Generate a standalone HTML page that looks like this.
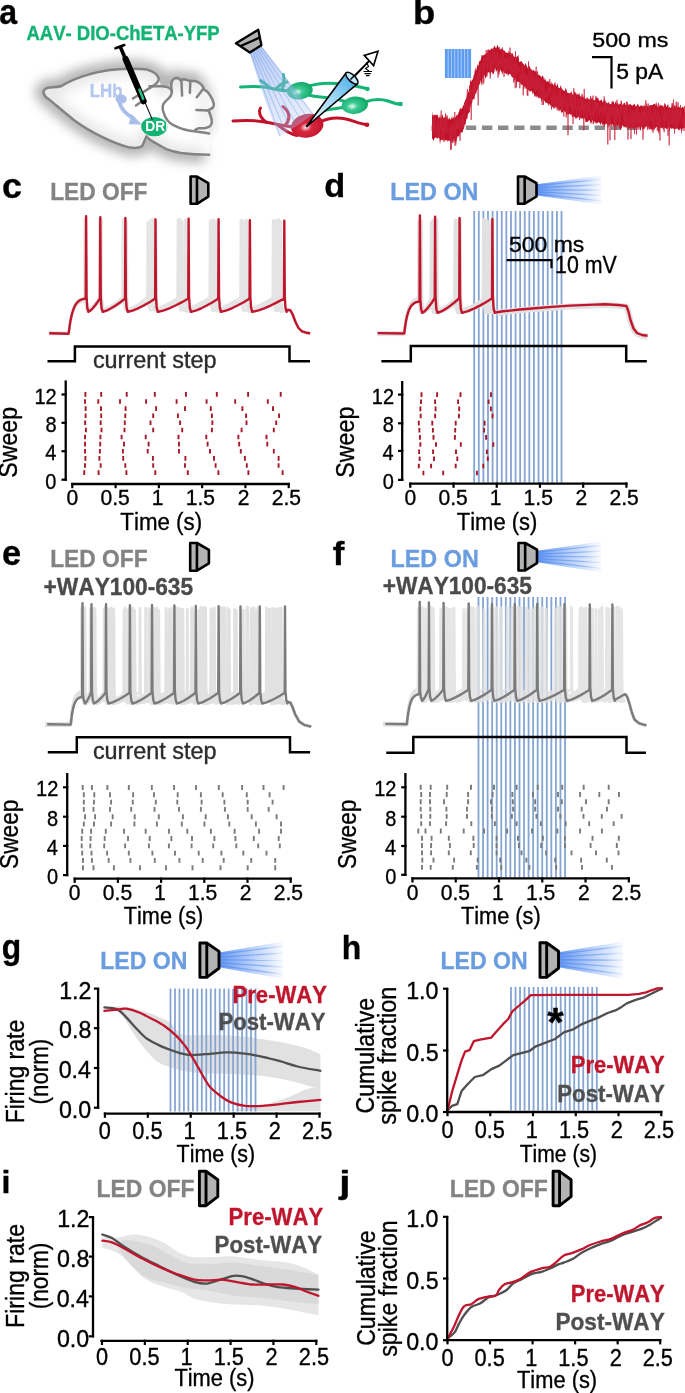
<!DOCTYPE html>
<html><head><meta charset="utf-8"><title>Figure</title><style>html,body{margin:0;padding:0;background:#fff;}svg{display:block;}</style></head><body>
<svg width="685" height="1393" viewBox="0 0 685 1393" font-family="'Liberation Sans', Arial, Helvetica, sans-serif" style="font-kerning:none"><defs><filter id="blur4" x="-25%" y="-40%" width="150%" height="180%"><feGaussianBlur stdDeviation="5.5"/></filter><filter id="blur1" x="-50%" y="-50%" width="200%" height="200%"><feGaussianBlur stdDeviation="0.6"/></filter><linearGradient id="fadeG" gradientUnits="userSpaceOnUse" x1="195" y1="0" x2="222" y2="0"><stop offset="0" stop-color="#fff"/><stop offset="1" stop-color="#000"/></linearGradient><mask id="fadeR" maskUnits="userSpaceOnUse" x="0" y="0" width="240" height="175"><rect x="0" y="0" width="240" height="175" fill="url(#fadeG)"/></mask><clipPath id="drnclip"><ellipse cx="154.3" cy="126.6" rx="13.1" ry="9.6"/></clipPath><radialGradient id="gsoma" cx="0.4" cy="0.55" r="0.6"><stop offset="0" stop-color="#e8fff4"/><stop offset="0.35" stop-color="#3cc893"/><stop offset="1" stop-color="#0ea866"/></radialGradient><radialGradient id="rsoma" cx="0.45" cy="0.55" r="0.6"><stop offset="0" stop-color="#ffe9ee"/><stop offset="0.3" stop-color="#d8283f"/><stop offset="1" stop-color="#c0102a"/></radialGradient><linearGradient id="cone" x1="0" y1="0" x2="0.35" y2="1"><stop offset="0" stop-color="#7fa2ee" stop-opacity="0.95"/><stop offset="1" stop-color="#b9cdf6" stop-opacity="0.55"/></linearGradient><linearGradient id="pip" x1="1" y1="0" x2="0" y2="1"><stop offset="0" stop-color="#3aa6e6"/><stop offset="0.45" stop-color="#9dd6f5"/><stop offset="1" stop-color="#f4fbff"/></linearGradient><linearGradient id="bm9" gradientUnits="userSpaceOnUse" x1="536.5" y1="0" x2="601.5" y2="0"><stop offset="0" stop-color="#5a90f0" stop-opacity="0.95"/><stop offset="0.4" stop-color="#86aff4" stop-opacity="0.75"/><stop offset="0.8" stop-color="#b4cdf8" stop-opacity="0.45"/><stop offset="1" stop-color="#d2e2fb" stop-opacity="0.15"/></linearGradient><linearGradient id="br10" gradientUnits="userSpaceOnUse" x1="536.5" y1="0" x2="601.5" y2="0"><stop offset="0" stop-color="#4a82ec" stop-opacity="0.55"/><stop offset="0.7" stop-color="#5a8ff0" stop-opacity="0.55"/><stop offset="1" stop-color="#7aa6f3" stop-opacity="0.1"/></linearGradient><linearGradient id="bm11" gradientUnits="userSpaceOnUse" x1="537" y1="0" x2="601" y2="0"><stop offset="0" stop-color="#5a90f0" stop-opacity="0.95"/><stop offset="0.4" stop-color="#86aff4" stop-opacity="0.75"/><stop offset="0.8" stop-color="#b4cdf8" stop-opacity="0.45"/><stop offset="1" stop-color="#d2e2fb" stop-opacity="0.15"/></linearGradient><linearGradient id="br12" gradientUnits="userSpaceOnUse" x1="537" y1="0" x2="601" y2="0"><stop offset="0" stop-color="#4a82ec" stop-opacity="0.55"/><stop offset="0.7" stop-color="#5a8ff0" stop-opacity="0.55"/><stop offset="1" stop-color="#7aa6f3" stop-opacity="0.1"/></linearGradient><linearGradient id="bm13" gradientUnits="userSpaceOnUse" x1="219" y1="0" x2="283" y2="0"><stop offset="0" stop-color="#5a90f0" stop-opacity="0.95"/><stop offset="0.4" stop-color="#86aff4" stop-opacity="0.75"/><stop offset="0.8" stop-color="#b4cdf8" stop-opacity="0.45"/><stop offset="1" stop-color="#d2e2fb" stop-opacity="0.15"/></linearGradient><linearGradient id="br14" gradientUnits="userSpaceOnUse" x1="219" y1="0" x2="283" y2="0"><stop offset="0" stop-color="#4a82ec" stop-opacity="0.55"/><stop offset="0.7" stop-color="#5a8ff0" stop-opacity="0.55"/><stop offset="1" stop-color="#7aa6f3" stop-opacity="0.1"/></linearGradient><linearGradient id="bm15" gradientUnits="userSpaceOnUse" x1="558.5" y1="0" x2="623" y2="0"><stop offset="0" stop-color="#5a90f0" stop-opacity="0.95"/><stop offset="0.4" stop-color="#86aff4" stop-opacity="0.75"/><stop offset="0.8" stop-color="#b4cdf8" stop-opacity="0.45"/><stop offset="1" stop-color="#d2e2fb" stop-opacity="0.15"/></linearGradient><linearGradient id="br16" gradientUnits="userSpaceOnUse" x1="558.5" y1="0" x2="623" y2="0"><stop offset="0" stop-color="#4a82ec" stop-opacity="0.55"/><stop offset="0.7" stop-color="#5a8ff0" stop-opacity="0.55"/><stop offset="1" stop-color="#7aa6f3" stop-opacity="0.1"/></linearGradient></defs><rect width="685" height="1393" fill="#fff"/><text x="-0.74" y="24.2" font-size="35.7" font-weight="bold" fill="#000" stroke="#000" stroke-width="0.35" textLength="17.84" lengthAdjust="spacingAndGlyphs">a</text>
<text x="26.44" y="39.7" font-size="19.76" font-weight="bold" fill="#12b373" stroke="#12b373" stroke-width="0.35" textLength="193.29" lengthAdjust="spacingAndGlyphs">AAV- DIO-ChETA-YFP</text>
<g mask="url(#fadeR)">
<path d="M209.2,133.4 C208,131 210,128 209.2,126.7 C211,126 212,120 211.2,118 C210,113 209,111.5 208.1,110.4 C211,109 214,106 213.8,103.7 C213,99 211,96 210.2,95.5 C208,92 206,90.5 204,89.4 C203,87 200,83 195.9,81.2 C193,80.6 190,80.6 188.7,80.7 C186,79.4 184,79.2 180.5,80.2 C179,78.3 176,77.8 173.4,79.2 C172,80.5 171.3,83 171.3,84.3 C170,86.5 165,86.3 161,86 C159.5,80 158.5,76.5 155.7,74 C150,70 140,68.4 130,68.6 C116,69 102,71.5 88.4,74.6 C80,76.5 72,80 60.7,86.3 C58.5,87.2 56,87.2 52,87.3 C47,87.7 44.5,88.5 43.5,91.5 C43,94 45,96 49,99.4 C56,106 63,112 73.8,119.9 C82,126 92,132 103,137.4 C110,141 118,144 130,147.6 C134,147.8 139,148 141.9,146.4 C143.5,144 144.5,140 146,137 C150,140 153,142 155,142.6 C160,145.5 163,147.5 165.2,148.7 C170,150.8 175,152 180.5,152.8 C190,153.8 200,154.6 209.2,154.8" fill="none" stroke="#9c9c9c" stroke-width="17" stroke-linecap="butt" filter="url(#blur4)" opacity="0.75"/>
<path d="M209.2,133.4 C208,131 210,128 209.2,126.7 C211,126 212,120 211.2,118 C210,113 209,111.5 208.1,110.4 C211,109 214,106 213.8,103.7 C213,99 211,96 210.2,95.5 C208,92 206,90.5 204,89.4 C203,87 200,83 195.9,81.2 C193,80.6 190,80.6 188.7,80.7 C186,79.4 184,79.2 180.5,80.2 C179,78.3 176,77.8 173.4,79.2 C172,80.5 171.3,83 171.3,84.3 C170,86.5 165,86.3 161,86 C159.5,80 158.5,76.5 155.7,74 C150,70 140,68.4 130,68.6 C116,69 102,71.5 88.4,74.6 C80,76.5 72,80 60.7,86.3 C58.5,87.2 56,87.2 52,87.3 C47,87.7 44.5,88.5 43.5,91.5 C43,94 45,96 49,99.4 C56,106 63,112 73.8,119.9 C82,126 92,132 103,137.4 C110,141 118,144 130,147.6 C134,147.8 139,148 141.9,146.4 C143.5,144 144.5,140 146,137 C150,140 153,142 155,142.6 C160,145.5 163,147.5 165.2,148.7 C170,150.8 175,152 180.5,152.8 C190,153.8 200,154.6 209.2,154.8 Z" fill="#fff" opacity="0.7"/>
</g>
<g fill="none" stroke="#838383" stroke-width="2.5" stroke-linecap="round" stroke-linejoin="round">
<path d="M133,98.5 L153.9,85.4 C157,83 159.3,80.5 158.7,78.4 C157.5,74 152,71 146.9,69.6 C138,68 120,68.6 110,70 C100,71.5 92,73.5 88.4,74.6 C78,77.5 68,82 60.7,86.3 C57,87.4 52,87.2 48,87.7 C44,88.6 43,91.5 43.6,93.6 C45,97 47,98.5 49,99.4 C57,106 65,113 73.8,119.9 C84,127.5 93,132.5 103,137.4 C112,141.8 121,145.5 130,147.6 C135,148.3 139,148 141.9,146.4 C143.6,144 144.5,140 146.5,136.5"/>
<path d="M136,105.5 L141,102"/>
<path d="M149.5,86.3 L161.1,86.3 C165,86.6 168,87 169.3,87.9 C171.5,89.5 172,90.5 171.9,91.5 C171.5,94 171,95.5 170.3,96.6 C168.5,99 166.5,100 165.2,101.7 C163.5,103.5 162.8,105 162.7,106.8 C162.5,109 163,111 163.7,112.9 C164.5,116 166,118.5 167.3,120.1 C169,122.5 171,124 173.4,125.2 C177,127 180,128.4 183.6,129.3 C187,130.2 190,130.8 193.8,131.3 C199,132 204,132.8 209.2,133.4"/>
<path d="M171.9,91.5 C171.3,88 171,86 171.3,84.3 C171.6,81.5 172.3,80 173.4,79.2 C174.6,78.3 176,78 177,78 C178.5,78.2 179.5,78.8 180.5,80.2 C181.5,79.5 182.5,79.2 183.5,79.2 C185.5,79.3 187,79.6 188.7,80.7 C191,80.6 193.5,80.6 195.9,81.2 C198.5,82.2 200.5,83.5 202,85.3 C203,86.8 203.7,88 204,89.4 C206,90.5 208.5,92 210.2,95.5 C211.5,97.5 212.8,99.5 213.8,103.7 C214,105.5 213.5,107 212.7,107.8 C211.5,108.8 210,109.3 208.1,110.4 C209,111.5 210,113.5 211.2,118 C212,120.5 211.8,122 211.7,123.1 C211,125 210.5,126 209.2,126.7 C207,127.8 205.5,128.1 204,128.2 C201,128.4 199,128 198.9,128.2 C197,128.5 195.5,129.5 194.9,130.3"/>
<path d="M182.1,95.6 L181.4,80.6 M189.9,92.8 L190.3,82 M196.8,97.3 L203.5,88.6 M196.4,110 L208.5,110.4"/>
<path d="M146.5,136.5 C149,139.5 152,141.5 156,143.4 C160,145.5 163,147.5 167,149.3 C172,151.2 176,152.2 181,152.9 C190,153.9 200,154.5 209.2,154.8"/>
</g>
<text x="89.67" y="97.2" font-size="19.2" font-weight="bold" fill="#b4c8ee" stroke="#b4c8ee" stroke-width="0.35" textLength="32.82" lengthAdjust="spacingAndGlyphs">LHb</text>
<ellipse cx="121.2" cy="99" rx="5.6" ry="4.6" fill="#a9bfea"/>
<path d="M119.5,102 C120.5,108 125,113.5 133.5,118.5" fill="none" stroke="#a9bfea" stroke-width="4" stroke-linecap="round"/>
<path d="M131.5,114 L142,124.5 L128.8,124.2 Z" fill="#a9bfea"/>
<ellipse cx="154.3" cy="126.6" rx="13.1" ry="9.6" fill="#12b373"/>
<g clip-path="url(#drnclip)">
<text x="145.3" y="131.4" font-size="13.8" font-weight="bold" fill="#fff">DRN</text>
</g>
<line x1="144.8" y1="101.9" x2="152.3" y2="119.6" stroke="#000" stroke-width="1.1"/>
<line x1="125.6" y1="59" x2="143.6" y2="101.2" stroke="#000" stroke-width="6.2" stroke-linecap="round"/>
<line x1="139.4" y1="89.6" x2="143.2" y2="98.9" stroke="#27c285" stroke-width="2.6" stroke-linecap="round"/>
<line x1="120.3" y1="46.8" x2="125.4" y2="59" stroke="#000" stroke-width="3.6"/>
<line x1="115.5" y1="48.2" x2="124.3" y2="45" stroke="#000" stroke-width="2.6" stroke-linecap="round"/>
<g fill="none" stroke="#13b476" stroke-width="3" stroke-linecap="round">
<path d="M240.5,87 C250,86.3 262,86 272,88.5 C280,90.5 286,91 292,91"/>
<path d="M270,88 C266,84 263,82 260.7,80.5 M282,90 C284,85 284.5,79 283.3,74.6 M276,89.5 C279,85 282,83 287,82"/>
<path d="M309,86 C318,83 330,82.5 342,84 C352,85.5 360,86.5 367,88.8"/>
<path d="M308,95 C318,97.5 328,97 338,99.5 C342,100.5 344,101 346,102"/>
<path d="M343,107.5 C335,109 326,109.5 318,112"/>
<path d="M365,102 C373,99 380,98.5 388,101 C393,103 397,104.2 400,104"/>
</g>
<circle cx="367.5" cy="89" r="2.2" fill="#13b476"/><circle cx="400.5" cy="104" r="2.3" fill="#13b476"/>
<ellipse cx="299.8" cy="90.8" rx="13" ry="8.7" fill="url(#gsoma)" transform="rotate(-8 299.8 90.8)"/>
<ellipse cx="354.8" cy="105.2" rx="13.2" ry="8.7" fill="url(#gsoma)" transform="rotate(-6 354.8 105.2)"/>
<g fill="none" stroke="#c0132b" stroke-width="3" stroke-linecap="round">
<path d="M233,121 C245,120 258,120.5 268,122.5 C278,124.5 286,126.5 294,127"/>
<path d="M266,122 C262,119 259.5,115 259.5,111.5 C259.7,109.5 260,108.5 260.5,108"/>
<path d="M285,125.5 C289,121 290,116 287.5,111.5 C286,109 284,107.5 283,106.5"/>
<path d="M278,125 C284,130 290,134 297,135.5"/>
<path d="M320,122 C328,118 337,117 346,119 C354,121 360,124 366.5,124.7"/>
</g>
<circle cx="367" cy="124.7" r="2.3" fill="#c0132b"/>
<ellipse cx="307.2" cy="125.8" rx="16.4" ry="11.8" fill="url(#rsoma)" transform="rotate(-12 307.2 125.8)"/>
<path d="M249.7,52.7 L261.2,45.6 C280,70 300,95 314,114 C300,124 290,130 279,137 C268,110 258,80 249.7,52.7 Z" fill="url(#cone)" opacity="0.62"/>
<g stroke="#5f86e0" stroke-width="0.7" opacity="0.55">
<line x1="250.5" y1="52.2" x2="280" y2="136"/>
<line x1="252.17" y1="51.17" x2="285.5" y2="132.42"/>
<line x1="253.83" y1="50.13" x2="291" y2="128.83"/>
<line x1="255.5" y1="49.1" x2="296.5" y2="125.25"/>
<line x1="257.17" y1="48.07" x2="302" y2="121.67"/>
<line x1="258.83" y1="47.03" x2="307.5" y2="118.08"/>
<line x1="260.5" y1="46" x2="313" y2="114.5"/>
</g>
<path d="M236,43.2 L258.3,29.8 L261.4,45.3 L249.8,52.5 Z" stroke="#000" stroke-width="2.3" fill="#b2b2b2" stroke-linejoin="round"/>
<line x1="240.2" y1="46.3" x2="259.6" y2="37.6" stroke="#000" stroke-width="2.3"/>
<line x1="306.6" y1="126.5" x2="376" y2="54" stroke="#000" stroke-width="1.6"/>
<path d="M306.6,126.5 L346.2,72.8 L357.6,83.6 Z" stroke="#000" stroke-width="1.6" fill="url(#pip)" stroke-linejoin="round"/>
<ellipse cx="351.9" cy="78.2" rx="7.9" ry="3.3" transform="rotate(43.5 351.9 78.2)" fill="#bfe6fb" stroke="#000" stroke-width="1.5"/>
<line x1="350.5" y1="79.5" x2="376" y2="54" stroke="#000" stroke-width="1.6"/>
<path d="M378,51.2 L364.2,55.4 L373.6,65.6 Z" stroke="#000" stroke-width="1.6" fill="#fff" stroke-linejoin="miter"/>
<path d="M366.5,62 L368.5,66.5 L365.5,68.5 L369,71 M363.5,71.5 L372,71.5 M364.5,73.6 L370.8,73.6 M366,75.6 L369.5,75.6" stroke="#000" stroke-width="1.1" fill="none"/>
<text x="413.01" y="24.3" font-size="33.66" font-weight="bold" fill="#000" stroke="#000" stroke-width="0.35" textLength="22.18" lengthAdjust="spacingAndGlyphs">b</text>
<rect x="444.9" y="49" width="26.2" height="29" fill="#5b9cf0"/>
<line x1="448.17" y1="49" x2="448.17" y2="78" stroke="#cfe0fb" stroke-width="0.7"/>
<line x1="451.45" y1="49" x2="451.45" y2="78" stroke="#cfe0fb" stroke-width="0.7"/>
<line x1="454.72" y1="49" x2="454.72" y2="78" stroke="#cfe0fb" stroke-width="0.7"/>
<line x1="458" y1="49" x2="458" y2="78" stroke="#cfe0fb" stroke-width="0.7"/>
<line x1="461.27" y1="49" x2="461.27" y2="78" stroke="#cfe0fb" stroke-width="0.7"/>
<line x1="464.55" y1="49" x2="464.55" y2="78" stroke="#cfe0fb" stroke-width="0.7"/>
<line x1="467.82" y1="49" x2="467.82" y2="78" stroke="#cfe0fb" stroke-width="0.7"/>
<line x1="465.8" y1="127.7" x2="642" y2="127.7" stroke="#8b8b8b" stroke-width="4.6" stroke-dasharray="10.4 5.7"/>
<path d="M432.0,111.5 432.8,116.1 433.6,115.0 434.4,114.8 435.2,115.4 436.0,114.0 436.8,115.4 437.6,114.4 438.4,117.7 439.2,118.3 440.0,115.1 440.8,118.6 441.6,117.6 442.4,113.8 443.2,117.6 444.0,118.5 444.8,117.3 445.6,117.5 446.4,118.3 447.2,115.0 448.0,120.1 448.8,118.2 449.6,117.7 450.4,119.8 451.2,119.0 452.0,115.7 452.8,119.1 453.6,116.8 454.4,119.0 455.2,117.6 456.0,116.3 456.8,115.1 457.6,115.9 458.4,112.7 459.2,111.2 460.0,107.7 460.8,108.8 461.6,109.0 462.4,107.4 463.2,105.5 464.0,104.8 464.8,101.8 465.6,100.6 466.4,97.4 467.2,93.9 468.0,92.8 468.8,91.0 469.6,86.3 470.4,79.2 471.2,82.1 472.0,79.7 472.8,79.4 473.6,76.1 474.4,73.2 475.2,67.2 476.0,71.3 476.8,67.6 477.6,64.3 478.4,66.1 479.2,61.3 480.0,60.8 480.8,60.3 481.6,54.7 482.4,55.5 483.2,55.5 484.0,55.1 484.8,54.3 485.6,54.1 486.4,53.8 487.2,50.8 488.0,53.2 488.8,50.5 489.6,49.9 490.4,49.9 491.2,47.8 492.0,49.4 492.8,49.2 493.6,47.6 494.4,45.6 495.2,47.2 496.0,48.1 496.8,47.1 497.6,44.4 498.4,47.8 499.2,46.2 500.0,50.3 500.8,48.2 501.6,49.3 502.4,46.5 503.2,51.3 504.0,50.5 504.8,51.1 505.6,52.4 506.4,52.6 507.2,52.8 508.0,53.2 508.8,50.6 509.6,52.8 510.4,52.8 511.2,54.8 512.0,54.0 512.8,53.3 513.6,56.2 514.4,56.8 515.2,56.9 516.0,57.8 516.8,56.5 517.6,55.9 518.4,55.0 519.2,61.7 520.0,62.0 520.8,61.1 521.6,61.6 522.4,62.8 523.2,63.8 524.0,64.6 524.8,65.9 525.6,62.4 526.4,64.9 527.2,67.2 528.0,68.0 528.8,64.8 529.6,66.5 530.4,68.4 531.2,68.8 532.0,70.8 532.8,70.6 533.6,69.9 534.4,70.9 535.2,71.6 536.0,71.2 536.8,73.7 537.6,75.1 538.4,74.4 539.2,75.0 540.0,75.7 540.8,76.2 541.6,77.6 542.4,75.6 543.2,75.9 544.0,80.4 544.8,79.7 545.6,79.3 546.4,81.8 547.2,81.7 548.0,80.6 548.8,82.0 549.6,82.7 550.4,84.6 551.2,81.2 552.0,84.7 552.8,83.1 553.6,85.7 554.4,83.7 555.2,81.5 556.0,86.4 556.8,85.5 557.6,83.4 558.4,87.6 559.2,88.2 560.0,87.8 560.8,85.0 561.6,88.2 562.4,89.4 563.2,89.7 564.0,90.9 564.8,91.1 565.6,87.8 566.4,89.4 567.2,92.4 568.0,93.0 568.8,93.0 569.6,93.4 570.4,93.3 571.2,91.1 572.0,93.2 572.8,95.1 573.6,94.6 574.4,90.7 575.2,93.5 576.0,92.2 576.8,95.2 577.6,93.4 578.4,95.3 579.2,92.4 580.0,96.1 580.8,96.4 581.6,97.2 582.4,94.4 583.2,98.1 584.0,96.1 584.8,97.7 585.6,99.0 586.4,99.2 587.2,97.6 588.0,99.5 588.8,98.2 589.6,99.7 590.4,100.5 591.2,98.9 592.0,96.5 592.8,99.4 593.6,99.8 594.4,100.6 595.2,99.7 596.0,98.3 596.8,97.0 597.6,98.0 598.4,98.4 599.2,100.9 600.0,100.5 600.8,100.2 601.6,99.2 602.4,102.2 603.2,101.6 604.0,99.6 604.8,99.9 605.6,103.5 606.4,101.9 607.2,103.4 608.0,102.7 608.8,101.9 609.6,104.0 610.4,103.9 611.2,104.4 612.0,100.4 612.8,102.1 613.6,101.1 614.4,104.7 615.2,102.6 616.0,100.9 616.8,104.3 617.6,102.6 618.4,104.4 619.2,104.4 620.0,102.9 620.8,104.6 621.6,100.4 622.4,104.9 623.2,105.0 624.0,102.7 624.8,102.7 625.6,105.2 626.4,104.4 627.2,101.7 628.0,106.0 628.8,103.8 629.6,104.5 630.4,104.1 631.2,105.0 632.0,105.6 632.8,105.6 633.6,104.6 634.4,103.4 635.2,105.6 636.0,106.4 636.8,106.6 637.6,103.5 638.4,104.9 639.2,106.4 640.0,106.4 640.8,105.1 641.6,105.8 642.4,105.8 643.2,106.9 644.0,104.3 644.8,106.2 645.6,106.4 646.4,105.9 647.2,106.5 648.0,104.9 648.8,107.1 649.6,105.3 650.4,104.9 651.2,105.2 652.0,105.1 652.8,105.0 653.6,103.9 654.4,103.9 655.2,103.2 656.0,105.9 656.8,101.4 657.6,106.9 658.4,107.0 659.2,106.3 660.0,103.9 660.8,106.0 661.6,105.2 662.4,104.9 663.2,107.5 664.0,104.9 664.8,104.9 665.6,104.1 666.4,107.0 667.2,105.7 668.0,103.6 668.8,107.9 669.6,106.8 670.4,108.0 671.2,107.4 672.0,103.7 672.8,105.8 673.6,107.9 674.4,106.0 675.2,105.7 676.0,107.2 676.8,102.9 677.6,107.9 678.4,106.2 679.2,107.6 680.0,106.8 680.8,108.2 681.6,107.9 682.4,106.5 683.2,108.0 684.0,106.6 684.8,105.5 684.8,127.7 684.0,127.9 683.2,128.4 682.4,128.8 681.6,134.8 680.8,127.6 680.0,130.8 679.2,129.2 678.4,130.6 677.6,128.5 676.8,127.9 676.0,128.4 675.2,129.3 674.4,129.7 673.6,128.6 672.8,128.6 672.0,128.2 671.2,129.1 670.4,127.3 669.6,132.3 668.8,127.8 668.0,127.4 667.2,128.7 666.4,129.2 665.6,128.0 664.8,127.9 664.0,128.2 663.2,130.5 662.4,127.2 661.6,128.6 660.8,127.8 660.0,127.7 659.2,131.2 658.4,131.2 657.6,127.7 656.8,126.8 656.0,127.2 655.2,128.4 654.4,128.7 653.6,129.0 652.8,128.7 652.0,131.1 651.2,128.9 650.4,129.3 649.6,127.2 648.8,126.9 648.0,129.9 647.2,126.6 646.4,126.5 645.6,126.5 644.8,129.5 644.0,127.4 643.2,130.1 642.4,130.3 641.6,126.1 640.8,130.0 640.0,130.8 639.2,126.8 638.4,126.8 637.6,128.2 636.8,126.3 636.0,129.1 635.2,127.7 634.4,125.7 633.6,129.6 632.8,128.2 632.0,126.8 631.2,128.0 630.4,128.3 629.6,127.8 628.8,128.7 628.0,126.5 627.2,126.9 626.4,128.1 625.6,126.4 624.8,127.8 624.0,125.9 623.2,126.4 622.4,125.1 621.6,128.2 620.8,129.2 620.0,130.1 619.2,125.7 618.4,124.7 617.6,126.5 616.8,125.0 616.0,125.4 615.2,126.5 614.4,125.4 613.6,126.6 612.8,124.6 612.0,124.3 611.2,126.4 610.4,123.6 609.6,125.0 608.8,123.9 608.0,129.5 607.2,123.5 606.4,123.7 605.6,123.8 604.8,125.5 604.0,127.5 603.2,123.9 602.4,125.3 601.6,121.9 600.8,125.0 600.0,123.7 599.2,122.4 598.4,121.9 597.6,123.1 596.8,123.1 596.0,124.1 595.2,122.0 594.4,121.5 593.6,124.6 592.8,120.1 592.0,121.0 591.2,124.0 590.4,122.9 589.6,119.7 588.8,120.7 588.0,121.2 587.2,122.0 586.4,122.0 585.6,122.5 584.8,118.3 584.0,118.7 583.2,118.8 582.4,118.4 581.6,118.3 580.8,118.7 580.0,117.6 579.2,117.9 578.4,116.5 577.6,118.1 576.8,117.4 576.0,119.5 575.2,117.5 574.4,116.9 573.6,116.2 572.8,116.6 572.0,116.9 571.2,114.0 570.4,114.7 569.6,113.8 568.8,114.4 568.0,114.8 567.2,114.0 566.4,115.3 565.6,111.5 564.8,112.3 564.0,110.6 563.2,111.3 562.4,112.5 561.6,113.1 560.8,110.9 560.0,108.8 559.2,111.7 558.4,110.3 557.6,107.5 556.8,107.0 556.0,107.4 555.2,106.1 554.4,107.1 553.6,108.8 552.8,106.8 552.0,106.7 551.2,104.3 550.4,106.0 549.6,103.4 548.8,106.5 548.0,102.9 547.2,103.7 546.4,102.4 545.6,102.9 544.8,101.0 544.0,100.5 543.2,99.7 542.4,98.8 541.6,102.1 540.8,98.3 540.0,98.0 539.2,96.6 538.4,98.7 537.6,96.1 536.8,98.1 536.0,95.1 535.2,96.9 534.4,96.3 533.6,92.4 532.8,94.2 532.0,91.4 531.2,90.4 530.4,91.5 529.6,91.5 528.8,90.0 528.0,90.0 527.2,87.9 526.4,88.5 525.6,88.7 524.8,85.8 524.0,87.8 523.2,84.8 522.4,84.7 521.6,84.0 520.8,84.8 520.0,81.9 519.2,82.1 518.4,82.0 517.6,81.2 516.8,83.6 516.0,80.7 515.2,78.1 514.4,81.6 513.6,77.0 512.8,77.4 512.0,77.3 511.2,75.7 510.4,73.9 509.6,74.1 508.8,74.2 508.0,76.2 507.2,73.2 506.4,74.6 505.6,72.9 504.8,73.5 504.0,72.2 503.2,70.8 502.4,75.1 501.6,72.1 500.8,70.2 500.0,69.6 499.2,75.5 498.4,74.1 497.6,69.4 496.8,70.4 496.0,72.5 495.2,67.6 494.4,71.3 493.6,74.2 492.8,74.2 492.0,72.0 491.2,72.2 490.4,75.2 489.6,72.2 488.8,72.3 488.0,72.6 487.2,73.3 486.4,77.0 485.6,78.8 484.8,75.8 484.0,75.2 483.2,76.8 482.4,78.6 481.6,86.2 480.8,79.8 480.0,84.6 479.2,84.1 478.4,87.0 477.6,89.3 476.8,90.4 476.0,94.8 475.2,93.3 474.4,99.7 473.6,99.1 472.8,99.2 472.0,103.6 471.2,104.1 470.4,107.4 469.6,111.1 468.8,113.2 468.0,113.8 467.2,119.7 466.4,118.4 465.6,124.4 464.8,124.5 464.0,127.9 463.2,129.8 462.4,133.1 461.6,132.2 460.8,132.7 460.0,133.2 459.2,136.7 458.4,136.3 457.6,136.2 456.8,139.5 456.0,146.5 455.2,141.7 454.4,140.8 453.6,139.1 452.8,143.7 452.0,140.5 451.2,141.8 450.4,141.4 449.6,140.4 448.8,141.3 448.0,140.0 447.2,141.8 446.4,139.9 445.6,140.3 444.8,141.0 444.0,138.7 443.2,140.9 442.4,140.0 441.6,138.9 440.8,140.1 440.0,144.2 439.2,137.8 438.4,137.6 437.6,138.5 436.8,138.2 436.0,137.4 435.2,137.5 434.4,138.5 433.6,140.9 432.8,139.4 432.0,138.3Z" fill="#c11229"/>
<path d="M432.0,125.7 432.2,131.1 432.5,121.0 432.8,126.1 433.0,134.8 433.2,129.3 433.5,115.9 433.8,133.6 434.0,115.8 434.2,115.4 434.5,129.8 434.8,127.4 435.0,129.8 435.2,130.5 435.5,131.6 435.8,136.1 436.0,125.3 436.2,127.0 436.5,124.6 436.8,121.1 437.0,122.2 437.2,129.5 437.5,128.2 437.8,137.0 438.0,127.1 438.2,122.2 438.5,117.7 438.8,133.7 439.0,138.0 439.2,130.5 439.5,132.3 439.8,123.7 440.0,121.2 440.2,124.3 440.5,117.9 440.8,129.8 441.0,114.9 441.2,110.6 441.5,139.8 441.8,135.2 442.0,130.2 442.2,130.1 442.5,128.6 442.8,135.5 443.0,120.2 443.2,131.4 443.5,132.4 443.8,124.5 444.0,141.9 444.2,117.1 444.5,129.5 444.8,134.0 445.0,128.9 445.2,129.7 445.5,113.3 445.8,122.1 446.0,121.4 446.2,122.2 446.5,132.0 446.8,115.3 447.0,126.8 447.2,131.4 447.5,133.9 447.8,131.5 448.0,129.7 448.2,129.7 448.5,128.7 448.8,131.0 449.0,133.0 449.2,134.1 449.5,139.7 449.8,139.4 450.0,127.0 450.2,130.2 450.5,128.6 450.8,150.0 451.0,125.8 451.2,149.3 451.5,143.3 451.8,127.5 452.0,126.5 452.2,132.4 452.5,130.3 452.8,122.9 453.0,142.6 453.2,127.6 453.5,128.5 453.8,123.7 454.0,130.3 454.2,128.9 454.5,122.3 454.8,112.0 455.0,145.7 455.2,126.9 455.5,128.8 455.8,132.7 456.0,138.9 456.2,119.8 456.5,128.2 456.8,124.1 457.0,128.9 457.2,114.8 457.5,127.4 457.8,119.4 458.0,119.5 458.2,129.1 458.5,126.2 458.8,127.3 459.0,125.1 459.2,119.7 459.5,119.4 459.8,117.2 460.0,140.8 460.2,123.6 460.5,128.4 460.8,118.2 461.0,122.1 461.2,125.7 461.5,115.5 461.8,117.0 462.0,125.0 462.2,115.6 462.5,124.7 462.8,114.2 463.0,128.7 463.2,115.6 463.5,129.0 463.8,116.1 464.0,113.6 464.2,105.4 464.5,102.0 464.8,108.6 465.0,112.1 465.2,116.9 465.5,99.6 465.8,105.3 466.0,102.7 466.2,102.9 466.5,99.2 466.8,109.3 467.0,101.5 467.2,91.7 467.5,88.9 467.8,97.6 468.0,108.5 468.2,107.5 468.5,110.8 468.8,105.4 469.0,106.3 469.2,108.4 469.5,112.1 469.8,85.4 470.0,90.5 470.2,101.1 470.5,99.4 470.8,101.1 471.0,96.0 471.2,119.9 471.5,91.3 471.8,92.2 472.0,88.5 472.2,90.2 472.5,93.0 472.8,88.6 473.0,89.6 473.2,82.5 473.5,98.4 473.8,80.0 474.0,94.2 474.2,81.2 474.5,95.0 474.8,88.2 475.0,93.0 475.2,79.4 475.5,84.2 475.8,80.0 476.0,76.7 476.2,88.3 476.5,86.1 476.8,85.8 477.0,80.2 477.2,80.3 477.5,73.8 477.8,88.3 478.0,95.4 478.2,105.5 478.5,71.1 478.8,73.4 479.0,84.4 479.2,81.6 479.5,76.5 479.8,66.4 480.0,78.2 480.2,70.5 480.5,65.9 480.8,64.6 481.0,71.2 481.2,70.8 481.5,69.7 481.8,70.1 482.0,64.3 482.2,61.8 482.5,62.7 482.8,67.5 483.0,84.5 483.2,61.7 483.5,71.8 483.8,82.6 484.0,57.4 484.2,66.8 484.5,70.7 484.8,65.3 485.0,66.4 485.2,65.1 485.5,57.2 485.8,60.0 486.0,61.2 486.2,50.0 486.5,67.8 486.8,63.3 487.0,76.3 487.2,67.0 487.5,61.9 487.8,50.3 488.0,49.6 488.2,62.3 488.5,49.7 488.8,54.9 489.0,62.4 489.2,63.7 489.5,72.3 489.8,69.8 490.0,54.0 490.2,78.5 490.5,61.0 490.8,52.7 491.0,71.2 491.2,65.2 491.5,59.3 491.8,71.5 492.0,68.2 492.2,58.7 492.5,54.9 492.8,48.6 493.0,62.9 493.2,61.1 493.5,69.0 493.8,67.4 494.0,53.6 494.2,49.0 494.5,50.6 494.8,57.4 495.0,61.7 495.2,55.2 495.5,65.9 495.8,59.2 496.0,53.1 496.2,60.2 496.5,60.9 496.8,67.7 497.0,62.4 497.2,57.8 497.5,67.3 497.8,52.0 498.0,77.5 498.2,59.4 498.5,58.2 498.8,63.2 499.0,59.8 499.2,59.4 499.5,71.5 499.8,70.8 500.0,58.3 500.2,66.6 500.5,54.6 500.8,56.8 501.0,63.5 501.2,61.5 501.5,65.5 501.8,58.6 502.0,63.3 502.2,67.2 502.5,64.8 502.8,52.0 503.0,50.6 503.2,57.9 503.5,50.3 503.8,65.1 504.0,76.9 504.2,66.5 504.5,58.5 504.8,66.8 505.0,61.3 505.2,72.3 505.5,58.9 505.8,64.9 506.0,69.2 506.2,57.9 506.5,70.3 506.8,62.5 507.0,68.2 507.2,66.4 507.5,62.5 507.8,72.2 508.0,57.0 508.2,67.1 508.5,62.1 508.8,65.6 509.0,69.4 509.2,69.6 509.5,65.0 509.8,69.3 510.0,47.6 510.2,70.0 510.5,66.2 510.8,64.8 511.0,73.9 511.2,66.5 511.5,71.5 511.8,53.1 512.0,68.7 512.2,68.3 512.5,76.4 512.8,62.1 513.0,57.8 513.2,68.9 513.5,68.5 513.8,82.6 514.0,70.9 514.2,71.2 514.5,69.6 514.8,69.5 515.0,64.1 515.2,88.2 515.5,51.2 515.8,72.9 516.0,63.7 516.2,69.7 516.5,87.4 516.8,63.6 517.0,64.8 517.2,72.3 517.5,70.2 517.8,71.9 518.0,68.4 518.2,66.3 518.5,66.0 518.8,70.8 519.0,73.3 519.2,66.7 519.5,66.7 519.8,88.3 520.0,73.1 520.2,79.3 520.5,76.5 520.8,78.1 521.0,74.1 521.2,74.7 521.5,84.7 521.8,64.6 522.0,79.2 522.2,71.1 522.5,73.8 522.8,72.3 523.0,69.9 523.2,95.4 523.5,64.3 523.8,88.9 524.0,76.8 524.2,81.6 524.5,73.4 524.8,76.6 525.0,79.9 525.2,73.8 525.5,83.3 525.8,77.8 526.0,78.4 526.2,77.3 526.5,76.5 526.8,88.8 527.0,75.0 527.2,95.1 527.5,76.5 527.8,96.1 528.0,86.8 528.2,89.2 528.5,61.3 528.8,81.5 529.0,79.0 529.2,86.6 529.5,84.5 529.8,91.1 530.0,81.1 530.2,70.4 530.5,72.2 530.8,89.6 531.0,80.6 531.2,75.4 531.5,75.0 531.8,79.0 532.0,86.7 532.2,81.0 532.5,70.6 532.8,81.9 533.0,73.5 533.2,87.0 533.5,88.2 533.8,74.0 534.0,80.2 534.2,91.6 534.5,84.7 534.8,88.2 535.0,90.3 535.2,77.5 535.5,92.1 535.8,83.6 536.0,71.9 536.2,66.7 536.5,90.2 536.8,72.5 537.0,83.9 537.2,88.5 537.5,71.3 537.8,77.4 538.0,80.5 538.2,87.5 538.5,93.4 538.8,92.0 539.0,83.7 539.2,89.4 539.5,78.5 539.8,98.2 540.0,85.2 540.2,83.3 540.5,89.9 540.8,79.2 541.0,80.8 541.2,93.4 541.5,93.8 541.8,97.6 542.0,82.4 542.2,105.0 542.5,84.4 542.8,94.8 543.0,86.3 543.2,93.0 543.5,104.7 543.8,90.4 544.0,78.0 544.2,98.3 544.5,99.2 544.8,91.4 545.0,99.1 545.2,96.2 545.5,94.6 545.8,95.9 546.0,97.8 546.2,96.8 546.5,93.1 546.8,95.5 547.0,90.0 547.2,92.7 547.5,100.7 547.8,87.3 548.0,94.1 548.2,88.3 548.5,95.4 548.8,89.5 549.0,86.7 549.2,92.9 549.5,91.4 549.8,79.1 550.0,94.1 550.2,92.2 550.5,87.1 550.8,89.2 551.0,86.4 551.2,99.1 551.5,109.5 551.8,97.3 552.0,96.1 552.2,107.0 552.5,98.6 552.8,102.5 553.0,92.7 553.2,96.9 553.5,105.4 553.8,98.4 554.0,97.4 554.2,87.9 554.5,83.9 554.8,108.3 555.0,107.9 555.2,96.3 555.5,104.8 555.8,95.9 556.0,103.3 556.2,107.7 556.5,90.3 556.8,106.9 557.0,95.5 557.2,110.3 557.5,101.9 557.8,95.6 558.0,97.2 558.2,99.9 558.5,108.0 558.8,94.3 559.0,99.3 559.2,95.2 559.5,89.7 559.8,109.8 560.0,101.4 560.2,96.9 560.5,89.4 560.8,107.1 561.0,93.7 561.2,96.5 561.5,104.9 561.8,110.2 562.0,99.8 562.2,110.1 562.5,109.7 562.8,95.2 563.0,94.9 563.2,95.7 563.5,104.1 563.8,116.6 564.0,99.0 564.2,103.7 564.5,93.2 564.8,96.7 565.0,97.8 565.2,102.2 565.5,103.6 565.8,104.4 566.0,103.4 566.2,117.5 566.5,96.2 566.8,99.9 567.0,113.0 567.2,98.2 567.5,111.0 567.8,105.2 568.0,135.2 568.2,107.5 568.5,106.2 568.8,107.0 569.0,95.4 569.2,93.7 569.5,103.1 569.8,106.0 570.0,103.8 570.2,103.3 570.5,92.9 570.8,106.7 571.0,108.3 571.2,107.5 571.5,104.4 571.8,93.7 572.0,103.7 572.2,113.5 572.5,99.3 572.8,104.0 573.0,124.0 573.2,119.1 573.5,104.4 573.8,88.3 574.0,109.8 574.2,101.0 574.5,98.0 574.8,97.6 575.0,92.4 575.2,108.1 575.5,95.3 575.8,110.0 576.0,108.1 576.2,115.4 576.5,107.0 576.8,107.3 577.0,116.6 577.2,109.4 577.5,99.0 577.8,98.3 578.0,100.8 578.2,102.9 578.5,108.6 578.8,105.0 579.0,109.8 579.2,105.6 579.5,120.1 579.8,109.8 580.0,111.5 580.2,98.3 580.5,116.8 580.8,114.0 581.0,106.0 581.2,108.0 581.5,106.0 581.8,101.0 582.0,93.9 582.2,107.4 582.5,101.3 582.8,111.7 583.0,105.5 583.2,99.6 583.5,119.0 583.8,130.4 584.0,129.5 584.2,89.0 584.5,109.6 584.8,104.1 585.0,111.2 585.2,103.8 585.5,111.0 585.8,119.3 586.0,106.9 586.2,106.7 586.5,111.2 586.8,99.4 587.0,97.5 587.2,118.2 587.5,113.9 587.8,110.1 588.0,102.6 588.2,109.4 588.5,101.2 588.8,111.7 589.0,105.8 589.2,104.6 589.5,115.5 589.8,101.3 590.0,98.8 590.2,114.6 590.5,96.0 590.8,113.6 591.0,106.7 591.2,120.6 591.5,113.2 591.8,114.7 592.0,113.7 592.2,115.7 592.5,110.1 592.8,107.3 593.0,95.6 593.2,124.0 593.5,106.5 593.8,112.6 594.0,112.7 594.2,117.5 594.5,113.6 594.8,100.5 595.0,107.2 595.2,111.9 595.5,110.2 595.8,95.9 596.0,111.2 596.2,103.9 596.5,120.1 596.8,103.1 597.0,107.1 597.2,102.4 597.5,109.3 597.8,109.3 598.0,109.3 598.2,102.0 598.5,102.3 598.8,114.5 599.0,115.8 599.2,110.0 599.5,105.7 599.8,117.2 600.0,108.0 600.2,110.9 600.5,108.9 600.8,111.8 601.0,110.5 601.2,104.0 601.5,105.2 601.8,111.4 602.0,109.6 602.2,106.0 602.5,119.0 602.8,111.9 603.0,111.7 603.2,113.3 603.5,110.6 603.8,106.6 604.0,111.9 604.2,96.3 604.5,115.1 604.8,106.3 605.0,115.1 605.2,100.5 605.5,108.5 605.8,111.2 606.0,104.9 606.2,103.3 606.5,110.9 606.8,121.8 607.0,105.1 607.2,124.2 607.5,113.3 607.8,144.5 608.0,112.6 608.2,118.8 608.5,104.7 608.8,118.1 609.0,126.2 609.2,107.9 609.5,124.1 609.8,107.1 610.0,140.4 610.2,113.1 610.5,114.0 610.8,117.3 611.0,115.2 611.2,107.8 611.5,115.2 611.8,110.1 612.0,116.2 612.2,104.0 612.5,116.7 612.8,110.3 613.0,113.9 613.2,106.8 613.5,113.9 613.8,119.5 614.0,121.7 614.2,117.2 614.5,105.7 614.8,140.0 615.0,105.7 615.2,116.3 615.5,109.4 615.8,119.7 616.0,129.9 616.2,107.1 616.5,120.3 616.8,112.1 617.0,99.8 617.2,116.2 617.5,110.3 617.8,110.3 618.0,106.4 618.2,116.2 618.5,108.1 618.8,117.8 619.0,111.4 619.2,127.6 619.5,113.8 619.8,123.2 620.0,116.6 620.2,109.0 620.5,106.5 620.8,109.9 621.0,112.6 621.2,100.8 621.5,114.9 621.8,115.9 622.0,107.2 622.2,108.8 622.5,107.8 622.8,109.0 623.0,106.6 623.2,109.3 623.5,103.9 623.8,118.5 624.0,127.2 624.2,118.2 624.5,106.6 624.8,125.0 625.0,115.2 625.2,121.5 625.5,106.5 625.8,119.8 626.0,113.8 626.2,114.8 626.5,101.7 626.8,126.7 627.0,101.9 627.2,106.7 627.5,113.0 627.8,117.5 628.0,139.5 628.2,116.8 628.5,118.8 628.8,115.2 629.0,127.0 629.2,117.2 629.5,116.8 629.8,118.0 630.0,123.0 630.2,107.1 630.5,114.1 630.8,108.5 631.0,139.1 631.2,113.6 631.5,117.2 631.8,113.5 632.0,123.1 632.2,128.1 632.5,110.0 632.8,122.9 633.0,123.8 633.2,126.0 633.5,111.2 633.8,110.9 634.0,127.7 634.2,112.1 634.5,133.8 634.8,123.3 635.0,111.5 635.2,124.6 635.5,111.4 635.8,112.7 636.0,108.7 636.2,123.8 636.5,134.6 636.8,111.0 637.0,105.3 637.2,109.7 637.5,122.8 637.8,105.3 638.0,114.4 638.2,129.9 638.5,122.0 638.8,113.1 639.0,117.8 639.2,112.0 639.5,117.4 639.8,126.0 640.0,117.9 640.2,121.7 640.5,113.6 640.8,117.3 641.0,117.5 641.2,125.7 641.5,108.7 641.8,115.5 642.0,118.2 642.2,120.7 642.5,110.1 642.8,113.8 643.0,139.7 643.2,123.3 643.5,108.4 643.8,107.6 644.0,124.5 644.2,123.7 644.5,122.1 644.8,110.7 645.0,118.1 645.2,109.5 645.5,124.3 645.8,100.4 646.0,118.1 646.2,121.0 646.5,103.6 646.8,111.8 647.0,119.0 647.2,115.5 647.5,129.8 647.8,129.0 648.0,105.8 648.2,103.4 648.5,113.0 648.8,118.3 649.0,117.3 649.2,118.9 649.5,129.4 649.8,108.3 650.0,119.5 650.2,106.3 650.5,120.7 650.8,118.4 651.0,114.4 651.2,111.7 651.5,121.9 651.8,120.9 652.0,112.8 652.2,117.6 652.5,116.6 652.8,116.1 653.0,132.7 653.2,120.7 653.5,126.9 653.8,106.2 654.0,130.3 654.2,126.3 654.5,111.0 654.8,119.0 655.0,114.4 655.2,114.3 655.5,115.1 655.8,108.5 656.0,116.4 656.2,124.3 656.5,120.6 656.8,111.8 657.0,110.9 657.2,131.0 657.5,131.1 657.8,122.4 658.0,111.5 658.2,118.0 658.5,103.1 658.8,133.4 659.0,122.0 659.2,120.6 659.5,116.4 659.8,136.4 660.0,140.5 660.2,120.5 660.5,120.2 660.8,124.2 661.0,113.9 661.2,115.7 661.5,116.2 661.8,112.8 662.0,111.0 662.2,112.2 662.5,109.0 662.8,110.2 663.0,118.1 663.2,119.8 663.5,117.0 663.8,115.1 664.0,125.0 664.2,132.2 664.5,103.4 664.8,119.5 665.0,120.7 665.2,111.6 665.5,116.9 665.8,117.1 666.0,113.9 666.2,117.1 666.5,121.5 666.8,112.9 667.0,117.5 667.2,115.0 667.5,109.1 667.8,117.8 668.0,135.7 668.2,119.9 668.5,121.8 668.8,120.7 669.0,126.4 669.2,145.3 669.5,110.0 669.8,113.6 670.0,125.1 670.2,109.4 670.5,109.3 670.8,117.9 671.0,114.4 671.2,119.7 671.5,123.1 671.8,124.9 672.0,125.2 672.2,103.0 672.5,122.2 672.8,110.4 673.0,118.7 673.2,111.4 673.5,99.5 673.8,125.4 674.0,123.1 674.2,105.2 674.5,133.5 674.8,113.4 675.0,113.2 675.2,112.8 675.5,124.4 675.8,121.1 676.0,120.5 676.2,101.5 676.5,128.6 676.8,108.1 677.0,116.7 677.2,128.3 677.5,126.5 677.8,113.3 678.0,102.1 678.2,124.8 678.5,115.7 678.8,115.0 679.0,112.3 679.2,117.4 679.5,120.0 679.8,120.7 680.0,113.0 680.2,121.1 680.5,105.0 680.8,114.0 681.0,115.1 681.2,114.1 681.5,108.7 681.8,115.0 682.0,118.2 682.2,122.9 682.5,117.0 682.8,117.4 683.0,118.6 683.2,126.9 683.5,123.8 683.8,117.5 684.0,130.9 684.2,123.8 684.5,112.2 684.8,122.9 685.0,120.8" fill="none" stroke="#c8203a" stroke-width="0.8" stroke-opacity="0.85"/>
<text x="592.27" y="47" font-size="21.09" fill="#000" stroke="#000" stroke-width="0.35" textLength="76.07" lengthAdjust="spacingAndGlyphs">500 ms</text>
<polyline points="592,57.2 611.5,57.2 611.5,88.6" stroke="#000" stroke-width="2.2" fill="none"/>
<text x="616.18" y="78.5" font-size="21.31" fill="#000" stroke="#000" stroke-width="0.35" textLength="47.06" lengthAdjust="spacingAndGlyphs">5 pA</text>
<text x="1.9" y="197.5" font-size="35.7" font-weight="bold" fill="#000" stroke="#000" stroke-width="0.35" textLength="19.95" lengthAdjust="spacingAndGlyphs">c</text>
<text x="50.18" y="200.1" font-size="24.75" font-weight="bold" fill="#838383" stroke="#838383" stroke-width="0.35" textLength="97.25" lengthAdjust="spacingAndGlyphs">LED OFF</text>
<path d="M190.6,176.5 L196.97,176.5 L208.3,183.19 L208.3,196.57 L196.97,203.8 L190.6,203.8 Z" stroke="#000" stroke-width="2.6" fill="#b3b3b3" stroke-linejoin="round"/>
<line x1="196.97" y1="176.5" x2="196.97" y2="203.8" stroke="#000" stroke-width="2.6"/>
<polyline points="49.2,333.3 68.6,333.7 70.22,322.13 71.84,314.64 73.46,309.62 75.08,306.25 76.7,304 78.32,302.49 79.94,301.47 81.56,300.79 83.18,300.34 84.8,300.03 85.05,298.53 85.4,220.58 85.85,298.03 86.6,307.04 87.8,311.04 90.36,309.79 92.92,307.84 95.48,305.52 98.04,302.9 100.6,300.03 100.85,298.53 101.2,221.87 101.65,298.03 102.4,307.04 103.6,311.04 108.1,309.79 112.6,307.84 117.1,305.52 121.6,302.9 126.1,300.03 126.35,298.53 126.7,221.98 127.15,298.03 127.9,307.04 129.1,311.04 134.12,309.79 139.14,307.84 144.16,305.52 149.18,302.9 154.2,300.03 154.45,298.53 154.8,219.1 155.25,298.03 156,307.04 157.2,311.04 162.82,309.79 168.44,307.84 174.06,305.52 179.68,302.9 185.3,300.03 185.55,298.53 185.9,220.68 186.35,298.03 187.1,307.04 188.3,311.04 193.88,309.79 199.46,307.84 205.04,305.52 210.62,302.9 216.2,300.03 216.45,298.53 216.8,221.31 217.25,298.03 218,307.04 219.2,311.04 224.86,309.79 230.52,307.84 236.18,305.52 241.84,302.9 247.5,300.03 247.75,298.53 248.1,221.62 248.55,298.03 249.3,307.04 250.5,311.04 256.42,309.79 262.34,307.84 268.26,305.52 274.18,302.9 280.1,300.03 280.35,298.53 280.7,221.32 281.15,298.03 281.9,307.04 283.1,311.04 286.5,309.8 290.2,310.2 292.5,314 295.5,322 298.5,328 302,331.3 306,332.7 310.1,333.2" stroke="#e4e4e4" stroke-width="2.4" fill="none" stroke-linejoin="round"/>
<polyline points="49.2,333.3 68.6,333.7 70.24,322.27 71.88,314.88 73.52,309.92 75.16,306.6 76.8,304.37 78.44,302.88 80.08,301.88 81.72,301.21 83.36,300.76 85,300.46 85.25,298.96 85.6,220.09 86.05,298.46 86.8,306.54 88,310.54 90.48,309.39 92.96,307.61 95.44,305.48 97.92,303.08 100.4,300.46 100.65,298.96 101,219.84 101.45,298.46 102.2,306.54 103.4,310.54 107.72,309.39 112.04,307.61 116.36,305.48 120.68,303.08 125,300.46 125.25,298.96 125.6,221.39 126.05,298.46 126.8,306.54 128,310.54 133.5,309.39 139,307.61 144.5,305.48 150,303.08 155.5,300.46 155.75,298.96 156.1,221.62 156.55,298.46 157.3,306.54 158.5,310.54 163.68,309.39 168.86,307.61 174.04,305.48 179.22,303.08 184.4,300.46 184.65,298.96 185,221.82 185.45,298.46 186.2,306.54 187.4,310.54 191.96,309.39 196.52,307.61 201.08,305.48 205.64,303.08 210.2,300.46 210.45,298.96 210.8,221.04 211.25,298.46 212,306.54 213.2,310.54 218.92,309.39 224.64,307.61 230.36,305.48 236.08,303.08 241.8,300.46 242.05,298.96 242.4,219.91 242.85,298.46 243.6,306.54 244.8,310.54 250.32,309.39 255.84,307.61 261.36,305.48 266.88,303.08 272.4,300.46 272.65,298.96 273,221.29 273.45,298.46 274.2,306.54 275.4,310.54 286.5,309.8 290.2,310.2 292.5,314 295.5,322 298.5,328 302,331.3 306,332.7 310.1,333.2" stroke="#e4e4e4" stroke-width="2.4" fill="none" stroke-linejoin="round"/>
<polyline points="49.2,333.3 68.6,333.7 70.24,321.92 71.88,314.3 73.52,309.19 75.16,305.76 76.8,303.46 78.44,301.92 80.08,300.89 81.72,300.2 83.36,299.74 85,299.43 85.25,297.93 85.6,220.91 86.05,297.43 86.8,305.97 88,309.97 90.52,308.77 93.04,306.91 95.56,304.68 98.08,302.17 100.6,299.43 100.85,297.93 101.2,220.05 101.65,297.43 102.4,305.97 103.6,309.97 107.82,308.77 112.04,306.91 116.26,304.68 120.48,302.17 124.7,299.43 124.95,297.93 125.3,220.65 125.75,297.43 126.5,305.97 127.7,309.97 132.68,308.77 137.66,306.91 142.64,304.68 147.62,302.17 152.6,299.43 152.85,297.93 153.2,220.22 153.65,297.43 154.4,305.97 155.6,309.97 159.94,308.77 164.28,306.91 168.62,304.68 172.96,302.17 177.3,299.43 177.55,297.93 177.9,219.18 178.35,297.43 179.1,305.97 180.3,309.97 186.5,308.77 192.7,306.91 198.9,304.68 205.1,302.17 211.3,299.43 211.55,297.93 211.9,220.01 212.35,297.43 213.1,305.97 214.3,309.97 220.54,308.77 226.78,306.91 233.02,304.68 239.26,302.17 245.5,299.43 245.75,297.93 246.1,219.97 246.55,297.43 247.3,305.97 248.5,309.97 254.5,308.77 260.5,306.91 266.5,304.68 272.5,302.17 278.5,299.43 278.75,297.93 279.1,221.97 279.55,297.43 280.3,305.97 281.5,309.97 286.5,309.8 290.2,310.2 292.5,314 295.5,322 298.5,328 302,331.3 306,332.7 310.1,333.2" stroke="#e4e4e4" stroke-width="2.4" fill="none" stroke-linejoin="round"/>
<polyline points="49.2,333.3 68.6,333.7 70.19,322.04 71.78,314.49 73.37,309.44 74.96,306.04 76.55,303.77 78.14,302.25 79.73,301.23 81.32,300.54 82.91,300.08 84.5,299.77 84.75,298.27 85.1,219.73 85.55,297.77 86.3,305.71 87.5,309.71 90.02,308.58 92.54,306.83 95.06,304.72 97.58,302.36 100.1,299.77 100.35,298.27 100.7,219.7 101.15,297.77 101.9,305.71 103.1,309.71 107.32,308.58 111.54,306.83 115.76,304.72 119.98,302.36 124.2,299.77 124.45,298.27 124.8,220.05 125.25,297.77 126,305.71 127.2,309.71 131.74,308.58 136.28,306.83 140.82,304.72 145.36,302.36 149.9,299.77 150.15,298.27 150.5,219.41 150.95,297.77 151.7,305.71 152.9,309.71 158.22,308.58 163.54,306.83 168.86,304.72 174.18,302.36 179.5,299.77 179.75,298.27 180.1,219.02 180.55,297.77 181.3,305.71 182.5,309.71 188.36,308.58 194.22,306.83 200.08,304.72 205.94,302.36 211.8,299.77 212.05,298.27 212.4,221.61 212.85,297.77 213.6,305.71 214.8,309.71 221.02,308.58 227.24,306.83 233.46,304.72 239.68,302.36 245.9,299.77 246.15,298.27 246.5,220.36 246.95,297.77 247.7,305.71 248.9,309.71 254.24,308.58 259.58,306.83 264.92,304.72 270.26,302.36 275.6,299.77 275.85,298.27 276.2,220.34 276.65,297.77 277.4,305.71 278.6,309.71 286.5,309.8 290.2,310.2 292.5,314 295.5,322 298.5,328 302,331.3 306,332.7 310.1,333.2" stroke="#e4e4e4" stroke-width="2.4" fill="none" stroke-linejoin="round"/>
<polyline points="49.2,333.3 68.6,333.7 70.27,322.51 71.94,315.29 73.61,310.44 75.28,307.19 76.95,305.01 78.62,303.55 80.29,302.58 81.96,301.92 83.63,301.48 85.3,301.18 85.55,299.68 85.9,219.51 86.35,299.18 87.1,306.83 88.3,310.83 90.82,309.73 93.34,308.03 95.86,305.99 98.38,303.69 100.9,301.18 101.15,299.68 101.5,219.2 101.95,299.18 102.7,306.83 103.9,310.83 107.9,309.73 111.9,308.03 115.9,305.99 119.9,303.69 123.9,301.18 124.15,299.68 124.5,219.9 124.95,299.18 125.7,306.83 126.9,310.83 132.04,309.73 137.18,308.03 142.32,305.99 147.46,303.69 152.6,301.18 152.85,299.68 153.2,219.93 153.65,299.18 154.4,306.83 155.6,310.83 160.8,309.73 166,308.03 171.2,305.99 176.4,303.69 181.6,301.18 181.85,299.68 182.2,221.18 182.65,299.18 183.4,306.83 184.6,310.83 189.94,309.73 195.28,308.03 200.62,305.99 205.96,303.69 211.3,301.18 211.55,299.68 211.9,220.65 212.35,299.18 213.1,306.83 214.3,310.83 219.64,309.73 224.98,308.03 230.32,305.99 235.66,303.69 241,301.18 241.25,299.68 241.6,221.81 242.05,299.18 242.8,306.83 244,310.83 249.84,309.73 255.68,308.03 261.52,305.99 267.36,303.69 273.2,301.18 273.45,299.68 273.8,220.02 274.25,299.18 275,306.83 276.2,310.83 286.5,309.8 290.2,310.2 292.5,314 295.5,322 298.5,328 302,331.3 306,332.7 310.1,333.2" stroke="#e4e4e4" stroke-width="2.4" fill="none" stroke-linejoin="round"/>
<polyline points="49.2,333.3 68.6,333.7 70.18,321.37 71.76,313.37 73.34,308.01 74.92,304.42 76.5,302.01 78.08,300.39 79.66,299.31 81.24,298.58 82.82,298.1 84.4,297.77 84.65,296.27 85,219.24 85.45,295.77 86.2,306.44 87.4,310.44 89.78,309 92.16,306.76 94.54,304.08 96.92,301.07 99.3,297.77 99.55,296.27 99.9,219.54 100.35,295.77 101.1,306.44 102.3,310.44 106.3,309 110.3,306.76 114.3,304.08 118.3,301.07 122.3,297.77 122.55,296.27 122.9,220.74 123.35,295.77 124.1,306.44 125.3,310.44 129.66,309 134.02,306.76 138.38,304.08 142.74,301.07 147.1,297.77 147.35,296.27 147.7,221.96 148.15,295.77 148.9,306.44 150.1,310.44 155.76,309 161.42,306.76 167.08,304.08 172.74,301.07 178.4,297.77 178.65,296.27 179,220.07 179.45,295.77 180.2,306.44 181.4,310.44 187,309 192.6,306.76 198.2,304.08 203.8,301.07 209.4,297.77 209.65,296.27 210,221.32 210.45,295.77 211.2,306.44 212.4,310.44 217.96,309 223.52,306.76 229.08,304.08 234.64,301.07 240.2,297.77 240.45,296.27 240.8,220.28 241.25,295.77 242,306.44 243.2,310.44 249.2,309 255.2,306.76 261.2,304.08 267.2,301.07 273.2,297.77 273.45,296.27 273.8,221.6 274.25,295.77 275,306.44 276.2,310.44 286.5,309.8 290.2,310.2 292.5,314 295.5,322 298.5,328 302,331.3 306,332.7 310.1,333.2" stroke="#e4e4e4" stroke-width="2.4" fill="none" stroke-linejoin="round"/>
<polyline points="49.2,333.3 68.6,333.7 70.22,321.81 71.84,314.11 73.46,308.95 75.08,305.49 76.7,303.18 78.32,301.62 79.94,300.58 81.56,299.88 83.18,299.41 84.8,299.1 85.05,297.6 85.4,221.7 85.85,297.1 86.6,305.3 87.8,309.3 90,308.14 92.2,306.34 94.4,304.18 96.6,301.75 98.8,299.1 99.05,297.6 99.4,219.83 99.85,297.1 100.6,305.3 101.8,309.3 105.96,308.14 110.12,306.34 114.28,304.18 118.44,301.75 122.6,299.1 122.85,297.6 123.2,219.77 123.65,297.1 124.4,305.3 125.6,309.3 130.94,308.14 136.28,306.34 141.62,304.18 146.96,301.75 152.3,299.1 152.55,297.6 152.9,219.07 153.35,297.1 154.1,305.3 155.3,309.3 161.2,308.14 167.1,306.34 173,304.18 178.9,301.75 184.8,299.1 185.05,297.6 185.4,219.49 185.85,297.1 186.6,305.3 187.8,309.3 192.92,308.14 198.04,306.34 203.16,304.18 208.28,301.75 213.4,299.1 213.65,297.6 214,219.8 214.45,297.1 215.2,305.3 216.4,309.3 221.98,308.14 227.56,306.34 233.14,304.18 238.72,301.75 244.3,299.1 244.55,297.6 244.9,221.11 245.35,297.1 246.1,305.3 247.3,309.3 253.44,308.14 259.58,306.34 265.72,304.18 271.86,301.75 278,299.1 278.25,297.6 278.6,219.65 279.05,297.1 279.8,305.3 281,309.3 286.5,309.8 290.2,310.2 292.5,314 295.5,322 298.5,328 302,331.3 306,332.7 310.1,333.2" stroke="#e4e4e4" stroke-width="2.4" fill="none" stroke-linejoin="round"/>
<polyline points="49.2,333.3 68.6,333.7 70.18,322.36 71.76,315.03 73.34,310.12 74.92,306.83 76.5,304.62 78.08,303.14 79.66,302.15 81.24,301.48 82.82,301.04 84.4,300.74 84.65,299.24 85,220.81 85.45,298.74 86.2,308 87.4,312 89.94,310.72 92.48,308.73 95.02,306.35 97.56,303.67 100.1,300.74 100.35,299.24 100.7,221.59 101.15,298.74 101.9,308 103.1,312 107.42,310.72 111.74,308.73 116.06,306.35 120.38,303.67 124.7,300.74 124.95,299.24 125.3,220.94 125.75,298.74 126.5,308 127.7,312 132.68,310.72 137.66,308.73 142.64,306.35 147.62,303.67 152.6,300.74 152.85,299.24 153.2,219.59 153.65,298.74 154.4,308 155.6,312 161.36,310.72 167.12,308.73 172.88,306.35 178.64,303.67 184.4,300.74 184.65,299.24 185,221.2 185.45,298.74 186.2,308 187.4,312 192.92,310.72 198.44,308.73 203.96,306.35 209.48,303.67 215,300.74 215.25,299.24 215.6,221.89 216.05,298.74 216.8,308 218,312 223.64,310.72 229.28,308.73 234.92,306.35 240.56,303.67 246.2,300.74 246.45,299.24 246.8,220.8 247.25,298.74 248,308 249.2,312 254.96,310.72 260.72,308.73 266.48,306.35 272.24,303.67 278,300.74 278.25,299.24 278.6,219.24 279.05,298.74 279.8,308 281,312 286.5,309.8 290.2,310.2 292.5,314 295.5,322 298.5,328 302,331.3 306,332.7 310.1,333.2" stroke="#e4e4e4" stroke-width="2.4" fill="none" stroke-linejoin="round"/>
<polyline points="49.2,333.3 68.6,333.3" stroke="#e1e1e1" stroke-width="4" fill="none"/>
<polyline points="49.2,333.3 68.6,333.7 70.29,321.61 71.98,313.78 73.67,308.53 75.36,305.01 77.05,302.65 78.74,301.07 80.43,300.01 82.12,299.3 83.81,298.82 85.5,298.5 85.75,297 86.1,216.2 86.55,296.5 87.3,307.8 88.5,311.8 90.74,310.32 92.98,308.03 95.22,305.28 97.46,302.18 99.7,298.8 99.95,297.3 100.3,217.3 100.75,296.8 101.5,307.8 102.7,311.8 107.12,310.32 111.54,308.03 115.96,305.28 120.38,302.18 124.8,298.8 125.05,297.3 125.4,218 125.85,296.8 126.6,307.8 127.8,311.8 133.22,310.32 138.64,308.03 144.06,305.28 149.48,302.18 154.9,298.8 155.15,297.3 155.5,219.5 155.95,296.8 156.7,307.8 157.9,311.8 163.92,310.32 169.94,308.03 175.96,305.28 181.98,302.18 188,298.8 188.25,297.3 188.6,218.6 189.05,296.8 189.8,307.8 191,311.8 196.4,310.32 201.8,308.03 207.2,305.28 212.6,302.18 218,298.8 218.25,297.3 218.6,219.2 219.05,296.8 219.8,307.8 221,311.8 226.66,310.32 232.32,308.03 237.98,305.28 243.64,302.18 249.3,298.8 249.55,297.3 249.9,220.3 250.35,296.8 251.1,307.8 252.3,311.8 258.58,310.32 264.86,308.03 271.14,305.28 277.42,302.18 283.7,298.8 283.95,297.3 284.3,220.8 284.75,296.8 285.5,307.8 286.7,311.8 286.5,309.8 290.2,310.2 292.5,314 295.5,322 298.5,328 302,331.3 306,332.7 310.1,333.2" stroke="#c0162d" stroke-width="2.4" fill="none" stroke-linejoin="round"/>
<polyline points="47.5,361.3 74.9,361.3 74.9,346.6 289.5,346.6 289.5,361.3 310,361.3" stroke="#000" stroke-width="2.5" fill="none" stroke-linejoin="miter"/>
<text x="92.91" y="367.8" font-size="23.31" fill="#2b2b2b" stroke="#2b2b2b" stroke-width="0.35" textLength="123.58" lengthAdjust="spacingAndGlyphs">current step</text>
<line x1="65.7" y1="380.4" x2="65.7" y2="480.8" stroke="#000" stroke-width="2.3"/>
<line x1="61.5" y1="479.7" x2="66.8" y2="479.7" stroke="#000" stroke-width="2.2"/>
<text x="45.36" y="488.8" font-size="22.2" fill="#000" stroke="#000" stroke-width="0.35" textLength="11.12" lengthAdjust="spacingAndGlyphs">0</text>
<line x1="61.5" y1="451.2" x2="66.8" y2="451.2" stroke="#000" stroke-width="2.2"/>
<text x="45.16" y="460.3" font-size="22.2" fill="#000" stroke="#000" stroke-width="0.35" textLength="11.12" lengthAdjust="spacingAndGlyphs">4</text>
<line x1="61.5" y1="422.8" x2="66.8" y2="422.8" stroke="#000" stroke-width="2.2"/>
<text x="45.45" y="431.9" font-size="22.2" fill="#000" stroke="#000" stroke-width="0.35" textLength="11.12" lengthAdjust="spacingAndGlyphs">8</text>
<line x1="61.5" y1="394.5" x2="66.8" y2="394.5" stroke="#000" stroke-width="2.2"/>
<text x="34.46" y="403.6" font-size="22.2" fill="#000" stroke="#000" stroke-width="0.35" textLength="22.25" lengthAdjust="spacingAndGlyphs">12</text>
<line x1="71.2" y1="484" x2="289.8" y2="484" stroke="#000" stroke-width="2.3"/>
<line x1="72.3" y1="482.9" x2="72.3" y2="488.2" stroke="#000" stroke-width="2.2"/>
<text x="66.44" y="505.4" font-size="21.65" fill="#000" stroke="#000" stroke-width="0.35" textLength="11.72" lengthAdjust="spacingAndGlyphs">0</text>
<line x1="115.58" y1="482.9" x2="115.58" y2="488.2" stroke="#000" stroke-width="2.2"/>
<text x="100.51" y="505.4" font-size="21.65" fill="#000" stroke="#000" stroke-width="0.35" textLength="29.31" lengthAdjust="spacingAndGlyphs">0.5</text>
<line x1="158.86" y1="482.9" x2="158.86" y2="488.2" stroke="#000" stroke-width="2.2"/>
<text x="151.81" y="505.4" font-size="21.65" fill="#000" stroke="#000" stroke-width="0.35" textLength="11.72" lengthAdjust="spacingAndGlyphs">1</text>
<line x1="202.14" y1="482.9" x2="202.14" y2="488.2" stroke="#000" stroke-width="2.2"/>
<text x="185.78" y="505.4" font-size="21.65" fill="#000" stroke="#000" stroke-width="0.35" textLength="29.31" lengthAdjust="spacingAndGlyphs">1.5</text>
<line x1="245.42" y1="482.9" x2="245.42" y2="488.2" stroke="#000" stroke-width="2.2"/>
<text x="237.76" y="505.4" font-size="21.65" fill="#000" stroke="#000" stroke-width="0.35" textLength="11.72" lengthAdjust="spacingAndGlyphs">2</text>
<line x1="288.7" y1="482.9" x2="288.7" y2="488.2" stroke="#000" stroke-width="2.2"/>
<text x="271.71" y="505.4" font-size="21.65" fill="#000" stroke="#000" stroke-width="0.35" textLength="29.31" lengthAdjust="spacingAndGlyphs">2.5</text>
<text x="120.3" y="529.6" font-size="24.2" fill="#000" stroke="#000" stroke-width="0.35" textLength="81.78" lengthAdjust="spacingAndGlyphs">Time (s)</text>
<text transform="translate(16.6,477.65) rotate(-90)" x="0" y="0" font-size="25.65" fill="#000" stroke="#000" stroke-width="0.35" textLength="70.72" lengthAdjust="spacingAndGlyphs">Sweep</text>
<path d="M84.45,392.08h1.9v4.6h-1.9zM100.25,392.08h1.9v4.6h-1.9zM125.75,392.08h1.9v4.6h-1.9zM153.85,392.08h1.9v4.6h-1.9zM184.95,392.08h1.9v4.6h-1.9zM215.85,392.08h1.9v4.6h-1.9zM247.15,392.08h1.9v4.6h-1.9zM279.75,392.08h1.9v4.6h-1.9zM84.05,399.19h1.9v4.6h-1.9zM97.35,399.19h1.9v4.6h-1.9zM119.05,399.19h1.9v4.6h-1.9zM145.15,399.19h1.9v4.6h-1.9zM175.65,399.19h1.9v4.6h-1.9zM205.65,399.19h1.9v4.6h-1.9zM234.25,399.19h1.9v4.6h-1.9zM266.85,399.19h1.9v4.6h-1.9zM84.65,406.3h1.9v4.6h-1.9zM100.05,406.3h1.9v4.6h-1.9zM124.65,406.3h1.9v4.6h-1.9zM155.15,406.3h1.9v4.6h-1.9zM184.05,406.3h1.9v4.6h-1.9zM209.85,406.3h1.9v4.6h-1.9zM241.45,406.3h1.9v4.6h-1.9zM272.05,406.3h1.9v4.6h-1.9zM84.65,413.41h1.9v4.6h-1.9zM100.25,413.41h1.9v4.6h-1.9zM124.35,413.41h1.9v4.6h-1.9zM152.25,413.41h1.9v4.6h-1.9zM176.95,413.41h1.9v4.6h-1.9zM210.95,413.41h1.9v4.6h-1.9zM245.15,413.41h1.9v4.6h-1.9zM278.15,413.41h1.9v4.6h-1.9zM84.15,420.52h1.9v4.6h-1.9zM99.75,420.52h1.9v4.6h-1.9zM123.85,420.52h1.9v4.6h-1.9zM149.55,420.52h1.9v4.6h-1.9zM179.15,420.52h1.9v4.6h-1.9zM211.45,420.52h1.9v4.6h-1.9zM245.55,420.52h1.9v4.6h-1.9zM275.25,420.52h1.9v4.6h-1.9zM84.95,427.63h1.9v4.6h-1.9zM100.55,427.63h1.9v4.6h-1.9zM123.55,427.63h1.9v4.6h-1.9zM152.25,427.63h1.9v4.6h-1.9zM181.25,427.63h1.9v4.6h-1.9zM210.95,427.63h1.9v4.6h-1.9zM240.65,427.63h1.9v4.6h-1.9zM272.85,427.63h1.9v4.6h-1.9zM84.05,434.74h1.9v4.6h-1.9zM99.45,434.74h1.9v4.6h-1.9zM120.65,434.74h1.9v4.6h-1.9zM144.75,434.74h1.9v4.6h-1.9zM177.55,434.74h1.9v4.6h-1.9zM205.35,434.74h1.9v4.6h-1.9zM237.45,434.74h1.9v4.6h-1.9zM265.55,434.74h1.9v4.6h-1.9zM84.05,441.85h1.9v4.6h-1.9zM99.25,441.85h1.9v4.6h-1.9zM123.05,441.85h1.9v4.6h-1.9zM147.65,441.85h1.9v4.6h-1.9zM178.05,441.85h1.9v4.6h-1.9zM206.65,441.85h1.9v4.6h-1.9zM238.25,441.85h1.9v4.6h-1.9zM266.35,441.85h1.9v4.6h-1.9zM84.05,448.96h1.9v4.6h-1.9zM98.95,448.96h1.9v4.6h-1.9zM121.95,448.96h1.9v4.6h-1.9zM146.75,448.96h1.9v4.6h-1.9zM178.05,448.96h1.9v4.6h-1.9zM209.05,448.96h1.9v4.6h-1.9zM239.85,448.96h1.9v4.6h-1.9zM272.85,448.96h1.9v4.6h-1.9zM84.45,456.07h1.9v4.6h-1.9zM98.45,456.07h1.9v4.6h-1.9zM122.25,456.07h1.9v4.6h-1.9zM151.95,456.07h1.9v4.6h-1.9zM184.45,456.07h1.9v4.6h-1.9zM213.05,456.07h1.9v4.6h-1.9zM243.95,456.07h1.9v4.6h-1.9zM277.65,456.07h1.9v4.6h-1.9zM84.05,463.18h1.9v4.6h-1.9zM99.75,463.18h1.9v4.6h-1.9zM124.35,463.18h1.9v4.6h-1.9zM152.25,463.18h1.9v4.6h-1.9zM184.05,463.18h1.9v4.6h-1.9zM214.65,463.18h1.9v4.6h-1.9zM245.85,463.18h1.9v4.6h-1.9zM277.65,463.18h1.9v4.6h-1.9zM83.25,470.29h1.9v4.6h-1.9zM97.65,470.29h1.9v4.6h-1.9zM125.45,470.29h1.9v4.6h-1.9zM154.35,470.29h1.9v4.6h-1.9zM186.85,470.29h1.9v4.6h-1.9zM217.45,470.29h1.9v4.6h-1.9zM247.45,470.29h1.9v4.6h-1.9zM281.65,470.29h1.9v4.6h-1.9z" fill="#a51828"/>
<text x="324.19" y="196.9" font-size="33.66" font-weight="bold" fill="#000" stroke="#000" stroke-width="0.35" textLength="20.97" lengthAdjust="spacingAndGlyphs">d</text>
<text x="390.14" y="200.1" font-size="24.75" font-weight="bold" fill="#6a9ddf" stroke="#6a9ddf" stroke-width="0.35" textLength="88.34" lengthAdjust="spacingAndGlyphs">LED ON</text>
<path d="M536.5,184.16 L601.5,175.6 L601.5,204.5 L536.5,195.49 Z" fill="url(#bm9)"/>
<line x1="536.5" y1="185.7" x2="601.5" y2="179.29" stroke="url(#br10)" stroke-width="1.3"/>
<line x1="536.5" y1="187.76" x2="601.5" y2="184.67" stroke="url(#br10)" stroke-width="1.3"/>
<line x1="536.5" y1="189.83" x2="601.5" y2="190.05" stroke="url(#br10)" stroke-width="1.3"/>
<line x1="536.5" y1="191.89" x2="601.5" y2="195.43" stroke="url(#br10)" stroke-width="1.3"/>
<line x1="536.5" y1="193.96" x2="601.5" y2="200.81" stroke="url(#br10)" stroke-width="1.3"/>
<path d="M518,176.5 L524.66,176.5 L536.5,183.16 L536.5,196.49 L524.66,203.7 L518,203.7 Z" stroke="#000" stroke-width="2.6" fill="#b3b3b3" stroke-linejoin="round"/>
<line x1="524.66" y1="176.5" x2="524.66" y2="203.7" stroke="#000" stroke-width="2.6"/>
<line x1="474.2" y1="211.1" x2="474.2" y2="482.5" stroke="#84a4d2" stroke-width="1.8" stroke-opacity="1"/>
<line x1="478.79" y1="211.1" x2="478.79" y2="482.5" stroke="#84a4d2" stroke-width="1.8" stroke-opacity="1"/>
<line x1="483.39" y1="211.1" x2="483.39" y2="482.5" stroke="#84a4d2" stroke-width="1.8" stroke-opacity="1"/>
<line x1="487.98" y1="211.1" x2="487.98" y2="482.5" stroke="#84a4d2" stroke-width="1.8" stroke-opacity="1"/>
<line x1="492.58" y1="211.1" x2="492.58" y2="482.5" stroke="#84a4d2" stroke-width="1.8" stroke-opacity="1"/>
<line x1="497.17" y1="211.1" x2="497.17" y2="482.5" stroke="#84a4d2" stroke-width="1.8" stroke-opacity="1"/>
<line x1="501.77" y1="211.1" x2="501.77" y2="482.5" stroke="#84a4d2" stroke-width="1.8" stroke-opacity="1"/>
<line x1="506.36" y1="211.1" x2="506.36" y2="482.5" stroke="#84a4d2" stroke-width="1.8" stroke-opacity="1"/>
<line x1="510.96" y1="211.1" x2="510.96" y2="482.5" stroke="#84a4d2" stroke-width="1.8" stroke-opacity="1"/>
<line x1="515.55" y1="211.1" x2="515.55" y2="482.5" stroke="#84a4d2" stroke-width="1.8" stroke-opacity="1"/>
<line x1="520.15" y1="211.1" x2="520.15" y2="482.5" stroke="#84a4d2" stroke-width="1.8" stroke-opacity="1"/>
<line x1="524.74" y1="211.1" x2="524.74" y2="482.5" stroke="#84a4d2" stroke-width="1.8" stroke-opacity="1"/>
<line x1="529.34" y1="211.1" x2="529.34" y2="482.5" stroke="#84a4d2" stroke-width="1.8" stroke-opacity="1"/>
<line x1="533.93" y1="211.1" x2="533.93" y2="482.5" stroke="#84a4d2" stroke-width="1.8" stroke-opacity="1"/>
<line x1="538.53" y1="211.1" x2="538.53" y2="482.5" stroke="#84a4d2" stroke-width="1.8" stroke-opacity="1"/>
<line x1="543.12" y1="211.1" x2="543.12" y2="482.5" stroke="#84a4d2" stroke-width="1.8" stroke-opacity="1"/>
<line x1="547.72" y1="211.1" x2="547.72" y2="482.5" stroke="#84a4d2" stroke-width="1.8" stroke-opacity="1"/>
<line x1="552.31" y1="211.1" x2="552.31" y2="482.5" stroke="#84a4d2" stroke-width="1.8" stroke-opacity="1"/>
<line x1="556.91" y1="211.1" x2="556.91" y2="482.5" stroke="#84a4d2" stroke-width="1.8" stroke-opacity="1"/>
<line x1="561.5" y1="211.1" x2="561.5" y2="482.5" stroke="#84a4d2" stroke-width="1.8" stroke-opacity="1"/>
<polyline points="377.6,333.1 404.2,333.5 405.87,322.32 407.54,315.09 409.21,310.25 410.88,307 412.55,304.83 414.22,303.37 415.89,302.39 417.56,301.74 419.23,301.3 420.9,301 421.15,299.5 421.5,220.52 421.95,299 422.7,308.56 423.9,312.56 426.42,311.24 428.94,309.2 431.46,306.76 433.98,304.01 436.5,301 436.75,299.5 437.1,219.91 437.55,299 438.3,308.56 439.5,312.56 443.58,311.24 447.66,309.2 451.74,306.76 455.82,304.01 459.9,301 460.15,299.5 460.5,220.06 460.95,299 461.7,308.56 462.9,312.56 468.38,311.24 473.86,309.2 479.34,306.76 484.82,304.01 490.3,301 490.55,299.5 490.9,221.11 491.35,299 492.1,308.56 493.3,312.56 498,312 520,309.5 552,306.7 594.2,304.3 610,304.5 626.4,306 628.5,312 631,322 633.9,330 640,334.5 647.5,335.8" stroke="#e1e1e1" stroke-width="2.6" fill="none" stroke-linejoin="round"/>
<polyline points="377.6,333.1 404.2,333.5 405.82,322.02 407.44,314.59 409.06,309.61 410.68,306.27 412.3,304.03 413.92,302.53 415.54,301.52 417.16,300.85 418.78,300.4 420.4,300.1 420.65,298.6 421,222.27 421.45,298.1 422.2,307.62 423.4,311.62 425.62,310.31 427.84,308.28 430.06,305.84 432.28,303.09 434.5,300.1 434.75,298.6 435.1,220.14 435.55,298.1 436.3,307.62 437.5,311.62 441.5,310.31 445.5,308.28 449.5,305.84 453.5,303.09 457.5,300.1 457.75,298.6 458.1,220.48 458.55,298.1 459.3,307.62 460.5,311.62 466,310.31 471.5,308.28 477,305.84 482.5,303.09 488,300.1 488.25,298.6 488.6,221.75 489.05,298.1 489.8,307.62 491,311.62 498,312 520,309.5 552,306.7 594.2,304.3 610,304.5 626.4,306 628.5,312 631,322 633.9,330 640,334.5 647.5,335.8" stroke="#e1e1e1" stroke-width="2.6" fill="none" stroke-linejoin="round"/>
<polyline points="377.6,333.1 404.2,333.5 405.76,321.21 407.32,313.23 408.88,307.89 410.44,304.31 412,301.9 413.56,300.29 415.12,299.22 416.68,298.49 418.24,298.01 419.8,297.68 420.05,296.18 420.4,221.54 420.85,295.68 421.6,308.51 422.8,312.51 425.24,310.82 427.68,308.2 430.12,305.07 432.56,301.54 435,297.68 435.25,296.18 435.6,220.51 436.05,295.68 436.8,308.51 438,312.51 442.12,310.82 446.24,308.2 450.36,305.07 454.48,301.54 458.6,297.68 458.85,296.18 459.2,219.67 459.65,295.68 460.4,308.51 461.6,312.51 467.34,310.82 473.08,308.2 478.82,305.07 484.56,301.54 490.3,297.68 490.55,296.18 490.9,220.74 491.35,295.68 492.1,308.51 493.3,312.51 498,312 520,309.5 552,306.7 594.2,304.3 610,304.5 626.4,306 628.5,312 631,322 633.9,330 640,334.5 647.5,335.8" stroke="#e1e1e1" stroke-width="2.6" fill="none" stroke-linejoin="round"/>
<polyline points="377.6,333.1 404.2,333.5 405.79,321.77 407.38,314.17 408.97,309.08 410.56,305.66 412.15,303.38 413.74,301.84 415.33,300.81 416.92,300.13 418.51,299.66 420.1,299.35 420.35,297.85 420.7,220.5 421.15,297.35 421.9,306.05 423.1,310.05 425.38,308.84 427.66,306.95 429.94,304.69 432.22,302.14 434.5,299.35 434.75,297.85 435.1,220.98 435.55,297.35 436.3,306.05 437.5,310.05 441.66,308.84 445.82,306.95 449.98,304.69 454.14,302.14 458.3,299.35 458.55,297.85 458.9,221.29 459.35,297.35 460.1,306.05 461.3,310.05 467.42,308.84 473.54,306.95 479.66,304.69 485.78,302.14 491.9,299.35 492.15,297.85 492.5,220.27 492.95,297.35 493.7,306.05 494.9,310.05 498,312 520,309.5 552,306.7 594.2,304.3 610,304.5 626.4,306 628.5,312 631,322 633.9,330 640,334.5 647.5,335.8" stroke="#e1e1e1" stroke-width="2.6" fill="none" stroke-linejoin="round"/>
<polyline points="377.6,333.1 404.2,333.5 405.6,321.97 407,314.51 408.4,309.51 409.8,306.15 411.2,303.91 412.6,302.4 414,301.39 415.4,300.71 416.8,300.26 418.2,299.96 418.45,298.46 418.8,222.28 419.25,297.96 420,308.9 421.2,312.9 423.3,311.42 425.4,309.14 427.5,306.4 429.6,303.32 431.7,299.96 431.95,298.46 432.3,221.19 432.75,297.96 433.5,308.9 434.7,312.9 438.78,311.42 442.86,309.14 446.94,306.4 451.02,303.32 455.1,299.96 455.35,298.46 455.7,222.46 456.15,297.96 456.9,308.9 458.1,312.9 463.28,311.42 468.46,309.14 473.64,306.4 478.82,303.32 484,299.96 484.25,298.46 484.6,219.67 485.05,297.96 485.8,308.9 487,312.9 498,312 520,309.5 552,306.7 594.2,304.3 610,304.5 626.4,306 628.5,312 631,322 633.9,330 640,334.5 647.5,335.8" stroke="#e1e1e1" stroke-width="2.6" fill="none" stroke-linejoin="round"/>
<polyline points="377.6,333.1 404.2,333.5 405.66,322.18 407.12,314.85 408.58,309.94 410.04,306.65 411.5,304.45 412.96,302.97 414.42,301.98 415.88,301.31 417.34,300.87 418.8,300.57 419.05,299.07 419.4,220.49 419.85,298.57 420.6,306.36 421.8,310.36 423.9,309.24 426,307.52 428.1,305.45 430.2,303.12 432.3,300.57 432.55,299.07 432.9,219.78 433.35,298.57 434.1,306.36 435.3,310.36 439.16,309.24 443.02,307.52 446.88,305.45 450.74,303.12 454.6,300.57 454.85,299.07 455.2,219.97 455.65,298.57 456.4,306.36 457.6,310.36 462.78,309.24 467.96,307.52 473.14,305.45 478.32,303.12 483.5,300.57 483.75,299.07 484.1,219.93 484.55,298.57 485.3,306.36 486.5,310.36 498,312 520,309.5 552,306.7 594.2,304.3 610,304.5 626.4,306 628.5,312 631,322 633.9,330 640,334.5 647.5,335.8" stroke="#e1e1e1" stroke-width="2.6" fill="none" stroke-linejoin="round"/>
<polyline points="377.6,333.1 404.2,333.5 405.71,321.89 407.22,314.38 408.73,309.34 410.24,305.96 411.75,303.7 413.26,302.18 414.77,301.16 416.28,300.48 417.79,300.03 419.3,299.72 419.55,298.22 419.9,221.94 420.35,297.72 421.1,308.63 422.3,312.63 424.42,311.16 426.54,308.88 428.66,306.15 430.78,303.08 432.9,299.72 433.15,298.22 433.5,220.77 433.95,297.72 434.7,308.63 435.9,312.63 439.58,311.16 443.26,308.88 446.94,306.15 450.62,303.08 454.3,299.72 454.55,298.22 454.9,221.12 455.35,297.72 456.1,308.63 457.3,312.63 462.94,311.16 468.58,308.88 474.22,306.15 479.86,303.08 485.5,299.72 485.75,298.22 486.1,221.27 486.55,297.72 487.3,308.63 488.5,312.63 498,312 520,309.5 552,306.7 594.2,304.3 610,304.5 626.4,306 628.5,312 631,322 633.9,330 640,334.5 647.5,335.8" stroke="#e1e1e1" stroke-width="2.6" fill="none" stroke-linejoin="round"/>
<polyline points="377.6,333.1 404.2,333.5 405.63,322.1 407.06,314.73 408.49,309.78 409.92,306.47 411.35,304.25 412.78,302.76 414.21,301.76 415.64,301.09 417.07,300.65 418.5,300.35 418.75,298.85 419.1,221.3 419.55,298.35 420.3,309.05 421.5,313.05 423.7,311.61 425.9,309.36 428.1,306.68 430.3,303.65 432.5,300.35 432.75,298.85 433.1,220.49 433.55,298.35 434.3,309.05 435.5,313.05 439.48,311.61 443.46,309.36 447.44,306.68 451.42,303.65 455.4,300.35 455.65,298.85 456,221.72 456.45,298.35 457.2,309.05 458.4,313.05 463.98,311.61 469.56,309.36 475.14,306.68 480.72,303.65 486.3,300.35 486.55,298.85 486.9,220.27 487.35,298.35 488.1,309.05 489.3,313.05 498,312 520,309.5 552,306.7 594.2,304.3 610,304.5 626.4,306 628.5,312 631,322 633.9,330 640,334.5 647.5,335.8" stroke="#e1e1e1" stroke-width="2.6" fill="none" stroke-linejoin="round"/>
<polyline points="377.6,333.1 404.2,333.5 405.68,321.75 407.16,314.15 408.64,309.05 410.12,305.63 411.6,303.34 413.08,301.8 414.56,300.78 416.04,300.09 417.52,299.62 419,299.31 419.25,297.81 419.6,221.83 420.05,297.31 420.8,307.11 422,311.11 424.28,309.77 426.56,307.69 428.84,305.19 431.12,302.38 433.4,299.31 433.65,297.81 434,220.43 434.45,297.31 435.2,307.11 436.4,311.11 440.46,309.77 444.52,307.69 448.58,305.19 452.64,302.38 456.7,299.31 456.95,297.81 457.3,221.82 457.75,297.31 458.5,307.11 459.7,311.11 465.2,309.77 470.7,307.69 476.2,305.19 481.7,302.38 487.2,299.31 487.45,297.81 487.8,222.43 488.25,297.31 489,307.11 490.2,311.11 498,312 520,309.5 552,306.7 594.2,304.3 610,304.5 626.4,306 628.5,312 631,322 633.9,330 640,334.5 647.5,335.8" stroke="#e1e1e1" stroke-width="2.6" fill="none" stroke-linejoin="round"/>
<polyline points="377.6,333.1 404.2,333.5 405.6,321.78 407,314.2 408.4,309.11 409.8,305.7 411.2,303.42 412.6,301.89 414,300.86 415.4,300.17 416.8,299.71 418.2,299.4 418.45,297.9 418.8,221.07 419.25,297.4 420,308.62 421.2,312.62 423.06,311.12 424.92,308.78 426.78,305.99 428.64,302.84 430.5,299.4 430.75,297.9 431.1,222.32 431.55,297.4 432.3,308.62 433.5,312.62 437.82,311.12 442.14,308.78 446.46,305.99 450.78,302.84 455.1,299.4 455.35,297.9 455.7,219.9 456.15,297.4 456.9,308.62 458.1,312.62 463.02,311.12 467.94,308.78 472.86,305.99 477.78,302.84 482.7,299.4 482.95,297.9 483.3,219.53 483.75,297.4 484.5,308.62 485.7,312.62 498,312 520,309.5 552,306.7 594.2,304.3 610,304.5 626.4,306 628.5,312 631,322 633.9,330 640,334.5 647.5,335.8" stroke="#e1e1e1" stroke-width="2.6" fill="none" stroke-linejoin="round"/>
<polyline points="497,313 503,312 510,311.4 520,310.3 535,309.1 552,307.7 570,306.4 594.2,305.4 605,305 618,305.8 626.4,306.8 628.3,311.8 630.5,320.8 633.5,329.3 637,333.8 642,335.8 647.5,336.6" stroke="#e1e1e1" stroke-width="6" fill="none" stroke-linejoin="round"/>
<polyline points="377,333.6 404.2,333.6" stroke="#e1e1e1" stroke-width="5" fill="none"/>
<polyline points="377.6,333.1 404.2,333.5 405.71,322.49 407.22,315.37 408.73,310.61 410.24,307.41 411.75,305.27 413.26,303.83 414.77,302.87 416.28,302.22 417.79,301.79 419.3,301.5 419.55,300 419.9,215.4 420.35,299.5 421.1,308.8 422.3,312.8 424.74,311.17 427.18,308.65 429.62,305.62 432.06,302.22 434.5,298.5 434.75,297 435.1,216.8 435.55,296.5 436.3,308.8 437.5,312.8 441.8,311.17 446.1,308.65 450.4,305.62 454.7,302.22 459,298.5 459.25,297 459.6,218 460.05,296.5 460.8,308.8 462,312.8 467.96,311.17 473.92,308.65 479.88,305.62 485.84,302.22 491.8,298.5 492.05,297 492.4,219.2 492.85,296.5 493.6,308.8 494.8,312.8 497,312.2 503,311.2 510,310.6 520,309.5 535,308.3 552,306.9 570,305.6 594.2,304.6 605,304.2 618,305 626.4,306 628.3,311 630.5,320 633.5,328.5 637,333 642,335 647.5,335.8" stroke="#c0162d" stroke-width="2.4" fill="none" stroke-linejoin="round"/>
<polyline points="381.4,361.3 410.8,361.3 410.8,346.1 626.2,346.1 626.2,361.3 646.8,361.3" stroke="#000" stroke-width="2.5" fill="none" stroke-linejoin="miter"/>
<text x="508.98" y="251.6" font-size="21.65" fill="#000" stroke="#000" stroke-width="0.35" textLength="75.25" lengthAdjust="spacingAndGlyphs">500 ms</text>
<polyline points="506.5,260.2 551.5,260.2 551.5,268.2" stroke="#000" stroke-width="2.2" fill="none"/>
<text x="555.07" y="272.6" font-size="23.31" fill="#000" stroke="#000" stroke-width="0.35" textLength="61.72" lengthAdjust="spacingAndGlyphs">10 mV</text>
<line x1="402.2" y1="381" x2="402.2" y2="481" stroke="#000" stroke-width="2.3"/>
<line x1="398" y1="479.9" x2="403.3" y2="479.9" stroke="#000" stroke-width="2.2"/>
<text x="382.76" y="489" font-size="22.2" fill="#000" stroke="#000" stroke-width="0.35" textLength="11.12" lengthAdjust="spacingAndGlyphs">0</text>
<line x1="398" y1="450.9" x2="403.3" y2="450.9" stroke="#000" stroke-width="2.2"/>
<text x="382.56" y="460" font-size="22.2" fill="#000" stroke="#000" stroke-width="0.35" textLength="11.12" lengthAdjust="spacingAndGlyphs">4</text>
<line x1="398" y1="423.3" x2="403.3" y2="423.3" stroke="#000" stroke-width="2.2"/>
<text x="382.85" y="432.4" font-size="22.2" fill="#000" stroke="#000" stroke-width="0.35" textLength="11.12" lengthAdjust="spacingAndGlyphs">8</text>
<line x1="398" y1="394.6" x2="403.3" y2="394.6" stroke="#000" stroke-width="2.2"/>
<text x="371.86" y="403.7" font-size="22.2" fill="#000" stroke="#000" stroke-width="0.35" textLength="22.25" lengthAdjust="spacingAndGlyphs">12</text>
<line x1="409.2" y1="483.6" x2="627.5" y2="483.6" stroke="#000" stroke-width="2.3"/>
<line x1="410.3" y1="482.5" x2="410.3" y2="487.8" stroke="#000" stroke-width="2.2"/>
<text x="404.44" y="505.4" font-size="21.65" fill="#000" stroke="#000" stroke-width="0.35" textLength="11.72" lengthAdjust="spacingAndGlyphs">0</text>
<line x1="453.52" y1="482.5" x2="453.52" y2="487.8" stroke="#000" stroke-width="2.2"/>
<text x="438.45" y="505.4" font-size="21.65" fill="#000" stroke="#000" stroke-width="0.35" textLength="29.31" lengthAdjust="spacingAndGlyphs">0.5</text>
<line x1="496.74" y1="482.5" x2="496.74" y2="487.8" stroke="#000" stroke-width="2.2"/>
<text x="489.69" y="505.4" font-size="21.65" fill="#000" stroke="#000" stroke-width="0.35" textLength="11.72" lengthAdjust="spacingAndGlyphs">1</text>
<line x1="539.96" y1="482.5" x2="539.96" y2="487.8" stroke="#000" stroke-width="2.2"/>
<text x="523.6" y="505.4" font-size="21.65" fill="#000" stroke="#000" stroke-width="0.35" textLength="29.31" lengthAdjust="spacingAndGlyphs">1.5</text>
<line x1="583.18" y1="482.5" x2="583.18" y2="487.8" stroke="#000" stroke-width="2.2"/>
<text x="575.52" y="505.4" font-size="21.65" fill="#000" stroke="#000" stroke-width="0.35" textLength="11.72" lengthAdjust="spacingAndGlyphs">2</text>
<line x1="626.4" y1="482.5" x2="626.4" y2="487.8" stroke="#000" stroke-width="2.2"/>
<text x="609.41" y="505.4" font-size="21.65" fill="#000" stroke="#000" stroke-width="0.35" textLength="29.31" lengthAdjust="spacingAndGlyphs">2.5</text>
<text x="456.81" y="529.6" font-size="24.2" fill="#000" stroke="#000" stroke-width="0.35" textLength="80.56" lengthAdjust="spacingAndGlyphs">Time (s)</text>
<text transform="translate(354,477.76) rotate(-90)" x="0" y="0" font-size="25.65" fill="#000" stroke="#000" stroke-width="0.35" textLength="71.13" lengthAdjust="spacingAndGlyphs">Sweep</text>
<path d="M420.55,392.34h1.9v4.6h-1.9zM436.15,392.34h1.9v4.6h-1.9zM459.55,392.34h1.9v4.6h-1.9zM489.95,392.34h1.9v4.6h-1.9zM420.05,399.47h1.9v4.6h-1.9zM434.15,399.47h1.9v4.6h-1.9zM457.15,399.47h1.9v4.6h-1.9zM487.65,399.47h1.9v4.6h-1.9zM419.45,406.6h1.9v4.6h-1.9zM434.65,406.6h1.9v4.6h-1.9zM458.25,406.6h1.9v4.6h-1.9zM489.95,406.6h1.9v4.6h-1.9zM419.75,413.73h1.9v4.6h-1.9zM434.15,413.73h1.9v4.6h-1.9zM457.95,413.73h1.9v4.6h-1.9zM491.55,413.73h1.9v4.6h-1.9zM417.85,420.86h1.9v4.6h-1.9zM431.35,420.86h1.9v4.6h-1.9zM454.75,420.86h1.9v4.6h-1.9zM483.65,420.86h1.9v4.6h-1.9zM418.45,427.99h1.9v4.6h-1.9zM431.95,427.99h1.9v4.6h-1.9zM454.25,427.99h1.9v4.6h-1.9zM483.15,427.99h1.9v4.6h-1.9zM418.95,435.12h1.9v4.6h-1.9zM432.55,435.12h1.9v4.6h-1.9zM453.95,435.12h1.9v4.6h-1.9zM485.15,435.12h1.9v4.6h-1.9zM419.45,442.25h1.9v4.6h-1.9zM435.05,442.25h1.9v4.6h-1.9zM459.85,442.25h1.9v4.6h-1.9zM492.35,442.25h1.9v4.6h-1.9zM418.15,449.38h1.9v4.6h-1.9zM432.15,449.38h1.9v4.6h-1.9zM455.05,449.38h1.9v4.6h-1.9zM485.95,449.38h1.9v4.6h-1.9zM418.65,456.51h1.9v4.6h-1.9zM433.05,456.51h1.9v4.6h-1.9zM456.35,456.51h1.9v4.6h-1.9zM486.85,456.51h1.9v4.6h-1.9zM417.85,463.64h1.9v4.6h-1.9zM430.15,463.64h1.9v4.6h-1.9zM454.75,463.64h1.9v4.6h-1.9zM482.35,463.64h1.9v4.6h-1.9zM422.45,470.77h1.9v4.6h-1.9zM442.25,470.77h1.9v4.6h-1.9zM475.95,470.77h1.9v4.6h-1.9z" fill="#a51828"/>
<text x="2.06" y="564.7" font-size="35.7" font-weight="bold" fill="#000" stroke="#000" stroke-width="0.35" textLength="19.12" lengthAdjust="spacingAndGlyphs">e</text>
<text x="50.18" y="566.9" font-size="24.75" font-weight="bold" fill="#838383" stroke="#838383" stroke-width="0.35" textLength="97.46" lengthAdjust="spacingAndGlyphs">LED OFF</text>
<text x="43.55" y="595.1" font-size="24.75" font-weight="bold" fill="#4a4a4a" stroke="#4a4a4a" stroke-width="0.35" textLength="149.59" lengthAdjust="spacingAndGlyphs">+WAY100-635</text>
<path d="M190.2,543 L196.93,543 L208.9,549.79 L208.9,563.36 L196.93,570.7 L190.2,570.7 Z" stroke="#000" stroke-width="2.6" fill="#b3b3b3" stroke-linejoin="round"/>
<line x1="196.93" y1="543" x2="196.93" y2="570.7" stroke="#000" stroke-width="2.6"/>
<polyline points="47.2,724.2 70.7,724.6 71.95,713.8 73.2,706.82 74.45,702.15 75.7,699.01 76.95,696.91 78.2,695.51 79.45,694.56 80.7,693.93 81.95,693.51 83.2,693.22 83.45,691.72 83.8,609.82 84.25,691.22 85,697.23 86.2,701.23 87.7,700.32 89.2,698.9 90.7,697.21 92.2,695.3 93.7,693.22 93.95,691.72 94.3,608.59 94.75,691.22 95.5,697.23 96.7,701.23 99.24,700.32 101.78,698.9 104.32,697.21 106.86,695.3 109.4,693.22 109.65,691.72 110,610.47 110.45,691.22 111.2,697.23 112.4,701.23 116.42,700.32 120.44,698.9 124.46,697.21 128.48,695.3 132.5,693.22 132.75,691.72 133.1,608.18 133.55,691.22 134.3,697.23 135.5,701.23 139.08,700.32 142.66,698.9 146.24,697.21 149.82,695.3 153.4,693.22 153.65,691.72 154,609.77 154.45,691.22 155.2,697.23 156.4,701.23 160.54,700.32 164.68,698.9 168.82,697.21 172.96,695.3 177.1,693.22 177.35,691.72 177.7,607.77 178.15,691.22 178.9,697.23 180.1,701.23 184.14,700.32 188.18,698.9 192.22,697.21 196.26,695.3 200.3,693.22 200.55,691.72 200.9,607.58 201.35,691.22 202.1,697.23 203.3,701.23 207.06,700.32 210.82,698.9 214.58,697.21 218.34,695.3 222.1,693.22 222.35,691.72 222.7,607.9 223.15,691.22 223.9,697.23 225.1,701.23 229.32,700.32 233.54,698.9 237.76,697.21 241.98,695.3 246.2,693.22 246.45,691.72 246.8,607.68 247.25,691.22 248,697.23 249.2,701.23 253.16,700.32 257.12,698.9 261.08,697.21 265.04,695.3 269,693.22 269.25,691.72 269.6,609.01 270.05,691.22 270.8,697.23 272,701.23 288,702 290.4,702.6 292.5,707 295,714 299.2,721.5 304,724.8 311.2,726.6" stroke="#e1e1e1" stroke-width="2.7" fill="none" stroke-linejoin="round"/>
<polyline points="47.2,724.2 70.7,724.6 71.95,714.37 73.2,707.78 74.45,703.36 75.7,700.4 76.95,698.42 78.2,697.09 79.45,696.2 80.7,695.6 81.95,695.2 83.2,694.93 83.45,693.43 83.8,610.32 84.25,692.93 85,698.5 86.2,702.5 87.64,701.63 89.08,700.3 90.52,698.7 91.96,696.9 93.4,694.93 93.65,693.43 94,608.6 94.45,692.93 95.2,698.5 96.4,702.5 99.22,701.63 102.04,700.3 104.86,698.7 107.68,696.9 110.5,694.93 110.75,693.43 111.1,607.95 111.55,692.93 112.3,698.5 113.5,702.5 117.24,701.63 120.98,700.3 124.72,698.7 128.46,696.9 132.2,694.93 132.45,693.43 132.8,608.03 133.25,692.93 134,698.5 135.2,702.5 139.2,701.63 143.2,700.3 147.2,698.7 151.2,696.9 155.2,694.93 155.45,693.43 155.8,609.71 156.25,692.93 157,698.5 158.2,702.5 161.9,701.63 165.6,700.3 169.3,698.7 173,696.9 176.7,694.93 176.95,693.43 177.3,610.26 177.75,692.93 178.5,698.5 179.7,702.5 183.96,701.63 188.22,700.3 192.48,698.7 196.74,696.9 201,694.93 201.25,693.43 201.6,607.99 202.05,692.93 202.8,698.5 204,702.5 207.96,701.63 211.92,700.3 215.88,698.7 219.84,696.9 223.8,694.93 224.05,693.43 224.4,607.59 224.85,692.93 225.6,698.5 226.8,702.5 230.86,701.63 234.92,700.3 238.98,698.7 243.04,696.9 247.1,694.93 247.35,693.43 247.7,609.83 248.15,692.93 248.9,698.5 250.1,702.5 254.48,701.63 258.86,700.3 263.24,698.7 267.62,696.9 272,694.93 272.25,693.43 272.6,608.23 273.05,692.93 273.8,698.5 275,702.5 288,702 290.4,702.6 292.5,707 295,714 299.2,721.5 304,724.8 311.2,726.6" stroke="#e1e1e1" stroke-width="2.7" fill="none" stroke-linejoin="round"/>
<polyline points="47.2,724.2 70.7,724.6 71.95,713.59 73.2,706.48 74.45,701.71 75.7,698.52 76.95,696.37 78.2,694.94 79.45,693.97 80.7,693.33 81.95,692.9 83.2,692.61 83.45,691.11 83.8,609.41 84.25,690.61 85,699.96 86.2,703.96 87.54,702.66 88.88,700.66 90.22,698.26 91.56,695.56 92.9,692.61 93.15,691.11 93.5,608.53 93.95,690.61 94.7,699.96 95.9,703.96 98.6,702.66 101.3,700.66 104,698.26 106.7,695.56 109.4,692.61 109.65,691.11 110,609.9 110.45,690.61 111.2,699.96 112.4,703.96 116.04,702.66 119.68,700.66 123.32,698.26 126.96,695.56 130.6,692.61 130.85,691.11 131.2,608.88 131.65,690.61 132.4,699.96 133.6,703.96 137.66,702.66 141.72,700.66 145.78,698.26 149.84,695.56 153.9,692.61 154.15,691.11 154.5,608.47 154.95,690.61 155.7,699.96 156.9,703.96 161.2,702.66 165.5,700.66 169.8,698.26 174.1,695.56 178.4,692.61 178.65,691.11 179,610.21 179.45,690.61 180.2,699.96 181.4,703.96 185.18,702.66 188.96,700.66 192.74,698.26 196.52,695.56 200.3,692.61 200.55,691.11 200.9,607.82 201.35,690.61 202.1,699.96 203.3,703.96 207.5,702.66 211.7,700.66 215.9,698.26 220.1,695.56 224.3,692.61 224.55,691.11 224.9,609.7 225.35,690.61 226.1,699.96 227.3,703.96 231.26,702.66 235.22,700.66 239.18,698.26 243.14,695.56 247.1,692.61 247.35,691.11 247.7,607.7 248.15,690.61 248.9,699.96 250.1,703.96 253.7,702.66 257.3,700.66 260.9,698.26 264.5,695.56 268.1,692.61 268.35,691.11 268.7,609.44 269.15,690.61 269.9,699.96 271.1,703.96 288,702 290.4,702.6 292.5,707 295,714 299.2,721.5 304,724.8 311.2,726.6" stroke="#e1e1e1" stroke-width="2.7" fill="none" stroke-linejoin="round"/>
<polyline points="47.2,724.2 70.7,724.6 72.07,713.36 73.44,706.1 74.81,701.23 76.18,697.96 77.55,695.77 78.92,694.31 80.29,693.32 81.66,692.66 83.03,692.22 84.4,691.93 84.65,690.43 85,607.68 85.45,689.93 86.2,697.31 87.4,701.31 88.82,700.24 90.24,698.59 91.66,696.6 93.08,694.37 94.5,691.93 94.75,690.43 95.1,609.19 95.55,689.93 96.3,697.31 97.5,701.31 100.42,700.24 103.34,698.59 106.26,696.6 109.18,694.37 112.1,691.93 112.35,690.43 112.7,608.73 113.15,689.93 113.9,697.31 115.1,701.31 118.9,700.24 122.7,698.59 126.5,696.6 130.3,694.37 134.1,691.93 134.35,690.43 134.7,610.26 135.15,689.93 135.9,697.31 137.1,701.31 141.32,700.24 145.54,698.59 149.76,696.6 153.98,694.37 158.2,691.93 158.45,690.43 158.8,610.33 159.25,689.93 160,697.31 161.2,701.31 165.42,700.24 169.64,698.59 173.86,696.6 178.08,694.37 182.3,691.93 182.55,690.43 182.9,609.38 183.35,689.93 184.1,697.31 185.3,701.31 189.26,700.24 193.22,698.59 197.18,696.6 201.14,694.37 205.1,691.93 205.35,690.43 205.7,608.17 206.15,689.93 206.9,697.31 208.1,701.31 211.94,700.24 215.78,698.59 219.62,696.6 223.46,694.37 227.3,691.93 227.55,690.43 227.9,608.26 228.35,689.93 229.1,697.31 230.3,701.31 234.46,700.24 238.62,698.59 242.78,696.6 246.94,694.37 251.1,691.93 251.35,690.43 251.7,608.29 252.15,689.93 252.9,697.31 254.1,701.31 258.48,700.24 262.86,698.59 267.24,696.6 271.62,694.37 276,691.93 276.25,690.43 276.6,608.8 277.05,689.93 277.8,697.31 279,701.31 288,702 290.4,702.6 292.5,707 295,714 299.2,721.5 304,724.8 311.2,726.6" stroke="#e1e1e1" stroke-width="2.7" fill="none" stroke-linejoin="round"/>
<polyline points="47.2,724.2 70.7,724.6 71.95,714.06 73.2,707.26 74.45,702.71 75.7,699.65 76.95,697.61 78.2,696.23 79.45,695.31 80.7,694.7 81.95,694.28 83.2,694.01 83.45,692.51 83.8,609.78 84.25,692.01 85,699.79 86.2,703.79 87.64,702.68 89.08,700.95 90.52,698.88 91.96,696.55 93.4,694.01 93.65,692.51 94,609.43 94.45,692.01 95.2,699.79 96.4,703.79 99.22,702.68 102.04,700.95 104.86,698.88 107.68,696.55 110.5,694.01 110.75,692.51 111.1,608.4 111.55,692.01 112.3,699.79 113.5,703.79 117.56,702.68 121.62,700.95 125.68,698.88 129.74,696.55 133.8,694.01 134.05,692.51 134.4,610.48 134.85,692.01 135.6,699.79 136.8,703.79 140.7,702.68 144.6,700.95 148.5,698.88 152.4,696.55 156.3,694.01 156.55,692.51 156.9,608.15 157.35,692.01 158.1,699.79 159.3,703.79 163.68,702.68 168.06,700.95 172.44,698.88 176.82,696.55 181.2,694.01 181.45,692.51 181.8,609.21 182.25,692.01 183,699.79 184.2,703.79 188.12,702.68 192.04,700.95 195.96,698.88 199.88,696.55 203.8,694.01 204.05,692.51 204.4,607.97 204.85,692.01 205.6,699.79 206.8,703.79 211.18,702.68 215.56,700.95 219.94,698.88 224.32,696.55 228.7,694.01 228.95,692.51 229.3,610.09 229.75,692.01 230.5,699.79 231.7,703.79 236.42,702.68 241.14,700.95 245.86,698.88 250.58,696.55 255.3,694.01 255.55,692.51 255.9,610.11 256.35,692.01 257.1,699.79 258.3,703.79 262.72,702.68 267.14,700.95 271.56,698.88 275.98,696.55 280.4,694.01 280.65,692.51 281,608.3 281.45,692.01 282.2,699.79 283.4,703.79 288,702 290.4,702.6 292.5,707 295,714 299.2,721.5 304,724.8 311.2,726.6" stroke="#e1e1e1" stroke-width="2.7" fill="none" stroke-linejoin="round"/>
<polyline points="47.2,724.2 70.7,724.6 71.79,714.24 72.88,707.56 73.97,703.08 75.06,700.08 76.15,698.07 77.24,696.72 78.33,695.82 79.42,695.21 80.51,694.81 81.6,694.53 81.85,693.03 82.2,608.35 82.65,692.53 83.4,697.94 84.6,701.94 85.78,701.1 86.96,699.79 88.14,698.22 89.32,696.46 90.5,694.53 90.75,693.03 91.1,608.49 91.55,692.53 92.3,697.94 93.5,701.94 95.84,701.1 98.18,699.79 100.52,698.22 102.86,696.46 105.2,694.53 105.45,693.03 105.8,608.96 106.25,692.53 107,697.94 108.2,701.94 111.24,701.1 114.28,699.79 117.32,698.22 120.36,696.46 123.4,694.53 123.65,693.03 124,610.17 124.45,692.53 125.2,697.94 126.4,701.94 130.14,701.1 133.88,699.79 137.62,698.22 141.36,696.46 145.1,694.53 145.35,693.03 145.7,607.98 146.15,692.53 146.9,697.94 148.1,701.94 152.14,701.1 156.18,699.79 160.22,698.22 164.26,696.46 168.3,694.53 168.55,693.03 168.9,609.55 169.35,692.53 170.1,697.94 171.3,701.94 174.38,701.1 177.46,699.79 180.54,698.22 183.62,696.46 186.7,694.53 186.95,693.03 187.3,609.29 187.75,692.53 188.5,697.94 189.7,701.94 193.82,701.1 197.94,699.79 202.06,698.22 206.18,696.46 210.3,694.53 210.55,693.03 210.9,608.86 211.35,692.53 212.1,697.94 213.3,701.94 217.44,701.1 221.58,699.79 225.72,698.22 229.86,696.46 234,694.53 234.25,693.03 234.6,609.24 235.05,692.53 235.8,697.94 237,701.94 241.3,701.1 245.6,699.79 249.9,698.22 254.2,696.46 258.5,694.53 258.75,693.03 259.1,610.15 259.55,692.53 260.3,697.94 261.5,701.94 265.28,701.1 269.06,699.79 272.84,698.22 276.62,696.46 280.4,694.53 280.65,693.03 281,608.13 281.45,692.53 282.2,697.94 283.4,701.94 288,702 290.4,702.6 292.5,707 295,714 299.2,721.5 304,724.8 311.2,726.6" stroke="#e1e1e1" stroke-width="2.7" fill="none" stroke-linejoin="round"/>
<polyline points="47.2,724.2 70.7,724.6 71.74,713.25 72.78,705.91 73.82,701 74.86,697.7 75.9,695.49 76.94,694.01 77.98,693.01 79.02,692.35 80.06,691.9 81.1,691.6 81.35,690.1 81.7,609.84 82.15,689.6 82.9,699.44 84.1,703.44 85.28,702.1 86.46,700.01 87.64,697.5 88.82,694.68 90,691.6 90.25,690.1 90.6,610.09 91.05,689.6 91.8,699.44 93,703.44 95.22,702.1 97.44,700.01 99.66,697.5 101.88,694.68 104.1,691.6 104.35,690.1 104.7,608.05 105.15,689.6 105.9,699.44 107.1,703.44 111.16,702.1 115.22,700.01 119.28,697.5 123.34,694.68 127.4,691.6 127.65,690.1 128,610.09 128.45,689.6 129.2,699.44 130.4,703.44 134.14,702.1 137.88,700.01 141.62,697.5 145.36,694.68 149.1,691.6 149.35,690.1 149.7,610.48 150.15,689.6 150.9,699.44 152.1,703.44 155.84,702.1 159.58,700.01 163.32,697.5 167.06,694.68 170.8,691.6 171.05,690.1 171.4,608.39 171.85,689.6 172.6,699.44 173.8,703.44 177.32,702.1 180.84,700.01 184.36,697.5 187.88,694.68 191.4,691.6 191.65,690.1 192,607.57 192.45,689.6 193.2,699.44 194.4,703.44 198.28,702.1 202.16,700.01 206.04,697.5 209.92,694.68 213.8,691.6 214.05,690.1 214.4,607.83 214.85,689.6 215.6,699.44 216.8,703.44 220.4,702.1 224,700.01 227.6,697.5 231.2,694.68 234.8,691.6 235.05,690.1 235.4,610.42 235.85,689.6 236.6,699.44 237.8,703.44 240.88,702.1 243.96,700.01 247.04,697.5 250.12,694.68 253.2,691.6 253.45,690.1 253.8,607.53 254.25,689.6 255,699.44 256.2,703.44 260.58,702.1 264.96,700.01 269.34,697.5 273.72,694.68 278.1,691.6 278.35,690.1 278.7,610.23 279.15,689.6 279.9,699.44 281.1,703.44 288,702 290.4,702.6 292.5,707 295,714 299.2,721.5 304,724.8 311.2,726.6" stroke="#e1e1e1" stroke-width="2.7" fill="none" stroke-linejoin="round"/>
<polyline points="47.2,724.2 70.7,724.6 71.74,714.11 72.78,707.35 73.82,702.82 74.86,699.78 75.9,697.75 76.94,696.38 77.98,695.47 79.02,694.86 80.06,694.44 81.1,694.17 81.35,692.67 81.7,607.79 82.15,692.17 82.9,699.26 84.1,703.26 85.22,702.22 86.34,700.62 87.46,698.7 88.58,696.53 89.7,694.17 89.95,692.67 90.3,608.01 90.75,692.17 91.5,699.26 92.7,703.26 94.88,702.22 97.06,700.62 99.24,698.7 101.42,696.53 103.6,694.17 103.85,692.67 104.2,609.55 104.65,692.17 105.4,699.26 106.6,703.26 110.18,702.22 113.76,700.62 117.34,698.7 120.92,696.53 124.5,694.17 124.75,692.67 125.1,607.77 125.55,692.17 126.3,699.26 127.5,703.26 131.66,702.22 135.82,700.62 139.98,698.7 144.14,696.53 148.3,694.17 148.55,692.67 148.9,608.52 149.35,692.17 150.1,699.26 151.3,703.26 154.7,702.22 158.1,700.62 161.5,698.7 164.9,696.53 168.3,694.17 168.55,692.67 168.9,610.26 169.35,692.17 170.1,699.26 171.3,703.26 175.24,702.22 179.18,700.62 183.12,698.7 187.06,696.53 191,694.17 191.25,692.67 191.6,609.65 192.05,692.17 192.8,699.26 194,703.26 197.72,702.22 201.44,700.62 205.16,698.7 208.88,696.53 212.6,694.17 212.85,692.67 213.2,610.15 213.65,692.17 214.4,699.26 215.6,703.26 219.62,702.22 223.64,700.62 227.66,698.7 231.68,696.53 235.7,694.17 235.95,692.67 236.3,610.44 236.75,692.17 237.5,699.26 238.7,703.26 242.48,702.22 246.26,700.62 250.04,698.7 253.82,696.53 257.6,694.17 257.85,692.67 258.2,607.6 258.65,692.17 259.4,699.26 260.6,703.26 264.32,702.22 268.04,700.62 271.76,698.7 275.48,696.53 279.2,694.17 279.45,692.67 279.8,608.2 280.25,692.17 281,699.26 282.2,703.26 288,702 290.4,702.6 292.5,707 295,714 299.2,721.5 304,724.8 311.2,726.6" stroke="#e1e1e1" stroke-width="2.7" fill="none" stroke-linejoin="round"/>
<polyline points="47.2,724.2 70.7,724.6 71.79,713.71 72.88,706.67 73.97,701.95 75.06,698.79 76.15,696.67 77.24,695.25 78.33,694.3 79.42,693.66 80.51,693.24 81.6,692.95 81.85,691.45 82.2,607.61 82.65,690.95 83.4,697.04 84.6,701.04 85.86,700.12 87.12,698.69 88.38,696.98 89.64,695.05 90.9,692.95 91.15,691.45 91.5,609.01 91.95,690.95 92.7,697.04 93.9,701.04 96.42,700.12 98.94,698.69 101.46,696.98 103.98,695.05 106.5,692.95 106.75,691.45 107.1,608.19 107.55,690.95 108.3,697.04 109.5,701.04 113.24,700.12 116.98,698.69 120.72,696.98 124.46,695.05 128.2,692.95 128.45,691.45 128.8,608.79 129.25,690.95 130,697.04 131.2,701.04 135.32,700.12 139.44,698.69 143.56,696.98 147.68,695.05 151.8,692.95 152.05,691.45 152.4,607.81 152.85,690.95 153.6,697.04 154.8,701.04 158.72,700.12 162.64,698.69 166.56,696.98 170.48,695.05 174.4,692.95 174.65,691.45 175,607.56 175.45,690.95 176.2,697.04 177.4,701.04 181.54,700.12 185.68,698.69 189.82,696.98 193.96,695.05 198.1,692.95 198.35,691.45 198.7,610.47 199.15,690.95 199.9,697.04 201.1,701.04 205.04,700.12 208.98,698.69 212.92,696.98 216.86,695.05 220.8,692.95 221.05,691.45 221.4,608.45 221.85,690.95 222.6,697.04 223.8,701.04 227.58,700.12 231.36,698.69 235.14,696.98 238.92,695.05 242.7,692.95 242.95,691.45 243.3,610.14 243.75,690.95 244.5,697.04 245.7,701.04 249.74,700.12 253.78,698.69 257.82,696.98 261.86,695.05 265.9,692.95 266.15,691.45 266.5,607.86 266.95,690.95 267.7,697.04 268.9,701.04 288,702 290.4,702.6 292.5,707 295,714 299.2,721.5 304,724.8 311.2,726.6" stroke="#e1e1e1" stroke-width="2.7" fill="none" stroke-linejoin="round"/>
<polyline points="47.2,724.2 70.7,724.6 71.87,713.52 73.04,706.36 74.21,701.56 75.38,698.34 76.55,696.19 77.72,694.74 78.89,693.77 80.06,693.12 81.23,692.69 82.4,692.4 82.65,690.9 83,608.79 83.45,690.4 84.2,697.36 85.4,701.36 86.58,700.34 87.76,698.76 88.94,696.86 90.12,694.73 91.3,692.4 91.55,690.9 91.9,608.04 92.35,690.4 93.1,697.36 94.3,701.36 97.06,700.34 99.82,698.76 102.58,696.86 105.34,694.73 108.1,692.4 108.35,690.9 108.7,609.56 109.15,690.4 109.9,697.36 111.1,701.36 114.84,700.34 118.58,698.76 122.32,696.86 126.06,694.73 129.8,692.4 130.05,690.9 130.4,607.94 130.85,690.4 131.6,697.36 132.8,701.36 137.08,700.34 141.36,698.76 145.64,696.86 149.92,694.73 154.2,692.4 154.45,690.9 154.8,609.71 155.25,690.4 156,697.36 157.2,701.36 161.52,700.34 165.84,698.76 170.16,696.86 174.48,694.73 178.8,692.4 179.05,690.9 179.4,609 179.85,690.4 180.6,697.36 181.8,701.36 185.86,700.34 189.92,698.76 193.98,696.86 198.04,694.73 202.1,692.4 202.35,690.9 202.7,607.84 203.15,690.4 203.9,697.36 205.1,701.36 208.7,700.34 212.3,698.76 215.9,696.86 219.5,694.73 223.1,692.4 223.35,690.9 223.7,608.56 224.15,690.4 224.9,697.36 226.1,701.36 231,700.34 235.9,698.76 240.8,696.86 245.7,694.73 250.6,692.4 250.85,690.9 251.2,608.99 251.65,690.4 252.4,697.36 253.6,701.36 257.8,700.34 262,698.76 266.2,696.86 270.4,694.73 274.6,692.4 274.85,690.9 275.2,610.26 275.65,690.4 276.4,697.36 277.6,701.36 288,702 290.4,702.6 292.5,707 295,714 299.2,721.5 304,724.8 311.2,726.6" stroke="#e1e1e1" stroke-width="2.7" fill="none" stroke-linejoin="round"/>
<polyline points="47.2,724.2 70.7,724.6 71.87,713.6 73.04,706.49 74.21,701.73 75.38,698.54 76.55,696.4 77.72,694.96 78.89,694 80.06,693.35 81.23,692.92 82.4,692.63 82.65,691.13 83,610.4 83.45,690.63 84.2,698.73 85.4,702.73 86.9,701.58 88.4,699.8 89.9,697.66 91.4,695.26 92.9,692.63 93.15,691.13 93.5,610.15 93.95,690.63 94.7,698.73 95.9,702.73 99.38,701.58 102.86,699.8 106.34,697.66 109.82,695.26 113.3,692.63 113.55,691.13 113.9,609.69 114.35,690.63 115.1,698.73 116.3,702.73 120.92,701.58 125.54,699.8 130.16,697.66 134.78,695.26 139.4,692.63 139.65,691.13 140,608.32 140.45,690.63 141.2,698.73 142.4,702.73 147,701.58 151.6,699.8 156.2,697.66 160.8,695.26 165.4,692.63 165.65,691.13 166,608.03 166.45,690.63 167.2,698.73 168.4,702.73 173.1,701.58 177.8,699.8 182.5,697.66 187.2,695.26 191.9,692.63 192.15,691.13 192.5,608.29 192.95,690.63 193.7,698.73 194.9,702.73 199.9,701.58 204.9,699.8 209.9,697.66 214.9,695.26 219.9,692.63 220.15,691.13 220.5,607.71 220.95,690.63 221.7,698.73 222.9,702.73 227.74,701.58 232.58,699.8 237.42,697.66 242.26,695.26 247.1,692.63 247.35,691.13 247.7,607.63 248.15,690.63 248.9,698.73 250.1,702.73 255,701.58 259.9,699.8 264.8,697.66 269.7,695.26 274.6,692.63 274.85,691.13 275.2,609.03 275.65,690.63 276.4,698.73 277.6,702.73 288,702 290.4,702.6 292.5,707 295,714 299.2,721.5 304,724.8 311.2,726.6" stroke="#e1e1e1" stroke-width="2.7" fill="none" stroke-linejoin="round"/>
<polyline points="45,724.5 70.7,724.5" stroke="#e1e1e1" stroke-width="5" fill="none"/>
<polyline points="47.2,724.2 70.7,724.6 71.82,715.07 72.94,708.94 74.06,704.84 75.18,702.09 76.3,700.24 77.42,699.01 78.54,698.18 79.66,697.62 80.78,697.25 81.9,697 82.15,695.5 82.5,603.2 82.95,695 83.7,699.5 84.9,703.5 86.1,702.3 87.3,700.45 88.5,698.23 89.7,695.73 90.9,693 91.15,691.5 91.5,604.2 91.95,691 92.7,699.5 93.9,703.5 96.2,702.3 98.5,700.45 100.8,698.23 103.1,695.73 105.4,693 105.65,691.5 106,604.2 106.45,691 107.2,699.5 108.4,703.5 112.58,702.3 116.76,700.45 120.94,698.23 125.12,695.73 129.3,693 129.55,691.5 129.9,605.2 130.35,691 131.1,699.5 132.3,703.5 136.12,702.3 139.94,700.45 143.76,698.23 147.58,695.73 151.4,693 151.65,691.5 152,605 152.45,691 153.2,699.5 154.4,703.5 158.28,702.3 162.16,700.45 166.04,698.23 169.92,695.73 173.8,693 174.05,691.5 174.4,605.5 174.85,691 175.6,699.5 176.8,703.5 180.48,702.3 184.16,700.45 187.84,698.23 191.52,695.73 195.2,693 195.45,691.5 195.8,606 196.25,691 197,699.5 198.2,703.5 202.16,702.3 206.12,700.45 210.08,698.23 214.04,695.73 218,693 218.25,691.5 218.6,606.2 219.05,691 219.8,699.5 221,703.5 224.78,702.3 228.56,700.45 232.34,698.23 236.12,695.73 239.9,693 240.15,691.5 240.5,606.4 240.95,691 241.7,699.5 242.9,703.5 246.16,702.3 249.42,700.45 252.68,698.23 255.94,695.73 259.2,693 259.45,691.5 259.8,606.4 260.25,691 261,699.5 262.2,703.5 266.64,702.3 271.08,700.45 275.52,698.23 279.96,695.73 284.4,693 284.65,691.5 285,606.4 285.45,691 286.2,699.5 287.4,703.5 288,702 290.4,702.6 292.5,707 295,714 299.2,721.5 304,724.8 311.2,726.6" stroke="#7b7b7b" stroke-width="2.4" fill="none" stroke-linejoin="round"/>
<polyline points="47.8,752.3 76.8,752.3 76.8,737.2 290,737.2 290,752.3 310.1,752.3" stroke="#000" stroke-width="2.5" fill="none" stroke-linejoin="miter"/>
<text x="92.91" y="758.9" font-size="23.31" fill="#2b2b2b" stroke="#2b2b2b" stroke-width="0.35" textLength="123.58" lengthAdjust="spacingAndGlyphs">current step</text>
<line x1="67.2" y1="773" x2="67.2" y2="876.2" stroke="#000" stroke-width="2.3"/>
<line x1="63" y1="875.1" x2="68.3" y2="875.1" stroke="#000" stroke-width="2.2"/>
<text x="46.96" y="884.2" font-size="22.2" fill="#000" stroke="#000" stroke-width="0.35" textLength="11.12" lengthAdjust="spacingAndGlyphs">0</text>
<line x1="63" y1="845.9" x2="68.3" y2="845.9" stroke="#000" stroke-width="2.2"/>
<text x="46.76" y="855" font-size="22.2" fill="#000" stroke="#000" stroke-width="0.35" textLength="11.12" lengthAdjust="spacingAndGlyphs">4</text>
<line x1="63" y1="816.7" x2="68.3" y2="816.7" stroke="#000" stroke-width="2.2"/>
<text x="47.05" y="825.8" font-size="22.2" fill="#000" stroke="#000" stroke-width="0.35" textLength="11.12" lengthAdjust="spacingAndGlyphs">8</text>
<line x1="63" y1="787.3" x2="68.3" y2="787.3" stroke="#000" stroke-width="2.2"/>
<text x="36.06" y="796.4" font-size="22.2" fill="#000" stroke="#000" stroke-width="0.35" textLength="22.25" lengthAdjust="spacingAndGlyphs">12</text>
<line x1="73.6" y1="878.7" x2="291.8" y2="878.7" stroke="#000" stroke-width="2.3"/>
<line x1="74.7" y1="877.6" x2="74.7" y2="882.9" stroke="#000" stroke-width="2.2"/>
<text x="68.84" y="899.9" font-size="21.65" fill="#000" stroke="#000" stroke-width="0.35" textLength="11.72" lengthAdjust="spacingAndGlyphs">0</text>
<line x1="117.9" y1="877.6" x2="117.9" y2="882.9" stroke="#000" stroke-width="2.2"/>
<text x="102.83" y="899.9" font-size="21.65" fill="#000" stroke="#000" stroke-width="0.35" textLength="29.31" lengthAdjust="spacingAndGlyphs">0.5</text>
<line x1="161.1" y1="877.6" x2="161.1" y2="882.9" stroke="#000" stroke-width="2.2"/>
<text x="154.05" y="899.9" font-size="21.65" fill="#000" stroke="#000" stroke-width="0.35" textLength="11.72" lengthAdjust="spacingAndGlyphs">1</text>
<line x1="204.3" y1="877.6" x2="204.3" y2="882.9" stroke="#000" stroke-width="2.2"/>
<text x="187.94" y="899.9" font-size="21.65" fill="#000" stroke="#000" stroke-width="0.35" textLength="29.31" lengthAdjust="spacingAndGlyphs">1.5</text>
<line x1="247.5" y1="877.6" x2="247.5" y2="882.9" stroke="#000" stroke-width="2.2"/>
<text x="239.84" y="899.9" font-size="21.65" fill="#000" stroke="#000" stroke-width="0.35" textLength="11.72" lengthAdjust="spacingAndGlyphs">2</text>
<line x1="290.7" y1="877.6" x2="290.7" y2="882.9" stroke="#000" stroke-width="2.2"/>
<text x="273.71" y="899.9" font-size="21.65" fill="#000" stroke="#000" stroke-width="0.35" textLength="29.31" lengthAdjust="spacingAndGlyphs">2.5</text>
<text x="123.81" y="923.9" font-size="24.2" fill="#000" stroke="#000" stroke-width="0.35" textLength="79.53" lengthAdjust="spacingAndGlyphs">Time (s)</text>
<text transform="translate(18.1,868.93) rotate(-90)" x="0" y="0" font-size="25.65" fill="#000" stroke="#000" stroke-width="0.35" textLength="69.28" lengthAdjust="spacingAndGlyphs">Sweep</text>
<path d="M81.75,785.07h1.9v4.9h-1.9zM90.95,785.07h1.9v4.9h-1.9zM106.45,785.07h1.9v4.9h-1.9zM127.85,785.07h1.9v4.9h-1.9zM150.85,785.07h1.9v4.9h-1.9zM173.15,785.07h1.9v4.9h-1.9zM195.05,785.07h1.9v4.9h-1.9zM217.85,785.07h1.9v4.9h-1.9zM241.15,785.07h1.9v4.9h-1.9zM262.55,785.07h1.9v4.9h-1.9zM282.65,785.07h1.9v4.9h-1.9zM82.85,792.36h1.9v4.9h-1.9zM93.35,792.36h1.9v4.9h-1.9zM109.05,792.36h1.9v4.9h-1.9zM132.15,792.36h1.9v4.9h-1.9zM153.05,792.36h1.9v4.9h-1.9zM176.75,792.36h1.9v4.9h-1.9zM199.95,792.36h1.9v4.9h-1.9zM221.75,792.36h1.9v4.9h-1.9zM245.85,792.36h1.9v4.9h-1.9zM268.65,792.36h1.9v4.9h-1.9zM82.85,799.65h1.9v4.9h-1.9zM93.05,799.65h1.9v4.9h-1.9zM110.15,799.65h1.9v4.9h-1.9zM131.85,799.65h1.9v4.9h-1.9zM154.85,799.65h1.9v4.9h-1.9zM176.35,799.65h1.9v4.9h-1.9zM200.65,799.65h1.9v4.9h-1.9zM223.45,799.65h1.9v4.9h-1.9zM246.75,799.65h1.9v4.9h-1.9zM271.65,799.65h1.9v4.9h-1.9zM82.85,806.94h1.9v4.9h-1.9zM92.55,806.94h1.9v4.9h-1.9zM109.05,806.94h1.9v4.9h-1.9zM130.25,806.94h1.9v4.9h-1.9zM153.55,806.94h1.9v4.9h-1.9zM178.05,806.94h1.9v4.9h-1.9zM199.95,806.94h1.9v4.9h-1.9zM223.95,806.94h1.9v4.9h-1.9zM246.75,806.94h1.9v4.9h-1.9zM267.75,806.94h1.9v4.9h-1.9zM84.05,814.23h1.9v4.9h-1.9zM94.15,814.23h1.9v4.9h-1.9zM111.75,814.23h1.9v4.9h-1.9zM133.75,814.23h1.9v4.9h-1.9zM157.85,814.23h1.9v4.9h-1.9zM181.95,814.23h1.9v4.9h-1.9zM204.75,814.23h1.9v4.9h-1.9zM226.95,814.23h1.9v4.9h-1.9zM250.75,814.23h1.9v4.9h-1.9zM275.65,814.23h1.9v4.9h-1.9zM82.85,821.52h1.9v4.9h-1.9zM93.05,821.52h1.9v4.9h-1.9zM110.15,821.52h1.9v4.9h-1.9zM133.45,821.52h1.9v4.9h-1.9zM155.95,821.52h1.9v4.9h-1.9zM180.85,821.52h1.9v4.9h-1.9zM203.45,821.52h1.9v4.9h-1.9zM228.35,821.52h1.9v4.9h-1.9zM254.95,821.52h1.9v4.9h-1.9zM280.05,821.52h1.9v4.9h-1.9zM81.25,828.81h1.9v4.9h-1.9zM90.15,828.81h1.9v4.9h-1.9zM104.85,828.81h1.9v4.9h-1.9zM123.05,828.81h1.9v4.9h-1.9zM144.75,828.81h1.9v4.9h-1.9zM167.95,828.81h1.9v4.9h-1.9zM186.35,828.81h1.9v4.9h-1.9zM209.95,828.81h1.9v4.9h-1.9zM233.65,828.81h1.9v4.9h-1.9zM258.15,828.81h1.9v4.9h-1.9zM280.05,828.81h1.9v4.9h-1.9zM80.75,836.1h1.9v4.9h-1.9zM89.65,836.1h1.9v4.9h-1.9zM103.75,836.1h1.9v4.9h-1.9zM127.05,836.1h1.9v4.9h-1.9zM148.75,836.1h1.9v4.9h-1.9zM170.45,836.1h1.9v4.9h-1.9zM191.05,836.1h1.9v4.9h-1.9zM213.45,836.1h1.9v4.9h-1.9zM234.45,836.1h1.9v4.9h-1.9zM252.85,836.1h1.9v4.9h-1.9zM277.75,836.1h1.9v4.9h-1.9zM80.75,843.39h1.9v4.9h-1.9zM89.35,843.39h1.9v4.9h-1.9zM103.25,843.39h1.9v4.9h-1.9zM124.15,843.39h1.9v4.9h-1.9zM147.95,843.39h1.9v4.9h-1.9zM167.95,843.39h1.9v4.9h-1.9zM190.65,843.39h1.9v4.9h-1.9zM212.25,843.39h1.9v4.9h-1.9zM235.35,843.39h1.9v4.9h-1.9zM257.25,843.39h1.9v4.9h-1.9zM278.85,843.39h1.9v4.9h-1.9zM81.25,850.68h1.9v4.9h-1.9zM90.55,850.68h1.9v4.9h-1.9zM106.15,850.68h1.9v4.9h-1.9zM127.85,850.68h1.9v4.9h-1.9zM151.45,850.68h1.9v4.9h-1.9zM174.05,850.68h1.9v4.9h-1.9zM197.75,850.68h1.9v4.9h-1.9zM220.45,850.68h1.9v4.9h-1.9zM242.35,850.68h1.9v4.9h-1.9zM265.55,850.68h1.9v4.9h-1.9zM82.05,857.97h1.9v4.9h-1.9zM90.95,857.97h1.9v4.9h-1.9zM107.75,857.97h1.9v4.9h-1.9zM129.45,857.97h1.9v4.9h-1.9zM153.85,857.97h1.9v4.9h-1.9zM178.45,857.97h1.9v4.9h-1.9zM201.75,857.97h1.9v4.9h-1.9zM222.75,857.97h1.9v4.9h-1.9zM250.25,857.97h1.9v4.9h-1.9zM274.25,857.97h1.9v4.9h-1.9zM82.05,865.26h1.9v4.9h-1.9zM92.55,865.26h1.9v4.9h-1.9zM112.95,865.26h1.9v4.9h-1.9zM139.05,865.26h1.9v4.9h-1.9zM165.05,865.26h1.9v4.9h-1.9zM191.55,865.26h1.9v4.9h-1.9zM219.55,865.26h1.9v4.9h-1.9zM246.75,865.26h1.9v4.9h-1.9zM274.25,865.26h1.9v4.9h-1.9z" fill="#7a7a7a"/>
<text x="332.7" y="565.4" font-size="33.66" font-weight="bold" fill="#000" stroke="#000" stroke-width="0.35" textLength="11.63" lengthAdjust="spacingAndGlyphs">f</text>
<text x="390.54" y="567.4" font-size="24.75" font-weight="bold" fill="#6a9ddf" stroke="#6a9ddf" stroke-width="0.35" textLength="88.24" lengthAdjust="spacingAndGlyphs">LED ON</text>
<text x="382.65" y="594.1" font-size="24.75" font-weight="bold" fill="#4a4a4a" stroke="#4a4a4a" stroke-width="0.35" textLength="149.28" lengthAdjust="spacingAndGlyphs">+WAY100-635</text>
<path d="M537,550.74 L601,541.6 L601,572.3 L537,562.21 Z" fill="url(#bm11)"/>
<line x1="537" y1="552.28" x2="601" y2="545.47" stroke="url(#br12)" stroke-width="1.3"/>
<line x1="537" y1="554.38" x2="601" y2="551.21" stroke="url(#br12)" stroke-width="1.3"/>
<line x1="537" y1="556.47" x2="601" y2="556.95" stroke="url(#br12)" stroke-width="1.3"/>
<line x1="537" y1="558.57" x2="601" y2="562.69" stroke="url(#br12)" stroke-width="1.3"/>
<line x1="537" y1="560.66" x2="601" y2="568.43" stroke="url(#br12)" stroke-width="1.3"/>
<path d="M518.5,543 L525.16,543 L537,549.74 L537,563.21 L525.16,570.5 L518.5,570.5 Z" stroke="#000" stroke-width="2.6" fill="#b3b3b3" stroke-linejoin="round"/>
<line x1="525.16" y1="543" x2="525.16" y2="570.5" stroke="#000" stroke-width="2.6"/>
<line x1="478.5" y1="597" x2="478.5" y2="877.5" stroke="#84a4d2" stroke-width="1.8" stroke-opacity="1"/>
<line x1="483.05" y1="597" x2="483.05" y2="877.5" stroke="#84a4d2" stroke-width="1.8" stroke-opacity="1"/>
<line x1="487.61" y1="597" x2="487.61" y2="877.5" stroke="#84a4d2" stroke-width="1.8" stroke-opacity="1"/>
<line x1="492.16" y1="597" x2="492.16" y2="877.5" stroke="#84a4d2" stroke-width="1.8" stroke-opacity="1"/>
<line x1="496.71" y1="597" x2="496.71" y2="877.5" stroke="#84a4d2" stroke-width="1.8" stroke-opacity="1"/>
<line x1="501.26" y1="597" x2="501.26" y2="877.5" stroke="#84a4d2" stroke-width="1.8" stroke-opacity="1"/>
<line x1="505.82" y1="597" x2="505.82" y2="877.5" stroke="#84a4d2" stroke-width="1.8" stroke-opacity="1"/>
<line x1="510.37" y1="597" x2="510.37" y2="877.5" stroke="#84a4d2" stroke-width="1.8" stroke-opacity="1"/>
<line x1="514.92" y1="597" x2="514.92" y2="877.5" stroke="#84a4d2" stroke-width="1.8" stroke-opacity="1"/>
<line x1="519.47" y1="597" x2="519.47" y2="877.5" stroke="#84a4d2" stroke-width="1.8" stroke-opacity="1"/>
<line x1="524.03" y1="597" x2="524.03" y2="877.5" stroke="#84a4d2" stroke-width="1.8" stroke-opacity="1"/>
<line x1="528.58" y1="597" x2="528.58" y2="877.5" stroke="#84a4d2" stroke-width="1.8" stroke-opacity="1"/>
<line x1="533.13" y1="597" x2="533.13" y2="877.5" stroke="#84a4d2" stroke-width="1.8" stroke-opacity="1"/>
<line x1="537.68" y1="597" x2="537.68" y2="877.5" stroke="#84a4d2" stroke-width="1.8" stroke-opacity="1"/>
<line x1="542.24" y1="597" x2="542.24" y2="877.5" stroke="#84a4d2" stroke-width="1.8" stroke-opacity="1"/>
<line x1="546.79" y1="597" x2="546.79" y2="877.5" stroke="#84a4d2" stroke-width="1.8" stroke-opacity="1"/>
<line x1="551.34" y1="597" x2="551.34" y2="877.5" stroke="#84a4d2" stroke-width="1.8" stroke-opacity="1"/>
<line x1="555.89" y1="597" x2="555.89" y2="877.5" stroke="#84a4d2" stroke-width="1.8" stroke-opacity="1"/>
<line x1="560.45" y1="597" x2="560.45" y2="877.5" stroke="#84a4d2" stroke-width="1.8" stroke-opacity="1"/>
<line x1="565" y1="597" x2="565" y2="877.5" stroke="#84a4d2" stroke-width="1.8" stroke-opacity="1"/>
<g opacity="0.85">
<polyline points="385.3,723.9 406.8,724.3 408.13,712.55 409.46,704.94 410.79,699.84 412.12,696.42 413.45,694.13 414.78,692.59 416.11,691.56 417.44,690.87 418.77,690.41 420.1,690.1 420.35,688.6 420.7,608.09 421.15,688.1 421.9,695.77 423.1,699.77 424.5,698.67 425.9,696.96 427.3,694.92 428.7,692.61 430.1,690.1 430.35,688.6 430.7,607.03 431.15,688.1 431.9,695.77 433.1,699.77 435.8,698.67 438.5,696.96 441.2,694.92 443.9,692.61 446.6,690.1 446.85,688.6 447.2,609.06 447.65,688.1 448.4,695.77 449.6,699.77 453.76,698.67 457.92,696.96 462.08,694.92 466.24,692.61 470.4,690.1 470.65,688.6 471,608.96 471.45,688.1 472.2,695.77 473.4,699.77 477.4,698.67 481.4,696.96 485.4,694.92 489.4,692.61 493.4,690.1 493.65,688.6 494,608.63 494.45,688.1 495.2,695.77 496.4,699.77 500.32,698.67 504.24,696.96 508.16,694.92 512.08,692.61 516,690.1 516.25,688.6 516.6,608.65 517.05,688.1 517.8,695.77 519,699.77 522.62,698.67 526.24,696.96 529.86,694.92 533.48,692.61 537.1,690.1 537.35,688.6 537.7,609.07 538.15,688.1 538.9,695.77 540.1,699.77 544.4,698.67 548.7,696.96 553,694.92 557.3,692.61 561.6,690.1 561.85,688.6 562.2,609.95 562.65,688.1 563.4,695.77 564.6,699.77 568.3,698.67 572,696.96 575.7,694.92 579.4,692.61 583.1,690.1 583.35,688.6 583.7,609.62 584.15,688.1 584.9,695.77 586.1,699.77 590.5,698.67 594.9,696.96 599.3,694.92 603.7,692.61 608.1,690.1 608.35,688.6 608.7,609.15 609.15,688.1 609.9,695.77 611.1,699.77 615.5,699.5 619,697.5 622.5,695.5 625.3,694.2 627.3,697 629.5,704 632,713 634.5,719.5 639,723.3 646.4,725.3" stroke="#e1e1e1" stroke-width="2.8" fill="none" stroke-linejoin="round"/>
<polyline points="385.3,723.9 406.8,724.3 408.18,712.83 409.56,705.41 410.94,700.44 412.32,697.11 413.7,694.87 415.08,693.37 416.46,692.37 417.84,691.7 419.22,691.25 420.6,690.94 420.85,689.44 421.2,608.26 421.65,688.94 422.4,696.01 423.6,700.01 424.76,698.98 425.92,697.38 427.08,695.46 428.24,693.3 429.4,690.94 429.65,689.44 430,609.92 430.45,688.94 431.2,696.01 432.4,700.01 435.14,698.98 437.88,697.38 440.62,695.46 443.36,693.3 446.1,690.94 446.35,689.44 446.7,608.16 447.15,688.94 447.9,696.01 449.1,700.01 452.78,698.98 456.46,697.38 460.14,695.46 463.82,693.3 467.5,690.94 467.75,689.44 468.1,608.16 468.55,688.94 469.3,696.01 470.5,700.01 474.8,698.98 479.1,697.38 483.4,695.46 487.7,693.3 492,690.94 492.25,689.44 492.6,608.23 493.05,688.94 493.8,696.01 495,700.01 498.36,698.98 501.72,697.38 505.08,695.46 508.44,693.3 511.8,690.94 512.05,689.44 512.4,607.43 512.85,688.94 513.6,696.01 514.8,700.01 518.3,698.98 521.8,697.38 525.3,695.46 528.8,693.3 532.3,690.94 532.55,689.44 532.9,610 533.35,688.94 534.1,696.01 535.3,700.01 539.72,698.98 544.14,697.38 548.56,695.46 552.98,693.3 557.4,690.94 557.65,689.44 558,607.02 558.45,688.94 559.2,696.01 560.4,700.01 564.22,698.98 568.04,697.38 571.86,695.46 575.68,693.3 579.5,690.94 579.75,689.44 580.1,608.82 580.55,688.94 581.3,696.01 582.5,700.01 585.74,698.98 588.98,697.38 592.22,695.46 595.46,693.3 598.7,690.94 598.95,689.44 599.3,609.78 599.75,688.94 600.5,696.01 601.7,700.01 605.04,698.98 608.38,697.38 611.72,695.46 615.06,693.3 618.4,690.94 618.65,689.44 619,607.76 619.45,688.94 620.2,696.01 621.4,700.01 615.5,699.5 619,697.5 622.5,695.5 625.3,694.2 627.3,697 629.5,704 632,713 634.5,719.5 639,723.3 646.4,725.3" stroke="#e1e1e1" stroke-width="2.8" fill="none" stroke-linejoin="round"/>
<polyline points="385.3,723.9 406.8,724.3 408.13,712.75 409.46,705.27 410.79,700.26 412.12,696.91 413.45,694.65 414.78,693.14 416.11,692.13 417.44,691.46 418.77,691 420.1,690.7 420.35,689.2 420.7,607.72 421.15,688.7 421.9,695.76 423.1,699.76 424.36,698.73 425.62,697.13 426.88,695.21 428.14,693.05 429.4,690.7 429.65,689.2 430,607.6 430.45,688.7 431.2,695.76 432.4,699.76 434.6,698.73 436.8,697.13 439,695.21 441.2,693.05 443.4,690.7 443.65,689.2 444,607.35 444.45,688.7 445.2,695.76 446.4,699.76 450.62,698.73 454.84,697.13 459.06,695.21 463.28,693.05 467.5,690.7 467.75,689.2 468.1,609.53 468.55,688.7 469.3,695.76 470.5,699.76 474.48,698.73 478.46,697.13 482.44,695.21 486.42,693.05 490.4,690.7 490.65,689.2 491,609.35 491.45,688.7 492.2,695.76 493.4,699.76 497.16,698.73 500.92,697.13 504.68,695.21 508.44,693.05 512.2,690.7 512.45,689.2 512.8,609.73 513.25,688.7 514,695.76 515.2,699.76 519.08,698.73 522.96,697.13 526.84,695.21 530.72,693.05 534.6,690.7 534.85,689.2 535.2,607.15 535.65,688.7 536.4,695.76 537.6,699.76 542.32,698.73 547.04,697.13 551.76,695.21 556.48,693.05 561.2,690.7 561.45,689.2 561.8,609.08 562.25,688.7 563,695.76 564.2,699.76 568.44,698.73 572.68,697.13 576.92,695.21 581.16,693.05 585.4,690.7 585.65,689.2 586,607.97 586.45,688.7 587.2,695.76 588.4,699.76 592.34,698.73 596.28,697.13 600.22,695.21 604.16,693.05 608.1,690.7 608.35,689.2 608.7,608.94 609.15,688.7 609.9,695.76 611.1,699.76 615.5,699.5 619,697.5 622.5,695.5 625.3,694.2 627.3,697 629.5,704 632,713 634.5,719.5 639,723.3 646.4,725.3" stroke="#e1e1e1" stroke-width="2.8" fill="none" stroke-linejoin="round"/>
<polyline points="385.3,723.9 406.8,724.3 408.13,712.52 409.46,704.89 410.79,699.78 412.12,696.35 413.45,694.05 414.78,692.51 416.11,691.48 417.44,690.79 418.77,690.33 420.1,690.02 420.35,688.52 420.7,609.91 421.15,688.02 421.9,697.35 423.1,701.35 424.42,700.06 425.74,698.06 427.06,695.66 428.38,692.96 429.7,690.02 429.95,688.52 430.3,607 430.75,688.02 431.5,697.35 432.7,701.35 435.32,700.06 437.94,698.06 440.56,695.66 443.18,692.96 445.8,690.02 446.05,688.52 446.4,609.24 446.85,688.02 447.6,697.35 448.8,701.35 452.32,700.06 455.84,698.06 459.36,695.66 462.88,692.96 466.4,690.02 466.65,688.52 467,609.56 467.45,688.02 468.2,697.35 469.4,701.35 473.76,700.06 478.12,698.06 482.48,695.66 486.84,692.96 491.2,690.02 491.45,688.52 491.8,608.53 492.25,688.02 493,697.35 494.2,701.35 497.86,700.06 501.52,698.06 505.18,695.66 508.84,692.96 512.5,690.02 512.75,688.52 513.1,608.78 513.55,688.02 514.3,697.35 515.5,701.35 519.32,700.06 523.14,698.06 526.96,695.66 530.78,692.96 534.6,690.02 534.85,688.52 535.2,609.98 535.65,688.02 536.4,697.35 537.6,701.35 541.56,700.06 545.52,698.06 549.48,695.66 553.44,692.96 557.4,690.02 557.65,688.52 558,607.7 558.45,688.02 559.2,697.35 560.4,701.35 564.54,700.06 568.68,698.06 572.82,695.66 576.96,692.96 581.1,690.02 581.35,688.52 581.7,608.89 582.15,688.02 582.9,697.35 584.1,701.35 588.56,700.06 593.02,698.06 597.48,695.66 601.94,692.96 606.4,690.02 606.65,688.52 607,609.23 607.45,688.02 608.2,697.35 609.4,701.35 615.5,699.5 619,697.5 622.5,695.5 625.3,694.2 627.3,697 629.5,704 632,713 634.5,719.5 639,723.3 646.4,725.3" stroke="#e1e1e1" stroke-width="2.8" fill="none" stroke-linejoin="round"/>
<polyline points="385.3,723.9 406.8,724.3 408.18,712.65 409.56,705.1 410.94,700.05 412.32,696.66 413.7,694.39 415.08,692.86 416.46,691.84 417.84,691.16 419.22,690.7 420.6,690.39 420.85,688.89 421.2,608.18 421.65,688.39 422.4,697.39 423.6,701.39 424.82,700.13 426.04,698.2 427.26,695.87 428.48,693.25 429.7,690.39 429.95,688.89 430.3,608.58 430.75,688.39 431.5,697.39 432.7,701.39 435.38,700.13 438.06,698.2 440.74,695.87 443.42,693.25 446.1,690.39 446.35,688.89 446.7,608.84 447.15,688.39 447.9,697.39 449.1,701.39 452.56,700.13 456.02,698.2 459.48,695.87 462.94,693.25 466.4,690.39 466.65,688.89 467,609.03 467.45,688.39 468.2,697.39 469.4,701.39 473.76,700.13 478.12,698.2 482.48,695.87 486.84,693.25 491.2,690.39 491.45,688.89 491.8,607.97 492.25,688.39 493,697.39 494.2,701.39 497.62,700.13 501.04,698.2 504.46,695.87 507.88,693.25 511.3,690.39 511.55,688.89 511.9,608.89 512.35,688.39 513.1,697.39 514.3,701.39 518.6,700.13 522.9,698.2 527.2,695.87 531.5,693.25 535.8,690.39 536.05,688.89 536.4,608.63 536.85,688.39 537.6,697.39 538.8,701.39 543,700.13 547.2,698.2 551.4,695.87 555.6,693.25 559.8,690.39 560.05,688.89 560.4,607.67 560.85,688.39 561.6,697.39 562.8,701.39 566.82,700.13 570.84,698.2 574.86,695.87 578.88,693.25 582.9,690.39 583.15,688.89 583.5,608.84 583.95,688.39 584.7,697.39 585.9,701.39 588.96,700.13 592.02,698.2 595.08,695.87 598.14,693.25 601.2,690.39 601.45,688.89 601.8,607.79 602.25,688.39 603,697.39 604.2,701.39 607.56,700.13 610.92,698.2 614.28,695.87 617.64,693.25 621,690.39 621.25,688.89 621.6,609.73 622.05,688.39 622.8,697.39 624,701.39 615.5,699.5 619,697.5 622.5,695.5 625.3,694.2 627.3,697 629.5,704 632,713 634.5,719.5 639,723.3 646.4,725.3" stroke="#e1e1e1" stroke-width="2.8" fill="none" stroke-linejoin="round"/>
<polyline points="385.3,723.9 406.8,724.3 408.18,712.24 409.56,704.43 410.94,699.19 412.32,695.68 413.7,693.33 415.08,691.75 416.46,690.69 417.84,689.98 419.22,689.51 420.6,689.19 420.85,687.69 421.2,608.57 421.65,687.19 422.4,697.79 423.6,701.79 424.76,700.35 425.92,698.13 427.08,695.47 428.24,692.47 429.4,689.19 429.65,687.69 430,608.43 430.45,687.19 431.2,697.79 432.4,701.79 435.02,700.35 437.64,698.13 440.26,695.47 442.88,692.47 445.5,689.19 445.75,687.69 446.1,607.66 446.55,687.19 447.3,697.79 448.5,701.79 452.94,700.35 457.38,698.13 461.82,695.47 466.26,692.47 470.7,689.19 470.95,687.69 471.3,607.43 471.75,687.19 472.5,697.79 473.7,701.79 477.82,700.35 481.94,698.13 486.06,695.47 490.18,692.47 494.3,689.19 494.55,687.69 494.9,609.78 495.35,687.19 496.1,697.79 497.3,701.79 501.04,700.35 504.78,698.13 508.52,695.47 512.26,692.47 516,689.19 516.25,687.69 516.6,608.59 517.05,687.19 517.8,697.79 519,701.79 523.24,700.35 527.48,698.13 531.72,695.47 535.96,692.47 540.2,689.19 540.45,687.69 540.8,608.57 541.25,687.19 542,697.79 543.2,701.79 547.58,700.35 551.96,698.13 556.34,695.47 560.72,692.47 565.1,689.19 565.35,687.69 565.7,608.58 566.15,687.19 566.9,697.79 568.1,701.79 572.2,700.35 576.3,698.13 580.4,695.47 584.5,692.47 588.6,689.19 588.85,687.69 589.2,609.44 589.65,687.19 590.4,697.79 591.6,701.79 595.9,700.35 600.2,698.13 604.5,695.47 608.8,692.47 613.1,689.19 613.35,687.69 613.7,607.72 614.15,687.19 614.9,697.79 616.1,701.79 615.5,699.5 619,697.5 622.5,695.5 625.3,694.2 627.3,697 629.5,704 632,713 634.5,719.5 639,723.3 646.4,725.3" stroke="#e1e1e1" stroke-width="2.8" fill="none" stroke-linejoin="round"/>
<polyline points="385.3,723.9 406.8,724.3 407.89,712.22 408.98,704.39 410.07,699.14 411.16,695.62 412.25,693.26 413.34,691.68 414.43,690.62 415.52,689.91 416.61,689.43 417.7,689.12 417.95,687.62 418.3,608.38 418.75,687.12 419.5,695.51 420.7,699.51 421.54,698.32 422.38,696.49 423.22,694.29 424.06,691.82 424.9,689.12 425.15,687.62 425.5,608.92 425.95,687.12 426.7,695.51 427.9,699.51 430.36,698.32 432.82,696.49 435.28,694.29 437.74,691.82 440.2,689.12 440.45,687.62 440.8,609.48 441.25,687.12 442,695.51 443.2,699.51 447.18,698.32 451.16,696.49 455.14,694.29 459.12,691.82 463.1,689.12 463.35,687.62 463.7,609.68 464.15,687.12 464.9,695.51 466.1,699.51 469.58,698.32 473.06,696.49 476.54,694.29 480.02,691.82 483.5,689.12 483.75,687.62 484.1,609.6 484.55,687.12 485.3,695.51 486.5,699.51 490.52,698.32 494.54,696.49 498.56,694.29 502.58,691.82 506.6,689.12 506.85,687.62 507.2,607.13 507.65,687.12 508.4,695.51 509.6,699.51 513.96,698.32 518.32,696.49 522.68,694.29 527.04,691.82 531.4,689.12 531.65,687.62 532,608.14 532.45,687.12 533.2,695.51 534.4,699.51 538.88,698.32 543.36,696.49 547.84,694.29 552.32,691.82 556.8,689.12 557.05,687.62 557.4,609.5 557.85,687.12 558.6,695.51 559.8,699.51 563.74,698.32 567.68,696.49 571.62,694.29 575.56,691.82 579.5,689.12 579.75,687.62 580.1,609.45 580.55,687.12 581.3,695.51 582.5,699.51 586.26,698.32 590.02,696.49 593.78,694.29 597.54,691.82 601.3,689.12 601.55,687.62 601.9,607.37 602.35,687.12 603.1,695.51 604.3,699.51 615.5,699.5 619,697.5 622.5,695.5 625.3,694.2 627.3,697 629.5,704 632,713 634.5,719.5 639,723.3 646.4,725.3" stroke="#e1e1e1" stroke-width="2.8" fill="none" stroke-linejoin="round"/>
<polyline points="385.3,723.9 406.8,724.3 408.26,712.65 409.72,705.12 411.18,700.06 412.64,696.68 414.1,694.41 415.56,692.88 417.02,691.86 418.48,691.18 419.94,690.72 421.4,690.41 421.65,688.91 422,607.31 422.45,688.41 423.2,697.69 424.4,701.69 425.72,700.41 427.04,698.42 428.36,696.03 429.68,693.35 431,690.41 431.25,688.91 431.6,608.07 432.05,688.41 432.8,697.69 434,701.69 436.84,700.41 439.68,698.42 442.52,696.03 445.36,693.35 448.2,690.41 448.45,688.91 448.8,609.41 449.25,688.41 450,697.69 451.2,701.69 455.52,700.41 459.84,698.42 464.16,696.03 468.48,693.35 472.8,690.41 473.05,688.91 473.4,608.56 473.85,688.41 474.6,697.69 475.8,701.69 479.84,700.41 483.88,698.42 487.92,696.03 491.96,693.35 496,690.41 496.25,688.91 496.6,608.36 497.05,688.41 497.8,697.69 499,701.69 502.68,700.41 506.36,698.42 510.04,696.03 513.72,693.35 517.4,690.41 517.65,688.91 518,607.26 518.45,688.41 519.2,697.69 520.4,701.69 524.78,700.41 529.16,698.42 533.54,696.03 537.92,693.35 542.3,690.41 542.55,688.91 542.9,608.19 543.35,688.41 544.1,697.69 545.3,701.69 549.12,700.41 552.94,698.42 556.76,696.03 560.58,693.35 564.4,690.41 564.65,688.91 565,609.99 565.45,688.41 566.2,697.69 567.4,701.69 572.3,700.41 577.2,698.42 582.1,696.03 587,693.35 591.9,690.41 592.15,688.91 592.5,609.09 592.95,688.41 593.7,697.69 594.9,701.69 599.56,700.41 604.22,698.42 608.88,696.03 613.54,693.35 618.2,690.41 618.45,688.91 618.8,608.35 619.25,688.41 620,697.69 621.2,701.69 615.5,699.5 619,697.5 622.5,695.5 625.3,694.2 627.3,697 629.5,704 632,713 634.5,719.5 639,723.3 646.4,725.3" stroke="#e1e1e1" stroke-width="2.8" fill="none" stroke-linejoin="round"/>
<polyline points="385.3,723.9 406.8,724.3 408.26,712.28 409.72,704.49 411.18,699.27 412.64,695.77 414.1,693.43 415.56,691.86 417.02,690.8 418.48,690.09 419.94,689.62 421.4,689.3 421.65,687.8 422,609.28 422.45,687.3 423.2,696.78 424.4,700.78 425.62,699.48 426.84,697.45 428.06,695.02 429.28,692.29 430.5,689.3 430.75,687.8 431.1,607.45 431.55,687.3 432.3,696.78 433.5,700.78 436.66,699.48 439.82,697.45 442.98,695.02 446.14,692.29 449.3,689.3 449.55,687.8 449.9,609.04 450.35,687.3 451.1,696.78 452.3,700.78 456.46,699.48 460.62,697.45 464.78,695.02 468.94,692.29 473.1,689.3 473.35,687.8 473.7,608.1 474.15,687.3 474.9,696.78 476.1,700.78 480.08,699.48 484.06,697.45 488.04,695.02 492.02,692.29 496,689.3 496.25,687.8 496.6,608.56 497.05,687.3 497.8,696.78 499,700.78 502.86,699.48 506.72,697.45 510.58,695.02 514.44,692.29 518.3,689.3 518.55,687.8 518.9,607.71 519.35,687.3 520.1,696.78 521.3,700.78 525.16,699.48 529.02,697.45 532.88,695.02 536.74,692.29 540.6,689.3 540.85,687.8 541.2,608.11 541.65,687.3 542.4,696.78 543.6,700.78 547.76,699.48 551.92,697.45 556.08,695.02 560.24,692.29 564.4,689.3 564.65,687.8 565,608.02 565.45,687.3 566.2,696.78 567.4,700.78 571.92,699.48 576.44,697.45 580.96,695.02 585.48,692.29 590,689.3 590.25,687.8 590.6,608.14 591.05,687.3 591.8,696.78 593,700.78 597.64,699.48 602.28,697.45 606.92,695.02 611.56,692.29 616.2,689.3 616.45,687.8 616.8,607.05 617.25,687.3 618,696.78 619.2,700.78 615.5,699.5 619,697.5 622.5,695.5 625.3,694.2 627.3,697 629.5,704 632,713 634.5,719.5 639,723.3 646.4,725.3" stroke="#e1e1e1" stroke-width="2.8" fill="none" stroke-linejoin="round"/>
<polyline points="385.3,723.9 406.8,724.3 408.26,712.28 409.72,704.5 411.18,699.28 412.64,695.78 414.1,693.43 415.56,691.86 417.02,690.8 418.48,690.1 419.94,689.62 421.4,689.31 421.65,687.81 422,607.17 422.45,687.31 423.2,696.19 424.4,700.19 425.62,698.95 426.84,697.03 428.06,694.73 429.28,692.14 430.5,689.31 430.75,687.81 431.1,607.54 431.55,687.31 432.3,696.19 433.5,700.19 436.44,698.95 439.38,697.03 442.32,694.73 445.26,692.14 448.2,689.31 448.45,687.81 448.8,609.15 449.25,687.31 450,696.19 451.2,700.19 455,698.95 458.8,697.03 462.6,694.73 466.4,692.14 470.2,689.31 470.45,687.81 470.8,607.82 471.25,687.31 472,696.19 473.2,700.19 477.76,698.95 482.32,697.03 486.88,694.73 491.44,692.14 496,689.31 496.25,687.81 496.6,607.97 497.05,687.31 497.8,696.19 499,700.19 503.38,698.95 507.76,697.03 512.14,694.73 516.52,692.14 520.9,689.31 521.15,687.81 521.5,607.73 521.95,687.31 522.7,696.19 523.9,700.19 528.22,698.95 532.54,697.03 536.86,694.73 541.18,692.14 545.5,689.31 545.75,687.81 546.1,609.5 546.55,687.31 547.3,696.19 548.5,700.19 552.98,698.95 557.46,697.03 561.94,694.73 566.42,692.14 570.9,689.31 571.15,687.81 571.5,607.27 571.95,687.31 572.7,696.19 573.9,700.19 578.2,698.95 582.5,697.03 586.8,694.73 591.1,692.14 595.4,689.31 595.65,687.81 596,608.91 596.45,687.31 597.2,696.19 598.4,700.19 602.3,698.95 606.2,697.03 610.1,694.73 614,692.14 617.9,689.31 618.15,687.81 618.5,609.58 618.95,687.31 619.7,696.19 620.9,700.19 615.5,699.5 619,697.5 622.5,695.5 625.3,694.2 627.3,697 629.5,704 632,713 634.5,719.5 639,723.3 646.4,725.3" stroke="#e1e1e1" stroke-width="2.8" fill="none" stroke-linejoin="round"/>
<polyline points="385.3,723.9 406.8,724.3 408.29,712.88 409.78,705.5 411.27,700.55 412.76,697.23 414.25,695 415.74,693.51 417.23,692.51 418.72,691.84 420.21,691.39 421.7,691.09 421.95,689.59 422.3,609.38 422.75,689.09 423.5,697.74 424.7,701.74 426.34,700.53 427.98,698.65 429.62,696.4 431.26,693.86 432.9,691.09 433.15,689.59 433.5,608.85 433.95,689.09 434.7,697.74 435.9,701.74 439.42,700.53 442.94,698.65 446.46,696.4 449.98,693.86 453.5,691.09 453.75,689.59 454.1,608.11 454.55,689.09 455.3,697.74 456.5,701.74 460.62,700.53 464.74,698.65 468.86,696.4 472.98,693.86 477.1,691.09 477.35,689.59 477.7,607.13 478.15,689.09 478.9,697.74 480.1,701.74 484,700.53 487.9,698.65 491.8,696.4 495.7,693.86 499.6,691.09 499.85,689.59 500.2,608.33 500.65,689.09 501.4,697.74 502.6,701.74 507.24,700.53 511.88,698.65 516.52,696.4 521.16,693.86 525.8,691.09 526.05,689.59 526.4,608.1 526.85,689.09 527.6,697.74 528.8,701.74 533.96,700.53 539.12,698.65 544.28,696.4 549.44,693.86 554.6,691.09 554.85,689.59 555.2,609.14 555.65,689.09 556.4,697.74 557.6,701.74 562.18,700.53 566.76,698.65 571.34,696.4 575.92,693.86 580.5,691.09 580.75,689.59 581.1,607.89 581.55,689.09 582.3,697.74 583.5,701.74 588.04,700.53 592.58,698.65 597.12,696.4 601.66,693.86 606.2,691.09 606.45,689.59 606.8,608.22 607.25,689.09 608,697.74 609.2,701.74 615.5,699.5 619,697.5 622.5,695.5 625.3,694.2 627.3,697 629.5,704 632,713 634.5,719.5 639,723.3 646.4,725.3" stroke="#e1e1e1" stroke-width="2.8" fill="none" stroke-linejoin="round"/>
<polyline points="385.3,723.9 406.8,724.3 408.26,712.45 409.72,704.78 411.18,699.64 412.64,696.19 414.1,693.88 415.56,692.33 417.02,691.29 418.48,690.6 419.94,690.13 421.4,689.82 421.65,688.32 422,608.06 422.45,687.82 423.2,694.78 424.4,698.78 425.54,697.76 426.68,696.18 427.82,694.28 428.96,692.15 430.1,689.82 430.35,688.32 430.7,608.16 431.15,687.82 431.9,694.78 433.1,698.78 436.92,697.76 440.74,696.18 444.56,694.28 448.38,692.15 452.2,689.82 452.45,688.32 452.8,608.74 453.25,687.82 454,694.78 455.2,698.78 459.42,697.76 463.64,696.18 467.86,694.28 472.08,692.15 476.3,689.82 476.55,688.32 476.9,609.77 477.35,687.82 478.1,694.78 479.3,698.78 483.56,697.76 487.82,696.18 492.08,694.28 496.34,692.15 500.6,689.82 500.85,688.32 501.2,607.57 501.65,687.82 502.4,694.78 503.6,698.78 508.64,697.76 513.68,696.18 518.72,694.28 523.76,692.15 528.8,689.82 529.05,688.32 529.4,609.91 529.85,687.82 530.6,694.78 531.8,698.78 536.56,697.76 541.32,696.18 546.08,694.28 550.84,692.15 555.6,689.82 555.85,688.32 556.2,609.14 556.65,687.82 557.4,694.78 558.6,698.78 563.16,697.76 567.72,696.18 572.28,694.28 576.84,692.15 581.4,689.82 581.65,688.32 582,608.12 582.45,687.82 583.2,694.78 584.4,698.78 589.78,697.76 595.16,696.18 600.54,694.28 605.92,692.15 611.3,689.82 611.55,688.32 611.9,609 612.35,687.82 613.1,694.78 614.3,698.78 615.5,699.5 619,697.5 622.5,695.5 625.3,694.2 627.3,697 629.5,704 632,713 634.5,719.5 639,723.3 646.4,725.3" stroke="#e1e1e1" stroke-width="2.8" fill="none" stroke-linejoin="round"/>
</g>
<polyline points="383,724.2 406.8,724.2" stroke="#e1e1e1" stroke-width="5" fill="none"/>
<polyline points="385.3,723.9 406.8,724.3 408.03,713.93 409.26,707.24 410.49,702.76 411.72,699.75 412.95,697.74 414.18,696.39 415.41,695.49 416.64,694.88 417.87,694.47 419.1,694.2 419.35,692.7 419.7,601.9 420.15,692.2 420.9,696.8 422.1,700.8 423.34,699.57 424.58,697.67 425.82,695.38 427.06,692.81 428.3,690 428.55,688.5 428.9,602.5 429.35,688 430.1,696.8 431.3,700.8 433.64,699.57 435.98,697.67 438.32,695.38 440.66,692.81 443,690 443.25,688.5 443.6,603 444.05,688 444.8,696.8 446,700.8 450.42,699.57 454.84,697.67 459.26,695.38 463.68,692.81 468.1,690 468.35,688.5 468.7,603.5 469.15,688 469.9,696.8 471.1,700.8 475.16,699.57 479.22,697.67 483.28,695.38 487.34,692.81 491.4,690 491.65,688.5 492,603.9 492.45,688 493.2,696.8 494.4,700.8 498.36,699.57 502.32,697.67 506.28,695.38 510.24,692.81 514.2,690 514.45,688.5 514.8,604 515.25,688 516,696.8 517.2,700.8 521.08,699.57 524.96,697.67 528.84,695.38 532.72,692.81 536.6,690 536.85,688.5 537.2,604 537.65,688 538.4,696.8 539.6,700.8 544.46,699.57 549.32,697.67 554.18,695.38 559.04,692.81 563.9,690 564.15,688.5 564.5,604.2 564.95,688 565.7,696.8 566.9,700.8 571.36,699.57 575.82,697.67 580.28,695.38 584.74,692.81 589.2,690 589.45,688.5 589.8,604.5 590.25,688 591,696.8 592.2,700.8 596.12,699.57 600.04,697.67 603.96,695.38 607.88,692.81 611.8,690 612.05,688.5 612.4,604.5 612.85,688 613.6,696.8 614.8,700.8 615.5,699.5 619,697.5 622.5,695.5 625.3,694.2 627.3,697 629.5,704 632,713 634.5,719.5 639,723.3 646.4,725.3" stroke="#7b7b7b" stroke-width="2.4" fill="none" stroke-linejoin="round"/>
<polyline points="386.3,752.8 413.3,752.8 413.3,737 626.5,737 626.5,752.8 645.9,752.8" stroke="#000" stroke-width="2.5" fill="none" stroke-linejoin="miter"/>
<line x1="405.4" y1="773" x2="405.4" y2="875.9" stroke="#000" stroke-width="2.3"/>
<line x1="401.2" y1="874.8" x2="406.5" y2="874.8" stroke="#000" stroke-width="2.2"/>
<text x="385.16" y="883.9" font-size="22.2" fill="#000" stroke="#000" stroke-width="0.35" textLength="11.12" lengthAdjust="spacingAndGlyphs">0</text>
<line x1="401.2" y1="846" x2="406.5" y2="846" stroke="#000" stroke-width="2.2"/>
<text x="384.96" y="855.1" font-size="22.2" fill="#000" stroke="#000" stroke-width="0.35" textLength="11.12" lengthAdjust="spacingAndGlyphs">4</text>
<line x1="401.2" y1="816.7" x2="406.5" y2="816.7" stroke="#000" stroke-width="2.2"/>
<text x="385.25" y="825.8" font-size="22.2" fill="#000" stroke="#000" stroke-width="0.35" textLength="11.12" lengthAdjust="spacingAndGlyphs">8</text>
<line x1="401.2" y1="787.3" x2="406.5" y2="787.3" stroke="#000" stroke-width="2.2"/>
<text x="374.26" y="796.4" font-size="22.2" fill="#000" stroke="#000" stroke-width="0.35" textLength="22.25" lengthAdjust="spacingAndGlyphs">12</text>
<line x1="411.4" y1="878.3" x2="629.9" y2="878.3" stroke="#000" stroke-width="2.3"/>
<line x1="412.5" y1="877.2" x2="412.5" y2="882.5" stroke="#000" stroke-width="2.2"/>
<text x="406.64" y="899.9" font-size="21.65" fill="#000" stroke="#000" stroke-width="0.35" textLength="11.72" lengthAdjust="spacingAndGlyphs">0</text>
<line x1="455.76" y1="877.2" x2="455.76" y2="882.5" stroke="#000" stroke-width="2.2"/>
<text x="440.69" y="899.9" font-size="21.65" fill="#000" stroke="#000" stroke-width="0.35" textLength="29.31" lengthAdjust="spacingAndGlyphs">0.5</text>
<line x1="499.02" y1="877.2" x2="499.02" y2="882.5" stroke="#000" stroke-width="2.2"/>
<text x="491.97" y="899.9" font-size="21.65" fill="#000" stroke="#000" stroke-width="0.35" textLength="11.72" lengthAdjust="spacingAndGlyphs">1</text>
<line x1="542.28" y1="877.2" x2="542.28" y2="882.5" stroke="#000" stroke-width="2.2"/>
<text x="525.92" y="899.9" font-size="21.65" fill="#000" stroke="#000" stroke-width="0.35" textLength="29.31" lengthAdjust="spacingAndGlyphs">1.5</text>
<line x1="585.54" y1="877.2" x2="585.54" y2="882.5" stroke="#000" stroke-width="2.2"/>
<text x="577.88" y="899.9" font-size="21.65" fill="#000" stroke="#000" stroke-width="0.35" textLength="11.72" lengthAdjust="spacingAndGlyphs">2</text>
<line x1="628.8" y1="877.2" x2="628.8" y2="882.5" stroke="#000" stroke-width="2.2"/>
<text x="611.81" y="899.9" font-size="21.65" fill="#000" stroke="#000" stroke-width="0.35" textLength="29.31" lengthAdjust="spacingAndGlyphs">2.5</text>
<text x="461.01" y="923.6" font-size="24.2" fill="#000" stroke="#000" stroke-width="0.35" textLength="79.63" lengthAdjust="spacingAndGlyphs">Time (s)</text>
<text transform="translate(356.1,868.93) rotate(-90)" x="0" y="0" font-size="25.65" fill="#000" stroke="#000" stroke-width="0.35" textLength="69.28" lengthAdjust="spacingAndGlyphs">Sweep</text>
<path d="M419.75,784.77h1.9v4.9h-1.9zM429.75,784.77h1.9v4.9h-1.9zM446.25,784.77h1.9v4.9h-1.9zM470.05,784.77h1.9v4.9h-1.9zM493.05,784.77h1.9v4.9h-1.9zM515.65,784.77h1.9v4.9h-1.9zM536.75,784.77h1.9v4.9h-1.9zM561.25,784.77h1.9v4.9h-1.9zM582.75,784.77h1.9v4.9h-1.9zM607.75,784.77h1.9v4.9h-1.9zM420.25,792.06h1.9v4.9h-1.9zM429.05,792.06h1.9v4.9h-1.9zM445.75,792.06h1.9v4.9h-1.9zM467.15,792.06h1.9v4.9h-1.9zM491.65,792.06h1.9v4.9h-1.9zM511.45,792.06h1.9v4.9h-1.9zM531.95,792.06h1.9v4.9h-1.9zM557.05,792.06h1.9v4.9h-1.9zM579.15,792.06h1.9v4.9h-1.9zM598.35,792.06h1.9v4.9h-1.9zM618.05,792.06h1.9v4.9h-1.9zM419.75,799.35h1.9v4.9h-1.9zM429.05,799.35h1.9v4.9h-1.9zM443.05,799.35h1.9v4.9h-1.9zM467.15,799.35h1.9v4.9h-1.9zM490.05,799.35h1.9v4.9h-1.9zM511.85,799.35h1.9v4.9h-1.9zM534.25,799.35h1.9v4.9h-1.9zM560.85,799.35h1.9v4.9h-1.9zM585.05,799.35h1.9v4.9h-1.9zM607.75,799.35h1.9v4.9h-1.9zM419.75,806.64h1.9v4.9h-1.9zM429.35,806.64h1.9v4.9h-1.9zM445.45,806.64h1.9v4.9h-1.9zM466.05,806.64h1.9v4.9h-1.9zM490.85,806.64h1.9v4.9h-1.9zM512.15,806.64h1.9v4.9h-1.9zM534.25,806.64h1.9v4.9h-1.9zM557.05,806.64h1.9v4.9h-1.9zM580.75,806.64h1.9v4.9h-1.9zM606.05,806.64h1.9v4.9h-1.9zM420.25,813.93h1.9v4.9h-1.9zM429.35,813.93h1.9v4.9h-1.9zM445.75,813.93h1.9v4.9h-1.9zM466.05,813.93h1.9v4.9h-1.9zM490.85,813.93h1.9v4.9h-1.9zM510.95,813.93h1.9v4.9h-1.9zM535.45,813.93h1.9v4.9h-1.9zM559.45,813.93h1.9v4.9h-1.9zM582.55,813.93h1.9v4.9h-1.9zM600.85,813.93h1.9v4.9h-1.9zM620.65,813.93h1.9v4.9h-1.9zM420.25,821.22h1.9v4.9h-1.9zM429.05,821.22h1.9v4.9h-1.9zM445.15,821.22h1.9v4.9h-1.9zM470.35,821.22h1.9v4.9h-1.9zM493.95,821.22h1.9v4.9h-1.9zM515.65,821.22h1.9v4.9h-1.9zM539.85,821.22h1.9v4.9h-1.9zM564.75,821.22h1.9v4.9h-1.9zM588.25,821.22h1.9v4.9h-1.9zM612.75,821.22h1.9v4.9h-1.9zM417.35,828.51h1.9v4.9h-1.9zM424.55,828.51h1.9v4.9h-1.9zM439.85,828.51h1.9v4.9h-1.9zM462.75,828.51h1.9v4.9h-1.9zM483.15,828.51h1.9v4.9h-1.9zM506.25,828.51h1.9v4.9h-1.9zM531.05,828.51h1.9v4.9h-1.9zM556.45,828.51h1.9v4.9h-1.9zM579.15,828.51h1.9v4.9h-1.9zM600.95,828.51h1.9v4.9h-1.9zM421.05,835.8h1.9v4.9h-1.9zM430.65,835.8h1.9v4.9h-1.9zM447.85,835.8h1.9v4.9h-1.9zM472.45,835.8h1.9v4.9h-1.9zM495.65,835.8h1.9v4.9h-1.9zM517.05,835.8h1.9v4.9h-1.9zM541.95,835.8h1.9v4.9h-1.9zM564.05,835.8h1.9v4.9h-1.9zM591.55,835.8h1.9v4.9h-1.9zM617.85,835.8h1.9v4.9h-1.9zM421.05,843.09h1.9v4.9h-1.9zM430.15,843.09h1.9v4.9h-1.9zM448.95,843.09h1.9v4.9h-1.9zM472.75,843.09h1.9v4.9h-1.9zM495.65,843.09h1.9v4.9h-1.9zM517.95,843.09h1.9v4.9h-1.9zM540.25,843.09h1.9v4.9h-1.9zM564.05,843.09h1.9v4.9h-1.9zM589.65,843.09h1.9v4.9h-1.9zM615.85,843.09h1.9v4.9h-1.9zM421.05,850.38h1.9v4.9h-1.9zM430.15,850.38h1.9v4.9h-1.9zM447.85,850.38h1.9v4.9h-1.9zM469.85,850.38h1.9v4.9h-1.9zM495.65,850.38h1.9v4.9h-1.9zM520.55,850.38h1.9v4.9h-1.9zM545.15,850.38h1.9v4.9h-1.9zM570.55,850.38h1.9v4.9h-1.9zM595.05,850.38h1.9v4.9h-1.9zM617.55,850.38h1.9v4.9h-1.9zM421.35,857.67h1.9v4.9h-1.9zM432.55,857.67h1.9v4.9h-1.9zM453.15,857.67h1.9v4.9h-1.9zM476.75,857.67h1.9v4.9h-1.9zM499.25,857.67h1.9v4.9h-1.9zM525.45,857.67h1.9v4.9h-1.9zM554.25,857.67h1.9v4.9h-1.9zM580.15,857.67h1.9v4.9h-1.9zM605.85,857.67h1.9v4.9h-1.9zM421.05,864.96h1.9v4.9h-1.9zM429.75,864.96h1.9v4.9h-1.9zM451.85,864.96h1.9v4.9h-1.9zM475.95,864.96h1.9v4.9h-1.9zM500.25,864.96h1.9v4.9h-1.9zM528.45,864.96h1.9v4.9h-1.9zM555.25,864.96h1.9v4.9h-1.9zM581.05,864.96h1.9v4.9h-1.9zM610.95,864.96h1.9v4.9h-1.9z" fill="#7a7a7a"/>
<text x="1.8" y="958.7" font-size="35.7" font-weight="bold" fill="#000" stroke="#000" stroke-width="0.35" textLength="19.43" lengthAdjust="spacingAndGlyphs">g</text>
<text x="100.16" y="969.2" font-size="24.75" font-weight="bold" fill="#6a9ddf" stroke="#6a9ddf" stroke-width="0.35" textLength="87.2" lengthAdjust="spacingAndGlyphs">LED ON</text>
<path d="M219,952.43 L283,941.6 L283,978.8 L219,967.28 Z" fill="url(#bm13)"/>
<line x1="219" y1="954.31" x2="283" y2="946.12" stroke="url(#br14)" stroke-width="1.3"/>
<line x1="219" y1="957.08" x2="283" y2="953.16" stroke="url(#br14)" stroke-width="1.3"/>
<line x1="219" y1="959.86" x2="283" y2="960.2" stroke="url(#br14)" stroke-width="1.3"/>
<line x1="219" y1="962.63" x2="283" y2="967.24" stroke="url(#br14)" stroke-width="1.3"/>
<line x1="219" y1="965.4" x2="283" y2="974.28" stroke="url(#br14)" stroke-width="1.3"/>
<path d="M199.9,943 L206.78,943 L219,951.43 L219,968.28 L206.78,977.4 L199.9,977.4 Z" stroke="#000" stroke-width="2.9" fill="#b3b3b3" stroke-linejoin="round"/>
<line x1="206.78" y1="943" x2="206.78" y2="977.4" stroke="#000" stroke-width="2.9"/>
<path d="M104.4,1006.9 C108.05,1006.9 119.73,1006.17 126.3,1006.9 C132.87,1007.63 138.55,1009.7 143.8,1011.3 C149.05,1012.9 153.42,1014.6 157.8,1016.5 C162.18,1018.4 166.88,1020.37 170.1,1022.7 C173.32,1025.03 174.77,1028.47 177.1,1030.5 C179.43,1032.53 178.62,1034.17 184.1,1034.9 C189.58,1035.63 201.3,1034.75 210,1034.9 C218.7,1035.05 227.53,1035.07 236.3,1035.8 C245.07,1036.53 253.85,1037.98 262.6,1039.3 C271.35,1040.62 281.22,1042.1 288.8,1043.7 C296.38,1045.3 302.83,1047.15 308.1,1048.9 C313.37,1050.65 318.35,1053.32 320.4,1054.2 L320.4,1088.4 C318.35,1087.95 313.37,1087.02 308.1,1085.7 C302.83,1084.38 296.38,1082.1 288.8,1080.5 C281.22,1078.9 271.35,1077.13 262.6,1076.1 C253.85,1075.07 245.07,1074.73 236.3,1074.3 C227.53,1073.87 218.12,1073.93 210,1073.5 C201.88,1073.07 194.25,1072.73 187.6,1071.7 C180.95,1070.67 175.07,1068.9 170.1,1067.3 C165.13,1065.7 161.9,1065.02 157.8,1062.1 C153.7,1059.18 149.3,1054.18 145.5,1049.8 C141.7,1045.42 138.2,1040.47 135,1035.8 C131.8,1031.13 129.22,1025.88 126.3,1021.8 C123.38,1017.72 121.15,1013.48 117.5,1011.3 C113.85,1009.12 106.58,1009.13 104.4,1008.7 Z" fill="#e1e1e1" fill-opacity="1.0"/>
<path d="M236,1109 C240.43,1108.37 253.8,1107.18 262.6,1105.2 C271.4,1103.22 281.22,1099.83 288.8,1097.1 C296.38,1094.37 302.83,1090.48 308.1,1088.8 C313.37,1087.12 318.35,1087.3 320.4,1087 L320.4,1111.2 C318.35,1111.2 313.37,1111.2 308.1,1111.2 C302.83,1111.2 296.38,1111.2 288.8,1111.2 C281.22,1111.2 271.4,1111.23 262.6,1111.2 C253.8,1111.17 240.43,1111.03 236,1111 Z" fill="#e1e1e1" fill-opacity="1.0"/>
<line x1="170.5" y1="988.6" x2="170.5" y2="1111.5" stroke="#84a4d2" stroke-width="1.8" stroke-opacity="1"/>
<line x1="174.97" y1="988.6" x2="174.97" y2="1111.5" stroke="#84a4d2" stroke-width="1.8" stroke-opacity="1"/>
<line x1="179.45" y1="988.6" x2="179.45" y2="1111.5" stroke="#84a4d2" stroke-width="1.8" stroke-opacity="1"/>
<line x1="183.92" y1="988.6" x2="183.92" y2="1111.5" stroke="#84a4d2" stroke-width="1.8" stroke-opacity="1"/>
<line x1="188.39" y1="988.6" x2="188.39" y2="1111.5" stroke="#84a4d2" stroke-width="1.8" stroke-opacity="1"/>
<line x1="192.87" y1="988.6" x2="192.87" y2="1111.5" stroke="#84a4d2" stroke-width="1.8" stroke-opacity="1"/>
<line x1="197.34" y1="988.6" x2="197.34" y2="1111.5" stroke="#84a4d2" stroke-width="1.8" stroke-opacity="1"/>
<line x1="201.82" y1="988.6" x2="201.82" y2="1111.5" stroke="#84a4d2" stroke-width="1.8" stroke-opacity="1"/>
<line x1="206.29" y1="988.6" x2="206.29" y2="1111.5" stroke="#84a4d2" stroke-width="1.8" stroke-opacity="1"/>
<line x1="210.76" y1="988.6" x2="210.76" y2="1111.5" stroke="#84a4d2" stroke-width="1.8" stroke-opacity="1"/>
<line x1="215.24" y1="988.6" x2="215.24" y2="1111.5" stroke="#84a4d2" stroke-width="1.8" stroke-opacity="1"/>
<line x1="219.71" y1="988.6" x2="219.71" y2="1111.5" stroke="#84a4d2" stroke-width="1.8" stroke-opacity="1"/>
<line x1="224.18" y1="988.6" x2="224.18" y2="1111.5" stroke="#84a4d2" stroke-width="1.8" stroke-opacity="1"/>
<line x1="228.66" y1="988.6" x2="228.66" y2="1111.5" stroke="#84a4d2" stroke-width="1.8" stroke-opacity="1"/>
<line x1="233.13" y1="988.6" x2="233.13" y2="1111.5" stroke="#84a4d2" stroke-width="1.8" stroke-opacity="1"/>
<line x1="237.61" y1="988.6" x2="237.61" y2="1111.5" stroke="#84a4d2" stroke-width="1.8" stroke-opacity="1"/>
<line x1="242.08" y1="988.6" x2="242.08" y2="1111.5" stroke="#84a4d2" stroke-width="1.8" stroke-opacity="1"/>
<line x1="246.55" y1="988.6" x2="246.55" y2="1111.5" stroke="#84a4d2" stroke-width="1.8" stroke-opacity="1"/>
<line x1="251.03" y1="988.6" x2="251.03" y2="1111.5" stroke="#84a4d2" stroke-width="1.8" stroke-opacity="1"/>
<line x1="255.5" y1="988.6" x2="255.5" y2="1111.5" stroke="#84a4d2" stroke-width="1.8" stroke-opacity="1"/>
<path d="M104.4,1007.4 C106.58,1007.75 113.85,1007.83 117.5,1009.5 C121.15,1011.17 123.38,1014.48 126.3,1017.4 C129.22,1020.32 131.8,1023.63 135,1027 C138.2,1030.37 141.7,1034.67 145.5,1037.6 C149.3,1040.53 153.7,1042.57 157.8,1044.6 C161.9,1046.63 166.3,1048.35 170.1,1049.8 C173.9,1051.25 177.1,1052.42 180.6,1053.3 C184.1,1054.18 187.02,1054.95 191.1,1055.1 C195.18,1055.25 199.03,1054.65 205.1,1054.2 C211.17,1053.75 220.85,1052.48 227.5,1052.4 C234.15,1052.32 239.15,1052.97 245,1053.7 C250.85,1054.43 256.75,1055.55 262.6,1056.8 C268.45,1058.05 274.27,1059.58 280.1,1061.2 C285.93,1062.82 290.88,1064.9 297.6,1066.5 C304.32,1068.1 316.6,1070.08 320.4,1070.8" stroke="#4f4f4f" stroke-width="2.3" fill="none" stroke-linecap="round"/>
<path d="M104.4,1010.9 C106.58,1010.67 113.85,1009.87 117.5,1009.5 C121.15,1009.13 122.8,1008.25 126.3,1008.7 C129.8,1009.15 134.12,1010.45 138.5,1012.2 C142.88,1013.95 148.22,1016.87 152.6,1019.2 C156.98,1021.53 161.02,1023.58 164.8,1026.2 C168.58,1028.82 172.08,1031.83 175.3,1034.9 C178.52,1037.97 181.47,1041.23 184.1,1044.6 C186.73,1047.97 188.77,1051.32 191.1,1055.1 C193.43,1058.88 195.77,1063.22 198.1,1067.3 C200.43,1071.38 203.03,1076.23 205.1,1079.6 C207.17,1082.97 207.93,1084.77 210.5,1087.5 C213.07,1090.23 217.08,1093.52 220.5,1096 C223.92,1098.48 226.92,1100.75 231,1102.4 C235.08,1104.05 239.73,1105.32 245,1105.9 C250.27,1106.48 256.75,1106.2 262.6,1105.9 C268.45,1105.6 274.27,1104.75 280.1,1104.1 C285.93,1103.45 290.88,1102.72 297.6,1102 C304.32,1101.28 316.6,1100.17 320.4,1099.8" stroke="#c0162d" stroke-width="2.3" fill="none" stroke-linecap="round"/>
<line x1="98.1" y1="988.6" x2="98.1" y2="1108.8" stroke="#000" stroke-width="2.3"/>
<line x1="93.9" y1="1107.7" x2="99.2" y2="1107.7" stroke="#000" stroke-width="2.2"/>
<text x="58.9" y="1117.9" font-size="23.87" fill="#000" stroke="#000" stroke-width="0.35" textLength="32.31" lengthAdjust="spacingAndGlyphs">0.0</text>
<line x1="93.9" y1="1068" x2="99.2" y2="1068" stroke="#000" stroke-width="2.2"/>
<text x="58.67" y="1078.2" font-size="23.87" fill="#000" stroke="#000" stroke-width="0.35" textLength="32.31" lengthAdjust="spacingAndGlyphs">0.4</text>
<line x1="93.9" y1="1028.2" x2="99.2" y2="1028.2" stroke="#000" stroke-width="2.2"/>
<text x="59" y="1038.4" font-size="23.87" fill="#000" stroke="#000" stroke-width="0.35" textLength="32.31" lengthAdjust="spacingAndGlyphs">0.8</text>
<line x1="93.9" y1="988.6" x2="99.2" y2="988.6" stroke="#000" stroke-width="2.2"/>
<text x="59.16" y="998.8" font-size="23.87" fill="#000" stroke="#000" stroke-width="0.35" textLength="32.31" lengthAdjust="spacingAndGlyphs">1.2</text>
<line x1="103.8" y1="1113.6" x2="320.6" y2="1113.6" stroke="#000" stroke-width="2.3"/>
<line x1="104.9" y1="1112.5" x2="104.9" y2="1117.8" stroke="#000" stroke-width="2.2"/>
<text x="98.85" y="1138.8" font-size="23.31" fill="#000" stroke="#000" stroke-width="0.35" textLength="12.1" lengthAdjust="spacingAndGlyphs">0</text>
<line x1="147.82" y1="1112.5" x2="147.82" y2="1117.8" stroke="#000" stroke-width="2.2"/>
<text x="132.28" y="1138.8" font-size="23.31" fill="#000" stroke="#000" stroke-width="0.35" textLength="30.24" lengthAdjust="spacingAndGlyphs">0.5</text>
<line x1="190.74" y1="1112.5" x2="190.74" y2="1117.8" stroke="#000" stroke-width="2.2"/>
<text x="183.49" y="1138.8" font-size="23.31" fill="#000" stroke="#000" stroke-width="0.35" textLength="12.1" lengthAdjust="spacingAndGlyphs">1</text>
<line x1="233.66" y1="1112.5" x2="233.66" y2="1117.8" stroke="#000" stroke-width="2.2"/>
<text x="216.82" y="1138.8" font-size="23.31" fill="#000" stroke="#000" stroke-width="0.35" textLength="30.24" lengthAdjust="spacingAndGlyphs">1.5</text>
<line x1="276.58" y1="1112.5" x2="276.58" y2="1117.8" stroke="#000" stroke-width="2.2"/>
<text x="268.73" y="1138.8" font-size="23.31" fill="#000" stroke="#000" stroke-width="0.35" textLength="12.1" lengthAdjust="spacingAndGlyphs">2</text>
<line x1="319.5" y1="1112.5" x2="319.5" y2="1117.8" stroke="#000" stroke-width="2.2"/>
<text x="302.04" y="1138.8" font-size="23.31" fill="#000" stroke="#000" stroke-width="0.35" textLength="30.24" lengthAdjust="spacingAndGlyphs">2.5</text>
<text x="176.62" y="1161.7" font-size="24.42" fill="#000" stroke="#000" stroke-width="0.35" textLength="78.51" lengthAdjust="spacingAndGlyphs">Time (s)</text>
<text transform="translate(24,1123.29) rotate(-90)" x="0" y="0" font-size="26.22" fill="#000" stroke="#000" stroke-width="0.35" textLength="103.51" lengthAdjust="spacingAndGlyphs">Firing rate</text>
<text transform="translate(47.6,1104.38) rotate(-90)" x="0" y="0" font-size="26.22" fill="#000" stroke="#000" stroke-width="0.35" textLength="65.67" lengthAdjust="spacingAndGlyphs">(norm)</text>
<text x="232.52" y="1002.5" font-size="23.87" font-weight="bold" fill="#c0162d" stroke="#c0162d" stroke-width="0.35" textLength="94.53" lengthAdjust="spacingAndGlyphs">Pre-WAY</text>
<text x="218.42" y="1030" font-size="23.87" font-weight="bold" fill="#4f4f4f" stroke="#4f4f4f" stroke-width="0.35" textLength="107.24" lengthAdjust="spacingAndGlyphs">Post-WAY</text>
<text x="341.77" y="958.6" font-size="32.67" font-weight="bold" fill="#000" stroke="#000" stroke-width="0.35" textLength="19.51" lengthAdjust="spacingAndGlyphs">h</text>
<text x="440.46" y="969.2" font-size="24.75" font-weight="bold" fill="#6a9ddf" stroke="#6a9ddf" stroke-width="0.35" textLength="87.2" lengthAdjust="spacingAndGlyphs">LED ON</text>
<path d="M558.5,952.28 L623,941.5 L623,979 L558.5,967.23 Z" fill="url(#bm15)"/>
<line x1="558.5" y1="954.17" x2="623" y2="946.05" stroke="url(#br16)" stroke-width="1.3"/>
<line x1="558.5" y1="956.96" x2="623" y2="953.15" stroke="url(#br16)" stroke-width="1.3"/>
<line x1="558.5" y1="959.75" x2="623" y2="960.25" stroke="url(#br16)" stroke-width="1.3"/>
<line x1="558.5" y1="962.54" x2="623" y2="967.35" stroke="url(#br16)" stroke-width="1.3"/>
<line x1="558.5" y1="965.34" x2="623" y2="974.45" stroke="url(#br16)" stroke-width="1.3"/>
<path d="M540,942.8 L546.66,942.8 L558.5,951.28 L558.5,968.23 L546.66,977.4 L540,977.4 Z" stroke="#000" stroke-width="2.9" fill="#b3b3b3" stroke-linejoin="round"/>
<line x1="546.66" y1="942.8" x2="546.66" y2="977.4" stroke="#000" stroke-width="2.9"/>
<line x1="511" y1="986.9" x2="511" y2="1110.5" stroke="#84a4d2" stroke-width="1.8" stroke-opacity="1"/>
<line x1="515.52" y1="986.9" x2="515.52" y2="1110.5" stroke="#84a4d2" stroke-width="1.8" stroke-opacity="1"/>
<line x1="520.03" y1="986.9" x2="520.03" y2="1110.5" stroke="#84a4d2" stroke-width="1.8" stroke-opacity="1"/>
<line x1="524.55" y1="986.9" x2="524.55" y2="1110.5" stroke="#84a4d2" stroke-width="1.8" stroke-opacity="1"/>
<line x1="529.06" y1="986.9" x2="529.06" y2="1110.5" stroke="#84a4d2" stroke-width="1.8" stroke-opacity="1"/>
<line x1="533.58" y1="986.9" x2="533.58" y2="1110.5" stroke="#84a4d2" stroke-width="1.8" stroke-opacity="1"/>
<line x1="538.09" y1="986.9" x2="538.09" y2="1110.5" stroke="#84a4d2" stroke-width="1.8" stroke-opacity="1"/>
<line x1="542.61" y1="986.9" x2="542.61" y2="1110.5" stroke="#84a4d2" stroke-width="1.8" stroke-opacity="1"/>
<line x1="547.13" y1="986.9" x2="547.13" y2="1110.5" stroke="#84a4d2" stroke-width="1.8" stroke-opacity="1"/>
<line x1="551.64" y1="986.9" x2="551.64" y2="1110.5" stroke="#84a4d2" stroke-width="1.8" stroke-opacity="1"/>
<line x1="556.16" y1="986.9" x2="556.16" y2="1110.5" stroke="#84a4d2" stroke-width="1.8" stroke-opacity="1"/>
<line x1="560.67" y1="986.9" x2="560.67" y2="1110.5" stroke="#84a4d2" stroke-width="1.8" stroke-opacity="1"/>
<line x1="565.19" y1="986.9" x2="565.19" y2="1110.5" stroke="#84a4d2" stroke-width="1.8" stroke-opacity="1"/>
<line x1="569.71" y1="986.9" x2="569.71" y2="1110.5" stroke="#84a4d2" stroke-width="1.8" stroke-opacity="1"/>
<line x1="574.22" y1="986.9" x2="574.22" y2="1110.5" stroke="#84a4d2" stroke-width="1.8" stroke-opacity="1"/>
<line x1="578.74" y1="986.9" x2="578.74" y2="1110.5" stroke="#84a4d2" stroke-width="1.8" stroke-opacity="1"/>
<line x1="583.25" y1="986.9" x2="583.25" y2="1110.5" stroke="#84a4d2" stroke-width="1.8" stroke-opacity="1"/>
<line x1="587.77" y1="986.9" x2="587.77" y2="1110.5" stroke="#84a4d2" stroke-width="1.8" stroke-opacity="1"/>
<line x1="592.28" y1="986.9" x2="592.28" y2="1110.5" stroke="#84a4d2" stroke-width="1.8" stroke-opacity="1"/>
<line x1="596.8" y1="986.9" x2="596.8" y2="1110.5" stroke="#84a4d2" stroke-width="1.8" stroke-opacity="1"/>
<polyline points="447.6,1110.3 452,1105.9 457.3,1104.1 461.6,1091 467.8,1084 474.8,1077 482.7,1075.2 491.4,1069.1 499.3,1065.6 506.3,1060.3 513.3,1055.1 520.3,1053.3 529.1,1051.2 535.2,1046.7 543.1,1043.7 554.5,1039.3 563.8,1032.3 572.5,1029.7 581.3,1024.4 590,1020.9 598.8,1017.4 607.6,1013 615.4,1010.4 621.6,1006.9 626.8,1003.4 635.6,999.9 644.3,997.3 651.4,993.8 658.4,990.3 662.7,988.5" stroke="#4f4f4f" stroke-width="2.3" fill="none" stroke-linejoin="round"/>
<polyline points="447.6,1110.3 452,1091.9 457.3,1074.3 461.6,1060.3 465.1,1051.6 469.5,1050.2 473.9,1041.1 480,1039.7 491.4,1037.6 495.8,1032.3 502.8,1024.4 508.1,1019.2 512.4,1011.3 518.6,1006 524.7,1000.8 530.8,995.2 555,994.8 628.6,994.8 639.1,993.8 646.1,992.4 651.4,990.3 656.6,988.5 662.7,988.2" stroke="#c0162d" stroke-width="2.3" fill="none" stroke-linejoin="round"/>
<line x1="447.2" y1="988.3" x2="447.2" y2="1113.1" stroke="#000" stroke-width="2.3"/>
<line x1="443" y1="1112" x2="448.3" y2="1112" stroke="#000" stroke-width="2.2"/>
<text x="406.2" y="1122" font-size="23.87" fill="#000" stroke="#000" stroke-width="0.35" textLength="32.31" lengthAdjust="spacingAndGlyphs">0.0</text>
<line x1="443" y1="1050.5" x2="448.3" y2="1050.5" stroke="#000" stroke-width="2.2"/>
<text x="406.26" y="1060.5" font-size="23.87" fill="#000" stroke="#000" stroke-width="0.35" textLength="32.31" lengthAdjust="spacingAndGlyphs">0.5</text>
<line x1="443" y1="988.7" x2="448.3" y2="988.7" stroke="#000" stroke-width="2.2"/>
<text x="406.2" y="998.7" font-size="23.87" fill="#000" stroke="#000" stroke-width="0.35" textLength="32.31" lengthAdjust="spacingAndGlyphs">1.0</text>
<line x1="446.1" y1="1112" x2="662.4" y2="1112" stroke="#000" stroke-width="2.3"/>
<line x1="447.5" y1="1110.9" x2="447.5" y2="1116.2" stroke="#000" stroke-width="2.2"/>
<text x="441.45" y="1138" font-size="23.31" fill="#000" stroke="#000" stroke-width="0.35" textLength="12.1" lengthAdjust="spacingAndGlyphs">0</text>
<line x1="490.26" y1="1110.9" x2="490.26" y2="1116.2" stroke="#000" stroke-width="2.2"/>
<text x="474.72" y="1138" font-size="23.31" fill="#000" stroke="#000" stroke-width="0.35" textLength="30.24" lengthAdjust="spacingAndGlyphs">0.5</text>
<line x1="533.02" y1="1110.9" x2="533.02" y2="1116.2" stroke="#000" stroke-width="2.2"/>
<text x="525.77" y="1138" font-size="23.31" fill="#000" stroke="#000" stroke-width="0.35" textLength="12.1" lengthAdjust="spacingAndGlyphs">1</text>
<line x1="575.78" y1="1110.9" x2="575.78" y2="1116.2" stroke="#000" stroke-width="2.2"/>
<text x="558.94" y="1138" font-size="23.31" fill="#000" stroke="#000" stroke-width="0.35" textLength="30.24" lengthAdjust="spacingAndGlyphs">1.5</text>
<line x1="618.54" y1="1110.9" x2="618.54" y2="1116.2" stroke="#000" stroke-width="2.2"/>
<text x="610.69" y="1138" font-size="23.31" fill="#000" stroke="#000" stroke-width="0.35" textLength="12.1" lengthAdjust="spacingAndGlyphs">2</text>
<line x1="661.3" y1="1110.9" x2="661.3" y2="1116.2" stroke="#000" stroke-width="2.2"/>
<text x="643.84" y="1138" font-size="23.31" fill="#000" stroke="#000" stroke-width="0.35" textLength="30.24" lengthAdjust="spacingAndGlyphs">2.5</text>
<text x="519.63" y="1161.7" font-size="24.42" fill="#000" stroke="#000" stroke-width="0.35" textLength="77.38" lengthAdjust="spacingAndGlyphs">Time (s)</text>
<text transform="translate(374,1113.58) rotate(-90)" x="0" y="0" font-size="26.22" fill="#000" stroke="#000" stroke-width="0.35" textLength="115.8" lengthAdjust="spacingAndGlyphs">Cumulative</text>
<text transform="translate(396.1,1124.65) rotate(-90)" x="0" y="0" font-size="26.22" fill="#000" stroke="#000" stroke-width="0.35" textLength="137.97" lengthAdjust="spacingAndGlyphs">spike fraction</text>
<text x="547.18" y="1036" font-size="41.28" font-weight="bold" fill="#000" stroke="#000" stroke-width="0.35" textLength="16.47" lengthAdjust="spacingAndGlyphs">*</text>
<text x="570.83" y="1073.4" font-size="23.87" font-weight="bold" fill="#c0162d" stroke="#c0162d" stroke-width="0.35" textLength="93.92" lengthAdjust="spacingAndGlyphs">Pre-WAY</text>
<text x="557.21" y="1101.6" font-size="23.87" font-weight="bold" fill="#4f4f4f" stroke="#4f4f4f" stroke-width="0.35" textLength="107.55" lengthAdjust="spacingAndGlyphs">Post-WAY</text>
<text x="1.56" y="1192.8" font-size="30.69" font-weight="bold" fill="#000" stroke="#000" stroke-width="0.35" textLength="8.91" lengthAdjust="spacingAndGlyphs">i</text>
<text x="96.47" y="1196.8" font-size="24.75" font-weight="bold" fill="#838383" stroke="#838383" stroke-width="0.35" textLength="98.07" lengthAdjust="spacingAndGlyphs">LED OFF</text>
<path d="M199.4,1171.3 L206.02,1171.3 L217.8,1179.73 L217.8,1196.58 L206.02,1205.7 L199.4,1205.7 Z" stroke="#000" stroke-width="2.9" fill="#b3b3b3" stroke-linejoin="round"/>
<line x1="206.02" y1="1171.3" x2="206.02" y2="1205.7" stroke="#000" stroke-width="2.9"/>
<path d="M102.4,1236.3 C104.58,1236.58 110.4,1238.3 115.5,1238 C120.6,1237.7 127.75,1234.78 133,1234.5 C138.25,1234.22 141.73,1234.83 147,1236.3 C152.27,1237.77 159.63,1240.82 164.6,1243.3 C169.57,1245.78 172.72,1249.02 176.8,1251.2 C180.88,1253.38 183.9,1255.38 189.1,1256.4 C194.3,1257.42 200.47,1257.3 208,1257.3 C215.53,1257.3 225.53,1255.97 234.3,1256.4 C243.07,1256.83 251.85,1258.87 260.6,1259.9 C269.35,1260.93 279.5,1261.28 286.8,1262.6 C294.1,1263.92 299.13,1265.77 304.4,1267.8 C309.67,1269.83 316.07,1273.63 318.4,1274.8 L318.4,1315.1 C316.07,1314.67 309.67,1313.52 304.4,1312.5 C299.13,1311.48 294.1,1310.17 286.8,1309 C279.5,1307.83 269.35,1306.23 260.6,1305.5 C251.85,1304.77 241.4,1304.97 234.3,1304.6 C227.2,1304.23 224.37,1304.18 218,1303.3 C211.63,1302.42 202.08,1301.13 196.1,1299.3 C190.12,1297.47 187.35,1294.33 182.1,1292.3 C176.85,1290.27 170.45,1289.13 164.6,1287.1 C158.75,1285.07 152.27,1283.32 147,1280.1 C141.73,1276.88 137.67,1272.18 133,1267.8 C128.33,1263.42 124.1,1257.15 119,1253.8 C113.9,1250.45 105.17,1248.72 102.4,1247.7 Z" fill="#e6e6e6" fill-opacity="1"/>
<path d="M119,1250 C119.88,1248.3 119.03,1240.63 124.3,1239.8 C129.57,1238.97 143.3,1242.67 150.6,1245 C157.9,1247.33 162.27,1250.87 168.1,1253.8 C173.93,1256.73 178.95,1260.85 185.6,1262.6 C192.25,1264.35 199.88,1264.3 208,1264.3 C216.12,1264.3 225.53,1262.3 234.3,1262.6 C243.07,1262.9 251.85,1264.93 260.6,1266.1 C269.35,1267.27 277.17,1268.15 286.8,1269.6 C296.43,1271.05 313.13,1273.93 318.4,1274.8 L318.4,1304.6 C313.13,1304.02 296.43,1302.27 286.8,1301.1 C277.17,1299.93 269.35,1298.48 260.6,1297.6 C251.85,1296.72 243.07,1296.97 234.3,1295.8 C225.53,1294.63 216.12,1291.9 208,1290.6 C199.88,1289.3 192.25,1289.17 185.6,1288 C178.95,1286.83 175.4,1285.8 168.1,1283.6 C160.8,1281.4 149.98,1280.35 141.8,1274.8 C133.62,1269.25 122.8,1254.38 119,1250.3 Z" fill="#d9d9d9" fill-opacity="1"/>
<path d="M102.4,1234.5 C104,1235.08 108.35,1235.95 112,1238 C115.65,1240.05 119.33,1243.58 124.3,1246.8 C129.27,1250.02 135.97,1254.08 141.8,1257.3 C147.63,1260.52 153.47,1263.18 159.3,1266.1 C165.13,1269.02 170.95,1272.18 176.8,1274.8 C182.65,1277.42 189.43,1280.33 194.4,1281.8 C199.37,1283.27 202,1284.03 206.6,1283.6 C211.2,1283.17 217.1,1280.52 222,1279.2 C226.9,1277.88 231.33,1275.85 236,1275.7 C240.67,1275.55 245.32,1276.98 250,1278.3 C254.68,1279.62 259.42,1282.13 264.1,1283.6 C268.78,1285.07 272.85,1286.28 278.1,1287.1 C283.35,1287.92 288.88,1288.07 295.6,1288.5 C302.32,1288.93 314.6,1289.5 318.4,1289.7" stroke="#4f4f4f" stroke-width="2.3" fill="none" stroke-linecap="round"/>
<path d="M102.4,1240.7 C104,1240.98 108.35,1241.1 112,1242.4 C115.65,1243.7 119.33,1245.87 124.3,1248.5 C129.27,1251.13 135.97,1255.13 141.8,1258.2 C147.63,1261.27 153.47,1264.27 159.3,1266.9 C165.13,1269.53 170.95,1271.87 176.8,1274 C182.65,1276.13 189.2,1278.63 194.4,1279.7 C199.6,1280.77 203.4,1280.4 208,1280.4 C212.6,1280.4 217.33,1279.47 222,1279.7 C226.67,1279.93 231.03,1281 236,1281.8 C240.97,1282.6 246.25,1284.05 251.8,1284.5 C257.35,1284.95 264.05,1284.5 269.3,1284.5 C274.55,1284.5 278.92,1284.07 283.3,1284.5 C287.68,1284.93 291.8,1285.93 295.6,1287.1 C299.4,1288.27 302.3,1290.05 306.1,1291.5 C309.9,1292.95 316.35,1295.08 318.4,1295.8" stroke="#c0162d" stroke-width="2.3" fill="none" stroke-linecap="round"/>
<line x1="93" y1="1216.7" x2="93" y2="1337.4" stroke="#000" stroke-width="2.3"/>
<line x1="88.8" y1="1336.3" x2="94.1" y2="1336.3" stroke="#000" stroke-width="2.2"/>
<text x="56.9" y="1346.5" font-size="23.87" fill="#000" stroke="#000" stroke-width="0.35" textLength="32.31" lengthAdjust="spacingAndGlyphs">0.0</text>
<line x1="88.8" y1="1296.4" x2="94.1" y2="1296.4" stroke="#000" stroke-width="2.2"/>
<text x="56.67" y="1306.6" font-size="23.87" fill="#000" stroke="#000" stroke-width="0.35" textLength="32.31" lengthAdjust="spacingAndGlyphs">0.4</text>
<line x1="88.8" y1="1256.6" x2="94.1" y2="1256.6" stroke="#000" stroke-width="2.2"/>
<text x="57" y="1266.8" font-size="23.87" fill="#000" stroke="#000" stroke-width="0.35" textLength="32.31" lengthAdjust="spacingAndGlyphs">0.8</text>
<line x1="88.8" y1="1217.1" x2="94.1" y2="1217.1" stroke="#000" stroke-width="2.2"/>
<text x="57.16" y="1227.3" font-size="23.87" fill="#000" stroke="#000" stroke-width="0.35" textLength="32.31" lengthAdjust="spacingAndGlyphs">1.2</text>
<line x1="100.4" y1="1340.8" x2="317.4" y2="1340.8" stroke="#000" stroke-width="2.3"/>
<line x1="102" y1="1339.7" x2="102" y2="1345" stroke="#000" stroke-width="2.2"/>
<text x="95.95" y="1365.4" font-size="23.31" fill="#000" stroke="#000" stroke-width="0.35" textLength="12.1" lengthAdjust="spacingAndGlyphs">0</text>
<line x1="144.86" y1="1339.7" x2="144.86" y2="1345" stroke="#000" stroke-width="2.2"/>
<text x="129.32" y="1365.4" font-size="23.31" fill="#000" stroke="#000" stroke-width="0.35" textLength="30.24" lengthAdjust="spacingAndGlyphs">0.5</text>
<line x1="187.72" y1="1339.7" x2="187.72" y2="1345" stroke="#000" stroke-width="2.2"/>
<text x="180.47" y="1365.4" font-size="23.31" fill="#000" stroke="#000" stroke-width="0.35" textLength="12.1" lengthAdjust="spacingAndGlyphs">1</text>
<line x1="230.58" y1="1339.7" x2="230.58" y2="1345" stroke="#000" stroke-width="2.2"/>
<text x="213.74" y="1365.4" font-size="23.31" fill="#000" stroke="#000" stroke-width="0.35" textLength="30.24" lengthAdjust="spacingAndGlyphs">1.5</text>
<line x1="273.44" y1="1339.7" x2="273.44" y2="1345" stroke="#000" stroke-width="2.2"/>
<text x="265.59" y="1365.4" font-size="23.31" fill="#000" stroke="#000" stroke-width="0.35" textLength="12.1" lengthAdjust="spacingAndGlyphs">2</text>
<line x1="316.3" y1="1339.7" x2="316.3" y2="1345" stroke="#000" stroke-width="2.2"/>
<text x="298.84" y="1365.4" font-size="23.31" fill="#000" stroke="#000" stroke-width="0.35" textLength="30.24" lengthAdjust="spacingAndGlyphs">2.5</text>
<text x="174.41" y="1386" font-size="24.42" fill="#000" stroke="#000" stroke-width="0.35" textLength="80.15" lengthAdjust="spacingAndGlyphs">Time (s)</text>
<text transform="translate(24.4,1327.89) rotate(-90)" x="0" y="0" font-size="26.22" fill="#000" stroke="#000" stroke-width="0.35" textLength="103.92" lengthAdjust="spacingAndGlyphs">Firing rate</text>
<text transform="translate(47.8,1309.31) rotate(-90)" x="0" y="0" font-size="26.22" fill="#000" stroke="#000" stroke-width="0.35" textLength="66.71" lengthAdjust="spacingAndGlyphs">(norm)</text>
<text x="228.62" y="1224.8" font-size="23.87" font-weight="bold" fill="#c0162d" stroke="#c0162d" stroke-width="0.35" textLength="94.53" lengthAdjust="spacingAndGlyphs">Pre-WAY</text>
<text x="214.61" y="1252.9" font-size="23.87" font-weight="bold" fill="#4f4f4f" stroke="#4f4f4f" stroke-width="0.35" textLength="107.55" lengthAdjust="spacingAndGlyphs">Post-WAY</text>
<text x="339.23" y="1192.8" font-size="30.69" font-weight="bold" fill="#000" stroke="#000" stroke-width="0.35" textLength="11.21" lengthAdjust="spacingAndGlyphs">j</text>
<text x="449.66" y="1196.8" font-size="24.75" font-weight="bold" fill="#838383" stroke="#838383" stroke-width="0.35" textLength="98.18" lengthAdjust="spacingAndGlyphs">LED OFF</text>
<path d="M553.1,1171.3 L559.58,1171.3 L571.1,1179.73 L571.1,1196.58 L559.58,1205.7 L553.1,1205.7 Z" stroke="#000" stroke-width="2.9" fill="#b3b3b3" stroke-linejoin="round"/>
<line x1="559.58" y1="1171.3" x2="559.58" y2="1205.7" stroke="#000" stroke-width="2.9"/>
<path d="M447.6,1338.5 C448.77,1337.48 452.7,1334.88 454.6,1332.4 C456.5,1329.92 457.38,1326.52 459,1323.6 C460.62,1320.68 462.25,1317.67 464.3,1314.9 C466.35,1312.13 468.68,1308.9 471.3,1307 C473.92,1305.1 477.08,1305.12 480,1303.5 C482.92,1301.88 485.87,1298.77 488.8,1297.3 C491.73,1295.83 494.68,1295.87 497.6,1294.7 C500.52,1293.53 503.68,1292.2 506.3,1290.3 C508.92,1288.4 510.67,1285.2 513.3,1283.3 C515.93,1281.4 518.88,1280.5 522.1,1278.9 C525.32,1277.3 529.38,1274.87 532.6,1273.7 C535.82,1272.53 538.48,1272.78 541.4,1271.9 C544.32,1271.02 547.18,1269.7 550.1,1268.4 C553.02,1267.1 556.62,1265.07 558.9,1264.1 C561.18,1263.13 561.53,1263.43 563.8,1262.6 C566.07,1261.77 569.58,1260.72 572.5,1259.1 C575.42,1257.48 578.38,1254.67 581.3,1252.9 C584.22,1251.13 586.8,1249.95 590,1248.5 C593.2,1247.05 596.98,1245.5 600.5,1244.2 C604.02,1242.9 607.58,1242.17 611.1,1240.7 C614.62,1239.23 618.1,1236.87 621.6,1235.4 C625.1,1233.93 628.6,1233.07 632.1,1231.9 C635.6,1230.73 639.68,1229.57 642.6,1228.4 C645.52,1227.23 647.27,1226.22 649.6,1224.9 C651.93,1223.58 654.55,1221.82 656.6,1220.5 C658.65,1219.18 661.02,1217.58 661.9,1217" stroke="#4f4f4f" stroke-width="2.3" fill="none"/>
<path d="M447.6,1338.5 C448.63,1336.6 451.9,1331.03 453.8,1327.1 C455.7,1323.17 457.25,1318.4 459,1314.9 C460.75,1311.4 462.25,1307.87 464.3,1306.1 C466.35,1304.33 468.97,1305.47 471.3,1304.3 C473.63,1303.13 475.38,1300.4 478.3,1299.1 C481.22,1297.8 485.88,1297.08 488.8,1296.5 C491.72,1295.92 494.05,1296.77 495.8,1295.6 C497.55,1294.43 497.83,1291.4 499.3,1289.5 C500.77,1287.6 502.55,1285.38 504.6,1284.2 C506.65,1283.02 508.98,1283.28 511.6,1282.4 C514.22,1281.52 517.1,1280.65 520.3,1278.9 C523.5,1277.15 527.28,1273.65 530.8,1271.9 C534.32,1270.15 538.18,1269.27 541.4,1268.4 C544.62,1267.53 547.48,1267.87 550.1,1266.7 C552.72,1265.53 554.82,1263.27 557.1,1261.4 C559.38,1259.53 561.23,1256.92 563.8,1255.5 C566.37,1254.08 569.58,1253.92 572.5,1252.9 C575.42,1251.88 578.38,1250.72 581.3,1249.4 C584.22,1248.08 586.8,1246.32 590,1245 C593.2,1243.68 596.98,1242.52 600.5,1241.5 C604.02,1240.48 607.58,1240.2 611.1,1238.9 C614.62,1237.6 618.1,1235.17 621.6,1233.7 C625.1,1232.23 628.9,1231.57 632.1,1230.1 C635.3,1228.63 638.17,1226.2 640.8,1224.9 C643.43,1223.6 645.55,1223.47 647.9,1222.3 C650.25,1221.13 652.57,1218.78 654.9,1217.9 C657.23,1217.02 660.73,1217.15 661.9,1217" stroke="#c0162d" stroke-width="2.3" fill="none"/>
<line x1="447.2" y1="1216.3" x2="447.2" y2="1341.3" stroke="#000" stroke-width="2.3"/>
<line x1="443" y1="1340.2" x2="448.3" y2="1340.2" stroke="#000" stroke-width="2.2"/>
<text x="406.2" y="1350.2" font-size="23.87" fill="#000" stroke="#000" stroke-width="0.35" textLength="32.31" lengthAdjust="spacingAndGlyphs">0.0</text>
<line x1="443" y1="1278.5" x2="448.3" y2="1278.5" stroke="#000" stroke-width="2.2"/>
<text x="406.26" y="1288.5" font-size="23.87" fill="#000" stroke="#000" stroke-width="0.35" textLength="32.31" lengthAdjust="spacingAndGlyphs">0.5</text>
<line x1="443" y1="1216.8" x2="448.3" y2="1216.8" stroke="#000" stroke-width="2.2"/>
<text x="406.2" y="1226.8" font-size="23.87" fill="#000" stroke="#000" stroke-width="0.35" textLength="32.31" lengthAdjust="spacingAndGlyphs">1.0</text>
<line x1="446.1" y1="1340.2" x2="661.3" y2="1340.2" stroke="#000" stroke-width="2.3"/>
<line x1="447.5" y1="1339.1" x2="447.5" y2="1344.4" stroke="#000" stroke-width="2.2"/>
<text x="441.45" y="1365.6" font-size="23.31" fill="#000" stroke="#000" stroke-width="0.35" textLength="12.1" lengthAdjust="spacingAndGlyphs">0</text>
<line x1="490.04" y1="1339.1" x2="490.04" y2="1344.4" stroke="#000" stroke-width="2.2"/>
<text x="474.5" y="1365.6" font-size="23.31" fill="#000" stroke="#000" stroke-width="0.35" textLength="30.24" lengthAdjust="spacingAndGlyphs">0.5</text>
<line x1="532.58" y1="1339.1" x2="532.58" y2="1344.4" stroke="#000" stroke-width="2.2"/>
<text x="525.33" y="1365.6" font-size="23.31" fill="#000" stroke="#000" stroke-width="0.35" textLength="12.1" lengthAdjust="spacingAndGlyphs">1</text>
<line x1="575.12" y1="1339.1" x2="575.12" y2="1344.4" stroke="#000" stroke-width="2.2"/>
<text x="558.28" y="1365.6" font-size="23.31" fill="#000" stroke="#000" stroke-width="0.35" textLength="30.24" lengthAdjust="spacingAndGlyphs">1.5</text>
<line x1="617.66" y1="1339.1" x2="617.66" y2="1344.4" stroke="#000" stroke-width="2.2"/>
<text x="609.81" y="1365.6" font-size="23.31" fill="#000" stroke="#000" stroke-width="0.35" textLength="12.1" lengthAdjust="spacingAndGlyphs">2</text>
<line x1="660.2" y1="1339.1" x2="660.2" y2="1344.4" stroke="#000" stroke-width="2.2"/>
<text x="642.74" y="1365.6" font-size="23.31" fill="#000" stroke="#000" stroke-width="0.35" textLength="30.24" lengthAdjust="spacingAndGlyphs">2.5</text>
<text x="517.01" y="1388" font-size="24.42" fill="#000" stroke="#000" stroke-width="0.35" textLength="80.15" lengthAdjust="spacingAndGlyphs">Time (s)</text>
<text transform="translate(374.5,1345.87) rotate(-90)" x="0" y="0" font-size="26.22" fill="#000" stroke="#000" stroke-width="0.35" textLength="115.6" lengthAdjust="spacingAndGlyphs">Cumulative</text>
<text transform="translate(396.5,1356.74) rotate(-90)" x="0" y="0" font-size="26.22" fill="#000" stroke="#000" stroke-width="0.35" textLength="136.45" lengthAdjust="spacingAndGlyphs">spike fraction</text>
<text x="570.83" y="1301.8" font-size="23.87" font-weight="bold" fill="#c0162d" stroke="#c0162d" stroke-width="0.35" textLength="93.92" lengthAdjust="spacingAndGlyphs">Pre-WAY</text>
<text x="555.39" y="1330" font-size="23.87" font-weight="bold" fill="#4f4f4f" stroke="#4f4f4f" stroke-width="0.35" textLength="109.38" lengthAdjust="spacingAndGlyphs">Post-WAY</text></svg>
</body></html>
